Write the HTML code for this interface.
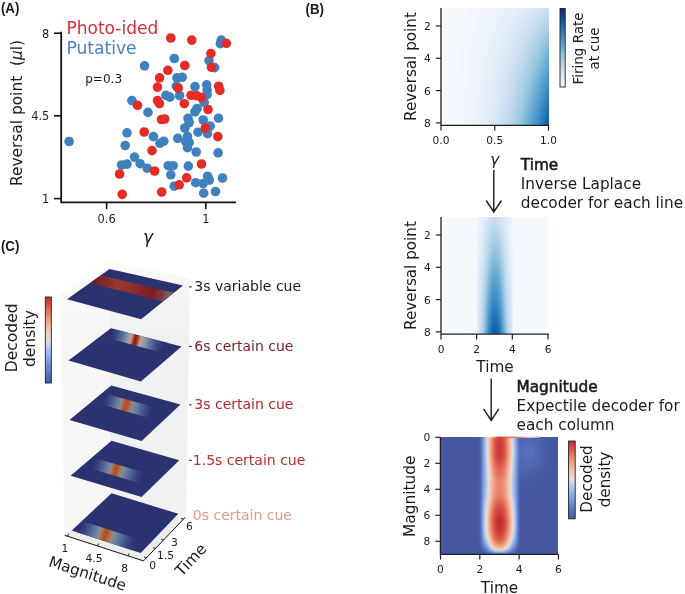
<!DOCTYPE html>
<html><head><meta charset="utf-8"><title>Figure</title>
<style>html,body{margin:0;padding:0;background:#fff}svg{display:block}</style></head>
<body>
<svg width="685" height="594" viewBox="0 0 685 594" font-family="'DejaVu Sans','Liberation Sans',sans-serif">
<defs>
<linearGradient id="g1" gradientUnits="userSpaceOnUse" x1="0" y1="8" x2="0" y2="125"><stop offset="0" stop-color="#f5f9fe"/><stop offset="0.2" stop-color="#f5f9fe"/><stop offset="0.4" stop-color="#f5f9fe"/><stop offset="0.6" stop-color="#f5f9fe"/><stop offset="0.8" stop-color="#f5f9fe"/><stop offset="1" stop-color="#f5f9fe"/></linearGradient>
<linearGradient id="g2" gradientUnits="userSpaceOnUse" x1="0" y1="8" x2="0" y2="125"><stop offset="0" stop-color="#f5f9fe"/><stop offset="0.2" stop-color="#f5f9fe"/><stop offset="0.4" stop-color="#f5f9fe"/><stop offset="0.6" stop-color="#f5f9fe"/><stop offset="0.8" stop-color="#f5f9fe"/><stop offset="1" stop-color="#f5f9fe"/></linearGradient>
<linearGradient id="g3" gradientUnits="userSpaceOnUse" x1="0" y1="8" x2="0" y2="125"><stop offset="0" stop-color="#f5f9fe"/><stop offset="0.2" stop-color="#f5f9fe"/><stop offset="0.4" stop-color="#f5f9fe"/><stop offset="0.6" stop-color="#f5f9fe"/><stop offset="0.8" stop-color="#f5f9fe"/><stop offset="1" stop-color="#f5f9fe"/></linearGradient>
<linearGradient id="g4" gradientUnits="userSpaceOnUse" x1="0" y1="8" x2="0" y2="125"><stop offset="0" stop-color="#f5f9fe"/><stop offset="0.2" stop-color="#f5f9fe"/><stop offset="0.4" stop-color="#f5f9fe"/><stop offset="0.6" stop-color="#f5f9fe"/><stop offset="0.8" stop-color="#f5f9fe"/><stop offset="1" stop-color="#f5f9fe"/></linearGradient>
<linearGradient id="g5" gradientUnits="userSpaceOnUse" x1="0" y1="8" x2="0" y2="125"><stop offset="0" stop-color="#f5f9fe"/><stop offset="0.2" stop-color="#f5f9fe"/><stop offset="0.4" stop-color="#f5f9fe"/><stop offset="0.6" stop-color="#f5f9fe"/><stop offset="0.8" stop-color="#f5f9fe"/><stop offset="1" stop-color="#f5f9fe"/></linearGradient>
<linearGradient id="g6" gradientUnits="userSpaceOnUse" x1="0" y1="8" x2="0" y2="125"><stop offset="0" stop-color="#f5f9fe"/><stop offset="0.2" stop-color="#f5f9fe"/><stop offset="0.4" stop-color="#f5f9fe"/><stop offset="0.6" stop-color="#f5f9fe"/><stop offset="0.8" stop-color="#f5f9fe"/><stop offset="1" stop-color="#f5f9fe"/></linearGradient>
<linearGradient id="g7" gradientUnits="userSpaceOnUse" x1="0" y1="8" x2="0" y2="125"><stop offset="0" stop-color="#f5f9fe"/><stop offset="0.2" stop-color="#f5f9fe"/><stop offset="0.4" stop-color="#f5f9fe"/><stop offset="0.6" stop-color="#f5f9fe"/><stop offset="0.8" stop-color="#f5f9fe"/><stop offset="1" stop-color="#f5f9fe"/></linearGradient>
<linearGradient id="g8" gradientUnits="userSpaceOnUse" x1="0" y1="8" x2="0" y2="125"><stop offset="0" stop-color="#f5f9fe"/><stop offset="0.2" stop-color="#f5f9fe"/><stop offset="0.4" stop-color="#f5f9fe"/><stop offset="0.6" stop-color="#f5f9fe"/><stop offset="0.8" stop-color="#f5f9fe"/><stop offset="1" stop-color="#f5f9fe"/></linearGradient>
<linearGradient id="g9" gradientUnits="userSpaceOnUse" x1="0" y1="8" x2="0" y2="125"><stop offset="0" stop-color="#f5f9fe"/><stop offset="0.2" stop-color="#f5f9fe"/><stop offset="0.4" stop-color="#f5f9fe"/><stop offset="0.6" stop-color="#f5f9fe"/><stop offset="0.8" stop-color="#f5f9fe"/><stop offset="1" stop-color="#f5f9fe"/></linearGradient>
<linearGradient id="g10" gradientUnits="userSpaceOnUse" x1="0" y1="8" x2="0" y2="125"><stop offset="0" stop-color="#f5f9fe"/><stop offset="0.2" stop-color="#f5f9fe"/><stop offset="0.4" stop-color="#f5f9fe"/><stop offset="0.6" stop-color="#f5f9fe"/><stop offset="0.8" stop-color="#f5f9fe"/><stop offset="1" stop-color="#f5f9fe"/></linearGradient>
<linearGradient id="g11" gradientUnits="userSpaceOnUse" x1="0" y1="8" x2="0" y2="125"><stop offset="0" stop-color="#f5f9fe"/><stop offset="0.2" stop-color="#f5f9fe"/><stop offset="0.4" stop-color="#f5f9fe"/><stop offset="0.6" stop-color="#f5f9fe"/><stop offset="0.8" stop-color="#f5f9fe"/><stop offset="1" stop-color="#f5f9fe"/></linearGradient>
<linearGradient id="g12" gradientUnits="userSpaceOnUse" x1="0" y1="8" x2="0" y2="125"><stop offset="0" stop-color="#f5f9fe"/><stop offset="0.2" stop-color="#f5f9fe"/><stop offset="0.4" stop-color="#f5f9fe"/><stop offset="0.6" stop-color="#f5f9fe"/><stop offset="0.8" stop-color="#f5f9fe"/><stop offset="1" stop-color="#f5f9fe"/></linearGradient>
<linearGradient id="g13" gradientUnits="userSpaceOnUse" x1="0" y1="8" x2="0" y2="125"><stop offset="0" stop-color="#f5f9fe"/><stop offset="0.2" stop-color="#f5f9fe"/><stop offset="0.4" stop-color="#f5f9fe"/><stop offset="0.6" stop-color="#f5f9fe"/><stop offset="0.8" stop-color="#f5f9fe"/><stop offset="1" stop-color="#f4f9fe"/></linearGradient>
<linearGradient id="g14" gradientUnits="userSpaceOnUse" x1="0" y1="8" x2="0" y2="125"><stop offset="0" stop-color="#f5f9fe"/><stop offset="0.2" stop-color="#f5f9fe"/><stop offset="0.4" stop-color="#f5f9fe"/><stop offset="0.6" stop-color="#f5f9fe"/><stop offset="0.8" stop-color="#f4f9fe"/><stop offset="1" stop-color="#f4f9fe"/></linearGradient>
<linearGradient id="g15" gradientUnits="userSpaceOnUse" x1="0" y1="8" x2="0" y2="125"><stop offset="0" stop-color="#f5f9fe"/><stop offset="0.2" stop-color="#f5f9fe"/><stop offset="0.4" stop-color="#f5f9fe"/><stop offset="0.6" stop-color="#f4f9fe"/><stop offset="0.8" stop-color="#f4f9fe"/><stop offset="1" stop-color="#f4f9fe"/></linearGradient>
<linearGradient id="g16" gradientUnits="userSpaceOnUse" x1="0" y1="8" x2="0" y2="125"><stop offset="0" stop-color="#f5f9fe"/><stop offset="0.2" stop-color="#f5f9fe"/><stop offset="0.4" stop-color="#f4f9fe"/><stop offset="0.6" stop-color="#f4f9fe"/><stop offset="0.8" stop-color="#f4f9fe"/><stop offset="1" stop-color="#f4f9fe"/></linearGradient>
<linearGradient id="g17" gradientUnits="userSpaceOnUse" x1="0" y1="8" x2="0" y2="125"><stop offset="0" stop-color="#f5f9fe"/><stop offset="0.2" stop-color="#f5f9fe"/><stop offset="0.4" stop-color="#f4f9fe"/><stop offset="0.6" stop-color="#f4f9fe"/><stop offset="0.8" stop-color="#f4f9fe"/><stop offset="1" stop-color="#f3f8fe"/></linearGradient>
<linearGradient id="g18" gradientUnits="userSpaceOnUse" x1="0" y1="8" x2="0" y2="125"><stop offset="0" stop-color="#f5f9fe"/><stop offset="0.2" stop-color="#f4f9fe"/><stop offset="0.4" stop-color="#f4f9fe"/><stop offset="0.6" stop-color="#f4f9fe"/><stop offset="0.8" stop-color="#f3f8fe"/><stop offset="1" stop-color="#f3f8fe"/></linearGradient>
<linearGradient id="g19" gradientUnits="userSpaceOnUse" x1="0" y1="8" x2="0" y2="125"><stop offset="0" stop-color="#f5f9fe"/><stop offset="0.2" stop-color="#f4f9fe"/><stop offset="0.4" stop-color="#f4f9fe"/><stop offset="0.6" stop-color="#f3f8fe"/><stop offset="0.8" stop-color="#f3f8fe"/><stop offset="1" stop-color="#f3f8fe"/></linearGradient>
<linearGradient id="g20" gradientUnits="userSpaceOnUse" x1="0" y1="8" x2="0" y2="125"><stop offset="0" stop-color="#f5f9fe"/><stop offset="0.2" stop-color="#f4f9fe"/><stop offset="0.4" stop-color="#f4f9fe"/><stop offset="0.6" stop-color="#f3f8fe"/><stop offset="0.8" stop-color="#f3f8fe"/><stop offset="1" stop-color="#f2f8fd"/></linearGradient>
<linearGradient id="g21" gradientUnits="userSpaceOnUse" x1="0" y1="8" x2="0" y2="125"><stop offset="0" stop-color="#f5f9fe"/><stop offset="0.2" stop-color="#f4f9fe"/><stop offset="0.4" stop-color="#f3f8fe"/><stop offset="0.6" stop-color="#f3f8fe"/><stop offset="0.8" stop-color="#f2f8fd"/><stop offset="1" stop-color="#f2f8fd"/></linearGradient>
<linearGradient id="g22" gradientUnits="userSpaceOnUse" x1="0" y1="8" x2="0" y2="125"><stop offset="0" stop-color="#f4f9fe"/><stop offset="0.2" stop-color="#f4f9fe"/><stop offset="0.4" stop-color="#f3f8fe"/><stop offset="0.6" stop-color="#f3f8fe"/><stop offset="0.8" stop-color="#f2f8fd"/><stop offset="1" stop-color="#f2f7fd"/></linearGradient>
<linearGradient id="g23" gradientUnits="userSpaceOnUse" x1="0" y1="8" x2="0" y2="125"><stop offset="0" stop-color="#f4f9fe"/><stop offset="0.2" stop-color="#f4f9fe"/><stop offset="0.4" stop-color="#f3f8fe"/><stop offset="0.6" stop-color="#f2f8fd"/><stop offset="0.8" stop-color="#f2f8fd"/><stop offset="1" stop-color="#f2f7fd"/></linearGradient>
<linearGradient id="g24" gradientUnits="userSpaceOnUse" x1="0" y1="8" x2="0" y2="125"><stop offset="0" stop-color="#f4f9fe"/><stop offset="0.2" stop-color="#f3f8fe"/><stop offset="0.4" stop-color="#f3f8fe"/><stop offset="0.6" stop-color="#f2f8fd"/><stop offset="0.8" stop-color="#f2f7fd"/><stop offset="1" stop-color="#f1f7fd"/></linearGradient>
<linearGradient id="g25" gradientUnits="userSpaceOnUse" x1="0" y1="8" x2="0" y2="125"><stop offset="0" stop-color="#f4f9fe"/><stop offset="0.2" stop-color="#f3f8fe"/><stop offset="0.4" stop-color="#f2f8fd"/><stop offset="0.6" stop-color="#f2f7fd"/><stop offset="0.8" stop-color="#f2f7fd"/><stop offset="1" stop-color="#f1f7fd"/></linearGradient>
<linearGradient id="g26" gradientUnits="userSpaceOnUse" x1="0" y1="8" x2="0" y2="125"><stop offset="0" stop-color="#f4f9fe"/><stop offset="0.2" stop-color="#f3f8fe"/><stop offset="0.4" stop-color="#f2f8fd"/><stop offset="0.6" stop-color="#f2f7fd"/><stop offset="0.8" stop-color="#f1f7fd"/><stop offset="1" stop-color="#f0f6fd"/></linearGradient>
<linearGradient id="g27" gradientUnits="userSpaceOnUse" x1="0" y1="8" x2="0" y2="125"><stop offset="0" stop-color="#f4f9fe"/><stop offset="0.2" stop-color="#f3f8fe"/><stop offset="0.4" stop-color="#f2f8fd"/><stop offset="0.6" stop-color="#f2f7fd"/><stop offset="0.8" stop-color="#f1f7fd"/><stop offset="1" stop-color="#f0f6fd"/></linearGradient>
<linearGradient id="g28" gradientUnits="userSpaceOnUse" x1="0" y1="8" x2="0" y2="125"><stop offset="0" stop-color="#f4f9fe"/><stop offset="0.2" stop-color="#f2f8fd"/><stop offset="0.4" stop-color="#f2f7fd"/><stop offset="0.6" stop-color="#f1f7fd"/><stop offset="0.8" stop-color="#f0f6fd"/><stop offset="1" stop-color="#eff6fc"/></linearGradient>
<linearGradient id="g29" gradientUnits="userSpaceOnUse" x1="0" y1="8" x2="0" y2="125"><stop offset="0" stop-color="#f3f8fe"/><stop offset="0.2" stop-color="#f2f8fd"/><stop offset="0.4" stop-color="#f2f7fd"/><stop offset="0.6" stop-color="#f1f7fd"/><stop offset="0.8" stop-color="#eff6fc"/><stop offset="1" stop-color="#eef5fc"/></linearGradient>
<linearGradient id="g30" gradientUnits="userSpaceOnUse" x1="0" y1="8" x2="0" y2="125"><stop offset="0" stop-color="#f3f8fe"/><stop offset="0.2" stop-color="#f2f8fd"/><stop offset="0.4" stop-color="#f1f7fd"/><stop offset="0.6" stop-color="#f0f6fd"/><stop offset="0.8" stop-color="#eff6fc"/><stop offset="1" stop-color="#eef5fc"/></linearGradient>
<linearGradient id="g31" gradientUnits="userSpaceOnUse" x1="0" y1="8" x2="0" y2="125"><stop offset="0" stop-color="#f3f8fe"/><stop offset="0.2" stop-color="#f2f7fd"/><stop offset="0.4" stop-color="#f1f7fd"/><stop offset="0.6" stop-color="#f0f6fd"/><stop offset="0.8" stop-color="#eef5fc"/><stop offset="1" stop-color="#eef5fc"/></linearGradient>
<linearGradient id="g32" gradientUnits="userSpaceOnUse" x1="0" y1="8" x2="0" y2="125"><stop offset="0" stop-color="#f3f8fe"/><stop offset="0.2" stop-color="#f2f7fd"/><stop offset="0.4" stop-color="#f1f7fd"/><stop offset="0.6" stop-color="#eff6fc"/><stop offset="0.8" stop-color="#eef5fc"/><stop offset="1" stop-color="#edf4fc"/></linearGradient>
<linearGradient id="g33" gradientUnits="userSpaceOnUse" x1="0" y1="8" x2="0" y2="125"><stop offset="0" stop-color="#f3f8fe"/><stop offset="0.2" stop-color="#f2f7fd"/><stop offset="0.4" stop-color="#f0f6fd"/><stop offset="0.6" stop-color="#eef5fc"/><stop offset="0.8" stop-color="#eef5fc"/><stop offset="1" stop-color="#ecf4fb"/></linearGradient>
<linearGradient id="g34" gradientUnits="userSpaceOnUse" x1="0" y1="8" x2="0" y2="125"><stop offset="0" stop-color="#f2f8fd"/><stop offset="0.2" stop-color="#f1f7fd"/><stop offset="0.4" stop-color="#f0f6fd"/><stop offset="0.6" stop-color="#eef5fc"/><stop offset="0.8" stop-color="#edf4fc"/><stop offset="1" stop-color="#ebf3fb"/></linearGradient>
<linearGradient id="g35" gradientUnits="userSpaceOnUse" x1="0" y1="8" x2="0" y2="125"><stop offset="0" stop-color="#f2f8fd"/><stop offset="0.2" stop-color="#f1f7fd"/><stop offset="0.4" stop-color="#eff6fc"/><stop offset="0.6" stop-color="#eef5fc"/><stop offset="0.8" stop-color="#ecf4fb"/><stop offset="1" stop-color="#ebf3fb"/></linearGradient>
<linearGradient id="g36" gradientUnits="userSpaceOnUse" x1="0" y1="8" x2="0" y2="125"><stop offset="0" stop-color="#f2f8fd"/><stop offset="0.2" stop-color="#f1f7fd"/><stop offset="0.4" stop-color="#eff6fc"/><stop offset="0.6" stop-color="#edf4fc"/><stop offset="0.8" stop-color="#ecf4fb"/><stop offset="1" stop-color="#eaf3fb"/></linearGradient>
<linearGradient id="g37" gradientUnits="userSpaceOnUse" x1="0" y1="8" x2="0" y2="125"><stop offset="0" stop-color="#f2f8fd"/><stop offset="0.2" stop-color="#f0f6fd"/><stop offset="0.4" stop-color="#eef5fc"/><stop offset="0.6" stop-color="#edf4fc"/><stop offset="0.8" stop-color="#ebf3fb"/><stop offset="1" stop-color="#eaf2fb"/></linearGradient>
<linearGradient id="g38" gradientUnits="userSpaceOnUse" x1="0" y1="8" x2="0" y2="125"><stop offset="0" stop-color="#f2f7fd"/><stop offset="0.2" stop-color="#f0f6fd"/><stop offset="0.4" stop-color="#eef5fc"/><stop offset="0.6" stop-color="#ecf4fb"/><stop offset="0.8" stop-color="#eaf3fb"/><stop offset="1" stop-color="#e9f2fa"/></linearGradient>
<linearGradient id="g39" gradientUnits="userSpaceOnUse" x1="0" y1="8" x2="0" y2="125"><stop offset="0" stop-color="#f2f7fd"/><stop offset="0.2" stop-color="#eff6fc"/><stop offset="0.4" stop-color="#eef5fc"/><stop offset="0.6" stop-color="#ebf3fb"/><stop offset="0.8" stop-color="#eaf2fb"/><stop offset="1" stop-color="#e8f1fa"/></linearGradient>
<linearGradient id="g40" gradientUnits="userSpaceOnUse" x1="0" y1="8" x2="0" y2="125"><stop offset="0" stop-color="#f2f7fd"/><stop offset="0.2" stop-color="#eff6fc"/><stop offset="0.4" stop-color="#edf4fc"/><stop offset="0.6" stop-color="#eaf3fb"/><stop offset="0.8" stop-color="#e9f2fa"/><stop offset="1" stop-color="#e7f0fa"/></linearGradient>
<linearGradient id="g41" gradientUnits="userSpaceOnUse" x1="0" y1="8" x2="0" y2="125"><stop offset="0" stop-color="#f2f7fd"/><stop offset="0.2" stop-color="#eef5fc"/><stop offset="0.4" stop-color="#ecf4fb"/><stop offset="0.6" stop-color="#eaf3fb"/><stop offset="0.8" stop-color="#e8f1fa"/><stop offset="1" stop-color="#e6f0f9"/></linearGradient>
<linearGradient id="g42" gradientUnits="userSpaceOnUse" x1="0" y1="8" x2="0" y2="125"><stop offset="0" stop-color="#f1f7fd"/><stop offset="0.2" stop-color="#eef5fc"/><stop offset="0.4" stop-color="#ecf4fb"/><stop offset="0.6" stop-color="#eaf2fb"/><stop offset="0.8" stop-color="#e7f1fa"/><stop offset="1" stop-color="#e5eff9"/></linearGradient>
<linearGradient id="g43" gradientUnits="userSpaceOnUse" x1="0" y1="8" x2="0" y2="125"><stop offset="0" stop-color="#f1f7fd"/><stop offset="0.2" stop-color="#eef5fc"/><stop offset="0.4" stop-color="#ebf3fb"/><stop offset="0.6" stop-color="#e9f2fa"/><stop offset="0.8" stop-color="#e7f0fa"/><stop offset="1" stop-color="#e4eff9"/></linearGradient>
<linearGradient id="g44" gradientUnits="userSpaceOnUse" x1="0" y1="8" x2="0" y2="125"><stop offset="0" stop-color="#f1f7fd"/><stop offset="0.2" stop-color="#eef5fc"/><stop offset="0.4" stop-color="#eaf3fb"/><stop offset="0.6" stop-color="#e8f1fa"/><stop offset="0.8" stop-color="#e6f0f9"/><stop offset="1" stop-color="#e3eef9"/></linearGradient>
<linearGradient id="g45" gradientUnits="userSpaceOnUse" x1="0" y1="8" x2="0" y2="125"><stop offset="0" stop-color="#f0f6fd"/><stop offset="0.2" stop-color="#edf4fc"/><stop offset="0.4" stop-color="#eaf3fb"/><stop offset="0.6" stop-color="#e7f1fa"/><stop offset="0.8" stop-color="#e5eff9"/><stop offset="1" stop-color="#e2edf8"/></linearGradient>
<linearGradient id="g46" gradientUnits="userSpaceOnUse" x1="0" y1="8" x2="0" y2="125"><stop offset="0" stop-color="#f0f6fd"/><stop offset="0.2" stop-color="#edf4fc"/><stop offset="0.4" stop-color="#eaf2fb"/><stop offset="0.6" stop-color="#e7f0fa"/><stop offset="0.8" stop-color="#e3eef9"/><stop offset="1" stop-color="#e1edf8"/></linearGradient>
<linearGradient id="g47" gradientUnits="userSpaceOnUse" x1="0" y1="8" x2="0" y2="125"><stop offset="0" stop-color="#f0f6fd"/><stop offset="0.2" stop-color="#ecf4fb"/><stop offset="0.4" stop-color="#e9f2fa"/><stop offset="0.6" stop-color="#e6f0f9"/><stop offset="0.8" stop-color="#e3eef8"/><stop offset="1" stop-color="#e0ecf8"/></linearGradient>
<linearGradient id="g48" gradientUnits="userSpaceOnUse" x1="0" y1="8" x2="0" y2="125"><stop offset="0" stop-color="#eff6fc"/><stop offset="0.2" stop-color="#ecf4fb"/><stop offset="0.4" stop-color="#e8f1fa"/><stop offset="0.6" stop-color="#e5eff9"/><stop offset="0.8" stop-color="#e2edf8"/><stop offset="1" stop-color="#dfebf7"/></linearGradient>
<linearGradient id="g49" gradientUnits="userSpaceOnUse" x1="0" y1="8" x2="0" y2="125"><stop offset="0" stop-color="#eff6fc"/><stop offset="0.2" stop-color="#ebf3fb"/><stop offset="0.4" stop-color="#e7f1fa"/><stop offset="0.6" stop-color="#e4eff9"/><stop offset="0.8" stop-color="#e1edf8"/><stop offset="1" stop-color="#deebf7"/></linearGradient>
<linearGradient id="g50" gradientUnits="userSpaceOnUse" x1="0" y1="8" x2="0" y2="125"><stop offset="0" stop-color="#eff6fc"/><stop offset="0.2" stop-color="#eaf3fb"/><stop offset="0.4" stop-color="#e7f0fa"/><stop offset="0.6" stop-color="#e3eef9"/><stop offset="0.8" stop-color="#dfecf7"/><stop offset="1" stop-color="#dceaf6"/></linearGradient>
<linearGradient id="g51" gradientUnits="userSpaceOnUse" x1="0" y1="8" x2="0" y2="125"><stop offset="0" stop-color="#eef5fc"/><stop offset="0.2" stop-color="#eaf3fb"/><stop offset="0.4" stop-color="#e7f0fa"/><stop offset="0.6" stop-color="#e3eef8"/><stop offset="0.8" stop-color="#dfebf7"/><stop offset="1" stop-color="#dbe9f6"/></linearGradient>
<linearGradient id="g52" gradientUnits="userSpaceOnUse" x1="0" y1="8" x2="0" y2="125"><stop offset="0" stop-color="#eef5fc"/><stop offset="0.2" stop-color="#eaf2fb"/><stop offset="0.4" stop-color="#e6f0f9"/><stop offset="0.6" stop-color="#e2edf8"/><stop offset="0.8" stop-color="#deebf7"/><stop offset="1" stop-color="#dae8f6"/></linearGradient>
<linearGradient id="g53" gradientUnits="userSpaceOnUse" x1="0" y1="8" x2="0" y2="125"><stop offset="0" stop-color="#eef5fc"/><stop offset="0.2" stop-color="#e9f2fa"/><stop offset="0.4" stop-color="#e5eff9"/><stop offset="0.6" stop-color="#e0ecf8"/><stop offset="0.8" stop-color="#dceaf6"/><stop offset="1" stop-color="#d9e7f5"/></linearGradient>
<linearGradient id="g54" gradientUnits="userSpaceOnUse" x1="0" y1="8" x2="0" y2="125"><stop offset="0" stop-color="#eef5fc"/><stop offset="0.2" stop-color="#e9f2fa"/><stop offset="0.4" stop-color="#e4eff9"/><stop offset="0.6" stop-color="#dfecf7"/><stop offset="0.8" stop-color="#dce9f6"/><stop offset="1" stop-color="#d7e6f5"/></linearGradient>
<linearGradient id="g55" gradientUnits="userSpaceOnUse" x1="0" y1="8" x2="0" y2="125"><stop offset="0" stop-color="#edf4fc"/><stop offset="0.2" stop-color="#e8f1fa"/><stop offset="0.4" stop-color="#e3eef9"/><stop offset="0.6" stop-color="#dfebf7"/><stop offset="0.8" stop-color="#dae8f6"/><stop offset="1" stop-color="#d6e6f4"/></linearGradient>
<linearGradient id="g56" gradientUnits="userSpaceOnUse" x1="0" y1="8" x2="0" y2="125"><stop offset="0" stop-color="#edf4fc"/><stop offset="0.2" stop-color="#e7f1fa"/><stop offset="0.4" stop-color="#e3eef8"/><stop offset="0.6" stop-color="#ddeaf7"/><stop offset="0.8" stop-color="#d9e8f5"/><stop offset="1" stop-color="#d5e5f4"/></linearGradient>
<linearGradient id="g57" gradientUnits="userSpaceOnUse" x1="0" y1="8" x2="0" y2="125"><stop offset="0" stop-color="#ecf4fb"/><stop offset="0.2" stop-color="#e7f0fa"/><stop offset="0.4" stop-color="#e2edf8"/><stop offset="0.6" stop-color="#dceaf6"/><stop offset="0.8" stop-color="#d8e7f5"/><stop offset="1" stop-color="#d3e4f3"/></linearGradient>
<linearGradient id="g58" gradientUnits="userSpaceOnUse" x1="0" y1="8" x2="0" y2="125"><stop offset="0" stop-color="#ecf4fb"/><stop offset="0.2" stop-color="#e6f0f9"/><stop offset="0.4" stop-color="#e0ecf8"/><stop offset="0.6" stop-color="#dce9f6"/><stop offset="0.8" stop-color="#d6e6f4"/><stop offset="1" stop-color="#d2e3f3"/></linearGradient>
<linearGradient id="g59" gradientUnits="userSpaceOnUse" x1="0" y1="8" x2="0" y2="125"><stop offset="0" stop-color="#ebf3fb"/><stop offset="0.2" stop-color="#e6f0f9"/><stop offset="0.4" stop-color="#dfecf7"/><stop offset="0.6" stop-color="#dae8f6"/><stop offset="0.8" stop-color="#d6e5f4"/><stop offset="1" stop-color="#d0e2f2"/></linearGradient>
<linearGradient id="g60" gradientUnits="userSpaceOnUse" x1="0" y1="8" x2="0" y2="125"><stop offset="0" stop-color="#ebf3fb"/><stop offset="0.2" stop-color="#e5eff9"/><stop offset="0.4" stop-color="#dfebf7"/><stop offset="0.6" stop-color="#d9e8f5"/><stop offset="0.8" stop-color="#d4e4f4"/><stop offset="1" stop-color="#cfe1f2"/></linearGradient>
<linearGradient id="g61" gradientUnits="userSpaceOnUse" x1="0" y1="8" x2="0" y2="125"><stop offset="0" stop-color="#eaf3fb"/><stop offset="0.2" stop-color="#e4eff9"/><stop offset="0.4" stop-color="#deebf7"/><stop offset="0.6" stop-color="#d8e7f5"/><stop offset="0.8" stop-color="#d3e3f3"/><stop offset="1" stop-color="#cde0f1"/></linearGradient>
<linearGradient id="g62" gradientUnits="userSpaceOnUse" x1="0" y1="8" x2="0" y2="125"><stop offset="0" stop-color="#eaf3fb"/><stop offset="0.2" stop-color="#e3eef9"/><stop offset="0.4" stop-color="#ddeaf7"/><stop offset="0.6" stop-color="#d7e6f5"/><stop offset="0.8" stop-color="#d1e2f3"/><stop offset="1" stop-color="#ccdff1"/></linearGradient>
<linearGradient id="g63" gradientUnits="userSpaceOnUse" x1="0" y1="8" x2="0" y2="125"><stop offset="0" stop-color="#eaf2fb"/><stop offset="0.2" stop-color="#e3eef8"/><stop offset="0.4" stop-color="#dceaf6"/><stop offset="0.6" stop-color="#d6e5f4"/><stop offset="0.8" stop-color="#d0e1f2"/><stop offset="1" stop-color="#cadef0"/></linearGradient>
<linearGradient id="g64" gradientUnits="userSpaceOnUse" x1="0" y1="8" x2="0" y2="125"><stop offset="0" stop-color="#eaf2fb"/><stop offset="0.2" stop-color="#e2edf8"/><stop offset="0.4" stop-color="#dbe9f6"/><stop offset="0.6" stop-color="#d5e5f4"/><stop offset="0.8" stop-color="#cee0f2"/><stop offset="1" stop-color="#c8dcf0"/></linearGradient>
<linearGradient id="g65" gradientUnits="userSpaceOnUse" x1="0" y1="8" x2="0" y2="125"><stop offset="0" stop-color="#e9f2fa"/><stop offset="0.2" stop-color="#e1edf8"/><stop offset="0.4" stop-color="#dae8f6"/><stop offset="0.6" stop-color="#d3e4f3"/><stop offset="0.8" stop-color="#cde0f1"/><stop offset="1" stop-color="#c7dbef"/></linearGradient>
<linearGradient id="g66" gradientUnits="userSpaceOnUse" x1="0" y1="8" x2="0" y2="125"><stop offset="0" stop-color="#e9f2fa"/><stop offset="0.2" stop-color="#e0ecf8"/><stop offset="0.4" stop-color="#d9e8f5"/><stop offset="0.6" stop-color="#d2e3f3"/><stop offset="0.8" stop-color="#cbdef1"/><stop offset="1" stop-color="#c4daee"/></linearGradient>
<linearGradient id="g67" gradientUnits="userSpaceOnUse" x1="0" y1="8" x2="0" y2="125"><stop offset="0" stop-color="#e8f1fa"/><stop offset="0.2" stop-color="#dfecf7"/><stop offset="0.4" stop-color="#d8e7f5"/><stop offset="0.6" stop-color="#d1e2f3"/><stop offset="0.8" stop-color="#caddf0"/><stop offset="1" stop-color="#c1d9ed"/></linearGradient>
<linearGradient id="g68" gradientUnits="userSpaceOnUse" x1="0" y1="8" x2="0" y2="125"><stop offset="0" stop-color="#e7f1fa"/><stop offset="0.2" stop-color="#dfebf7"/><stop offset="0.4" stop-color="#d7e6f5"/><stop offset="0.6" stop-color="#d0e1f2"/><stop offset="0.8" stop-color="#c8dcf0"/><stop offset="1" stop-color="#bed8ec"/></linearGradient>
<linearGradient id="g69" gradientUnits="userSpaceOnUse" x1="0" y1="8" x2="0" y2="125"><stop offset="0" stop-color="#e7f1fa"/><stop offset="0.2" stop-color="#deebf7"/><stop offset="0.4" stop-color="#d6e5f4"/><stop offset="0.6" stop-color="#cee0f2"/><stop offset="0.8" stop-color="#c7dbef"/><stop offset="1" stop-color="#bcd7eb"/></linearGradient>
<linearGradient id="g70" gradientUnits="userSpaceOnUse" x1="0" y1="8" x2="0" y2="125"><stop offset="0" stop-color="#e7f0fa"/><stop offset="0.2" stop-color="#ddeaf7"/><stop offset="0.4" stop-color="#d5e5f4"/><stop offset="0.6" stop-color="#cddff1"/><stop offset="0.8" stop-color="#c4daee"/><stop offset="1" stop-color="#b8d5ea"/></linearGradient>
<linearGradient id="g71" gradientUnits="userSpaceOnUse" x1="0" y1="8" x2="0" y2="125"><stop offset="0" stop-color="#e6f0f9"/><stop offset="0.2" stop-color="#dceaf6"/><stop offset="0.4" stop-color="#d3e4f3"/><stop offset="0.6" stop-color="#cbdef1"/><stop offset="0.8" stop-color="#c2d9ee"/><stop offset="1" stop-color="#b4d3e9"/></linearGradient>
<linearGradient id="g72" gradientUnits="userSpaceOnUse" x1="0" y1="8" x2="0" y2="125"><stop offset="0" stop-color="#e6f0f9"/><stop offset="0.2" stop-color="#dce9f6"/><stop offset="0.4" stop-color="#d3e3f3"/><stop offset="0.6" stop-color="#cadef0"/><stop offset="0.8" stop-color="#bed8ec"/><stop offset="1" stop-color="#b2d2e8"/></linearGradient>
<linearGradient id="g73" gradientUnits="userSpaceOnUse" x1="0" y1="8" x2="0" y2="125"><stop offset="0" stop-color="#e5eff9"/><stop offset="0.2" stop-color="#dbe9f6"/><stop offset="0.4" stop-color="#d1e2f3"/><stop offset="0.6" stop-color="#c9ddf0"/><stop offset="0.8" stop-color="#bcd7eb"/><stop offset="1" stop-color="#aed1e7"/></linearGradient>
<linearGradient id="g74" gradientUnits="userSpaceOnUse" x1="0" y1="8" x2="0" y2="125"><stop offset="0" stop-color="#e4eff9"/><stop offset="0.2" stop-color="#dae8f6"/><stop offset="0.4" stop-color="#d0e2f2"/><stop offset="0.6" stop-color="#c7dcef"/><stop offset="0.8" stop-color="#b9d6ea"/><stop offset="1" stop-color="#aacfe5"/></linearGradient>
<linearGradient id="g75" gradientUnits="userSpaceOnUse" x1="0" y1="8" x2="0" y2="125"><stop offset="0" stop-color="#e4eff9"/><stop offset="0.2" stop-color="#d9e7f5"/><stop offset="0.4" stop-color="#cfe1f2"/><stop offset="0.6" stop-color="#c6dbef"/><stop offset="0.8" stop-color="#b5d4e9"/><stop offset="1" stop-color="#a6cee4"/></linearGradient>
<linearGradient id="g76" gradientUnits="userSpaceOnUse" x1="0" y1="8" x2="0" y2="125"><stop offset="0" stop-color="#e3eef9"/><stop offset="0.2" stop-color="#d8e7f5"/><stop offset="0.4" stop-color="#cee0f2"/><stop offset="0.6" stop-color="#c2d9ee"/><stop offset="0.8" stop-color="#b3d3e8"/><stop offset="1" stop-color="#a4cce3"/></linearGradient>
<linearGradient id="g77" gradientUnits="userSpaceOnUse" x1="0" y1="8" x2="0" y2="125"><stop offset="0" stop-color="#e3eef8"/><stop offset="0.2" stop-color="#d7e6f5"/><stop offset="0.4" stop-color="#cddff1"/><stop offset="0.6" stop-color="#bfd8ed"/><stop offset="0.8" stop-color="#afd1e7"/><stop offset="1" stop-color="#a0cbe2"/></linearGradient>
<linearGradient id="g78" gradientUnits="userSpaceOnUse" x1="0" y1="8" x2="0" y2="125"><stop offset="0" stop-color="#e2edf8"/><stop offset="0.2" stop-color="#d6e6f4"/><stop offset="0.4" stop-color="#cbdef1"/><stop offset="0.6" stop-color="#bdd7ec"/><stop offset="0.8" stop-color="#add0e6"/><stop offset="1" stop-color="#9cc9e1"/></linearGradient>
<linearGradient id="g79" gradientUnits="userSpaceOnUse" x1="0" y1="8" x2="0" y2="125"><stop offset="0" stop-color="#e2edf8"/><stop offset="0.2" stop-color="#d6e5f4"/><stop offset="0.4" stop-color="#caddf0"/><stop offset="0.6" stop-color="#bad6eb"/><stop offset="0.8" stop-color="#a9cfe5"/><stop offset="1" stop-color="#97c6df"/></linearGradient>
<linearGradient id="g80" gradientUnits="userSpaceOnUse" x1="0" y1="8" x2="0" y2="125"><stop offset="0" stop-color="#e1edf8"/><stop offset="0.2" stop-color="#d4e4f4"/><stop offset="0.4" stop-color="#c9ddf0"/><stop offset="0.6" stop-color="#b8d5ea"/><stop offset="0.8" stop-color="#a5cde3"/><stop offset="1" stop-color="#92c4de"/></linearGradient>
<linearGradient id="g81" gradientUnits="userSpaceOnUse" x1="0" y1="8" x2="0" y2="125"><stop offset="0" stop-color="#e0ecf8"/><stop offset="0.2" stop-color="#d3e4f3"/><stop offset="0.4" stop-color="#c7dcef"/><stop offset="0.6" stop-color="#b5d4e9"/><stop offset="0.8" stop-color="#a3cce3"/><stop offset="1" stop-color="#8cc0dd"/></linearGradient>
<linearGradient id="g82" gradientUnits="userSpaceOnUse" x1="0" y1="8" x2="0" y2="125"><stop offset="0" stop-color="#dfecf7"/><stop offset="0.2" stop-color="#d3e3f3"/><stop offset="0.4" stop-color="#c6dbef"/><stop offset="0.6" stop-color="#b2d2e8"/><stop offset="0.8" stop-color="#9fcae1"/><stop offset="1" stop-color="#87bddc"/></linearGradient>
<linearGradient id="g83" gradientUnits="userSpaceOnUse" x1="0" y1="8" x2="0" y2="125"><stop offset="0" stop-color="#dfecf7"/><stop offset="0.2" stop-color="#d1e2f3"/><stop offset="0.4" stop-color="#c3daee"/><stop offset="0.6" stop-color="#afd1e7"/><stop offset="0.8" stop-color="#9ac8e0"/><stop offset="1" stop-color="#82bbdb"/></linearGradient>
<linearGradient id="g84" gradientUnits="userSpaceOnUse" x1="0" y1="8" x2="0" y2="125"><stop offset="0" stop-color="#dfebf7"/><stop offset="0.2" stop-color="#d0e2f2"/><stop offset="0.4" stop-color="#c1d9ed"/><stop offset="0.6" stop-color="#abd0e6"/><stop offset="0.8" stop-color="#95c5df"/><stop offset="1" stop-color="#7db8da"/></linearGradient>
<linearGradient id="g85" gradientUnits="userSpaceOnUse" x1="0" y1="8" x2="0" y2="125"><stop offset="0" stop-color="#deebf7"/><stop offset="0.2" stop-color="#cfe1f2"/><stop offset="0.4" stop-color="#bed8ec"/><stop offset="0.6" stop-color="#a9cfe5"/><stop offset="0.8" stop-color="#91c3de"/><stop offset="1" stop-color="#77b5d9"/></linearGradient>
<linearGradient id="g86" gradientUnits="userSpaceOnUse" x1="0" y1="8" x2="0" y2="125"><stop offset="0" stop-color="#ddeaf7"/><stop offset="0.2" stop-color="#cee0f2"/><stop offset="0.4" stop-color="#bcd7eb"/><stop offset="0.6" stop-color="#a6cee4"/><stop offset="0.8" stop-color="#8cc0dd"/><stop offset="1" stop-color="#72b2d8"/></linearGradient>
<linearGradient id="g87" gradientUnits="userSpaceOnUse" x1="0" y1="8" x2="0" y2="125"><stop offset="0" stop-color="#dceaf6"/><stop offset="0.2" stop-color="#cddff1"/><stop offset="0.4" stop-color="#b9d6ea"/><stop offset="0.6" stop-color="#a3cce3"/><stop offset="0.8" stop-color="#87bddc"/><stop offset="1" stop-color="#6caed6"/></linearGradient>
<linearGradient id="g88" gradientUnits="userSpaceOnUse" x1="0" y1="8" x2="0" y2="125"><stop offset="0" stop-color="#dce9f6"/><stop offset="0.2" stop-color="#ccdff1"/><stop offset="0.4" stop-color="#b7d4ea"/><stop offset="0.6" stop-color="#9fcae1"/><stop offset="0.8" stop-color="#82bbdb"/><stop offset="1" stop-color="#68acd5"/></linearGradient>
<linearGradient id="g89" gradientUnits="userSpaceOnUse" x1="0" y1="8" x2="0" y2="125"><stop offset="0" stop-color="#dbe9f6"/><stop offset="0.2" stop-color="#cadef0"/><stop offset="0.4" stop-color="#b4d3e9"/><stop offset="0.6" stop-color="#9cc9e1"/><stop offset="0.8" stop-color="#7db8da"/><stop offset="1" stop-color="#63a8d3"/></linearGradient>
<linearGradient id="g90" gradientUnits="userSpaceOnUse" x1="0" y1="8" x2="0" y2="125"><stop offset="0" stop-color="#dae8f6"/><stop offset="0.2" stop-color="#caddf0"/><stop offset="0.4" stop-color="#b2d2e8"/><stop offset="0.6" stop-color="#97c6df"/><stop offset="0.8" stop-color="#79b5d9"/><stop offset="1" stop-color="#5da5d1"/></linearGradient>
<linearGradient id="g91" gradientUnits="userSpaceOnUse" x1="0" y1="8" x2="0" y2="125"><stop offset="0" stop-color="#d9e8f5"/><stop offset="0.2" stop-color="#c8dcf0"/><stop offset="0.4" stop-color="#afd1e7"/><stop offset="0.6" stop-color="#92c4de"/><stop offset="0.8" stop-color="#74b3d8"/><stop offset="1" stop-color="#5aa2cf"/></linearGradient>
<linearGradient id="g92" gradientUnits="userSpaceOnUse" x1="0" y1="8" x2="0" y2="125"><stop offset="0" stop-color="#d9e7f5"/><stop offset="0.2" stop-color="#c7dcef"/><stop offset="0.4" stop-color="#add0e6"/><stop offset="0.6" stop-color="#8fc2de"/><stop offset="0.8" stop-color="#6dafd7"/><stop offset="1" stop-color="#549fcd"/></linearGradient>
<linearGradient id="g93" gradientUnits="userSpaceOnUse" x1="0" y1="8" x2="0" y2="125"><stop offset="0" stop-color="#d8e7f5"/><stop offset="0.2" stop-color="#c6dbef"/><stop offset="0.4" stop-color="#aacfe5"/><stop offset="0.6" stop-color="#8abfdd"/><stop offset="0.8" stop-color="#69add5"/><stop offset="1" stop-color="#4f9bcb"/></linearGradient>
<linearGradient id="g94" gradientUnits="userSpaceOnUse" x1="0" y1="8" x2="0" y2="125"><stop offset="0" stop-color="#d7e6f5"/><stop offset="0.2" stop-color="#c4daee"/><stop offset="0.4" stop-color="#a6cee4"/><stop offset="0.6" stop-color="#85bcdc"/><stop offset="0.8" stop-color="#65aad4"/><stop offset="1" stop-color="#4a98c9"/></linearGradient>
<linearGradient id="g95" gradientUnits="userSpaceOnUse" x1="0" y1="8" x2="0" y2="125"><stop offset="0" stop-color="#d6e6f4"/><stop offset="0.2" stop-color="#c2d9ee"/><stop offset="0.4" stop-color="#a4cce3"/><stop offset="0.6" stop-color="#81badb"/><stop offset="0.8" stop-color="#60a7d2"/><stop offset="1" stop-color="#4594c7"/></linearGradient>
<linearGradient id="g96" gradientUnits="userSpaceOnUse" x1="0" y1="8" x2="0" y2="125"><stop offset="0" stop-color="#d6e5f4"/><stop offset="0.2" stop-color="#bfd8ed"/><stop offset="0.4" stop-color="#a1cbe2"/><stop offset="0.6" stop-color="#7cb7da"/><stop offset="0.8" stop-color="#5ca4d0"/><stop offset="1" stop-color="#4090c5"/></linearGradient>
<linearGradient id="g97" gradientUnits="userSpaceOnUse" x1="0" y1="8" x2="0" y2="125"><stop offset="0" stop-color="#d5e5f4"/><stop offset="0.2" stop-color="#bdd7ec"/><stop offset="0.4" stop-color="#9dcae1"/><stop offset="0.6" stop-color="#77b5d9"/><stop offset="0.8" stop-color="#57a0ce"/><stop offset="1" stop-color="#3c8cc3"/></linearGradient>
<linearGradient id="g98" gradientUnits="userSpaceOnUse" x1="0" y1="8" x2="0" y2="125"><stop offset="0" stop-color="#d4e4f4"/><stop offset="0.2" stop-color="#bcd7eb"/><stop offset="0.4" stop-color="#9ac8e0"/><stop offset="0.6" stop-color="#72b2d8"/><stop offset="0.8" stop-color="#539ecd"/><stop offset="1" stop-color="#3888c1"/></linearGradient>
<linearGradient id="g99" gradientUnits="userSpaceOnUse" x1="0" y1="8" x2="0" y2="125"><stop offset="0" stop-color="#d3e4f3"/><stop offset="0.2" stop-color="#b9d6ea"/><stop offset="0.4" stop-color="#95c5df"/><stop offset="0.6" stop-color="#6dafd7"/><stop offset="0.8" stop-color="#4e9acb"/><stop offset="1" stop-color="#3383be"/></linearGradient>
<linearGradient id="g100" gradientUnits="userSpaceOnUse" x1="0" y1="8" x2="0" y2="125"><stop offset="0" stop-color="#d3e3f3"/><stop offset="0.2" stop-color="#b7d4ea"/><stop offset="0.4" stop-color="#92c4de"/><stop offset="0.6" stop-color="#69add5"/><stop offset="0.8" stop-color="#4997c9"/><stop offset="1" stop-color="#2f7fbc"/></linearGradient>
<linearGradient id="g101" gradientUnits="userSpaceOnUse" x1="0" y1="8" x2="0" y2="125"><stop offset="0" stop-color="#d2e3f3"/><stop offset="0.2" stop-color="#b4d3e9"/><stop offset="0.4" stop-color="#8fc2de"/><stop offset="0.6" stop-color="#65aad4"/><stop offset="0.8" stop-color="#4493c7"/><stop offset="1" stop-color="#2b7bba"/></linearGradient>
<linearGradient id="g102" gradientUnits="userSpaceOnUse" x1="0" y1="8" x2="0" y2="125"><stop offset="0" stop-color="#d1e2f3"/><stop offset="0.2" stop-color="#b2d2e8"/><stop offset="0.4" stop-color="#8abfdd"/><stop offset="0.6" stop-color="#61a7d2"/><stop offset="0.8" stop-color="#4090c5"/><stop offset="1" stop-color="#2575b7"/></linearGradient>
<linearGradient id="g103" gradientUnits="userSpaceOnUse" x1="0" y1="8" x2="0" y2="125"><stop offset="0" stop-color="#d0e2f2"/><stop offset="0.2" stop-color="#b0d2e7"/><stop offset="0.4" stop-color="#85bcdc"/><stop offset="0.6" stop-color="#5da5d1"/><stop offset="0.8" stop-color="#3c8cc3"/><stop offset="1" stop-color="#2171b5"/></linearGradient>
<linearGradient id="g104" gradientUnits="userSpaceOnUse" x1="0" y1="8" x2="0" y2="125"><stop offset="0" stop-color="#d0e1f2"/><stop offset="0.2" stop-color="#aed1e7"/><stop offset="0.4" stop-color="#82bbdb"/><stop offset="0.6" stop-color="#58a1cf"/><stop offset="0.8" stop-color="#3888c1"/><stop offset="1" stop-color="#1d6cb1"/></linearGradient>
<linearGradient id="g105" gradientUnits="userSpaceOnUse" x1="0" y1="8" x2="0" y2="125"><stop offset="0" stop-color="#cee0f2"/><stop offset="0.2" stop-color="#abd0e6"/><stop offset="0.4" stop-color="#7db8da"/><stop offset="0.6" stop-color="#549fcd"/><stop offset="0.8" stop-color="#3484bf"/><stop offset="1" stop-color="#1a68ae"/></linearGradient>
<linearGradient id="g106" gradientUnits="userSpaceOnUse" x1="0" y1="8" x2="0" y2="125"><stop offset="0" stop-color="#cde0f1"/><stop offset="0.2" stop-color="#a9cfe5"/><stop offset="0.4" stop-color="#79b5d9"/><stop offset="0.6" stop-color="#519ccc"/><stop offset="0.8" stop-color="#3080bd"/><stop offset="1" stop-color="#1663aa"/></linearGradient>
<linearGradient id="g107" gradientUnits="userSpaceOnUse" x1="0" y1="8" x2="0" y2="125"><stop offset="0" stop-color="#cddff1"/><stop offset="0.2" stop-color="#a6cee4"/><stop offset="0.4" stop-color="#75b4d8"/><stop offset="0.6" stop-color="#4b98ca"/><stop offset="0.8" stop-color="#2c7cba"/><stop offset="1" stop-color="#125ea6"/></linearGradient>
<linearGradient id="g108" gradientUnits="userSpaceOnUse" x1="0" y1="8" x2="0" y2="125"><stop offset="0" stop-color="#ccdff1"/><stop offset="0.2" stop-color="#a4cce3"/><stop offset="0.4" stop-color="#71b1d7"/><stop offset="0.6" stop-color="#4896c8"/><stop offset="0.8" stop-color="#2777b8"/><stop offset="1" stop-color="#0e59a2"/></linearGradient>
<linearGradient id="g109" gradientUnits="userSpaceOnUse" x1="0" y1="8.5" x2="0" y2="87"><stop offset="0" stop-color="#08306b"/><stop offset="0.125" stop-color="#08509b"/><stop offset="0.25" stop-color="#2070b4"/><stop offset="0.375" stop-color="#4191c6"/><stop offset="0.5" stop-color="#6aaed6"/><stop offset="0.625" stop-color="#9dcae1"/><stop offset="0.75" stop-color="#c6dbef"/><stop offset="0.875" stop-color="#deebf7"/><stop offset="1" stop-color="#f7fbff"/></linearGradient>
<linearGradient id="g110" gradientUnits="userSpaceOnUse" x1="0" y1="217" x2="0" y2="334"><stop offset="0" stop-color="#f5f9fe"/><stop offset="0.125" stop-color="#f5f9fe"/><stop offset="0.25" stop-color="#f5f9fe"/><stop offset="0.375" stop-color="#f5f9fe"/><stop offset="0.5" stop-color="#f5f9fe"/><stop offset="0.625" stop-color="#f5f9fe"/><stop offset="0.75" stop-color="#f5f9fe"/><stop offset="0.875" stop-color="#f5f9fe"/><stop offset="1" stop-color="#f5f9fe"/></linearGradient>
<linearGradient id="g111" gradientUnits="userSpaceOnUse" x1="0" y1="217" x2="0" y2="334"><stop offset="0" stop-color="#f5f9fe"/><stop offset="0.125" stop-color="#f5f9fe"/><stop offset="0.25" stop-color="#f5f9fe"/><stop offset="0.375" stop-color="#f5f9fe"/><stop offset="0.5" stop-color="#f5f9fe"/><stop offset="0.625" stop-color="#f5f9fe"/><stop offset="0.75" stop-color="#f5f9fe"/><stop offset="0.875" stop-color="#f5f9fe"/><stop offset="1" stop-color="#f5f9fe"/></linearGradient>
<linearGradient id="g112" gradientUnits="userSpaceOnUse" x1="0" y1="217" x2="0" y2="334"><stop offset="0" stop-color="#f5f9fe"/><stop offset="0.125" stop-color="#f5f9fe"/><stop offset="0.25" stop-color="#f5f9fe"/><stop offset="0.375" stop-color="#f5f9fe"/><stop offset="0.5" stop-color="#f5f9fe"/><stop offset="0.625" stop-color="#f5f9fe"/><stop offset="0.75" stop-color="#f5f9fe"/><stop offset="0.875" stop-color="#f5f9fe"/><stop offset="1" stop-color="#f5f9fe"/></linearGradient>
<linearGradient id="g113" gradientUnits="userSpaceOnUse" x1="0" y1="217" x2="0" y2="334"><stop offset="0" stop-color="#f5f9fe"/><stop offset="0.125" stop-color="#f5f9fe"/><stop offset="0.25" stop-color="#f5f9fe"/><stop offset="0.375" stop-color="#f5f9fe"/><stop offset="0.5" stop-color="#f5f9fe"/><stop offset="0.625" stop-color="#f5f9fe"/><stop offset="0.75" stop-color="#f5f9fe"/><stop offset="0.875" stop-color="#f5f9fe"/><stop offset="1" stop-color="#f5f9fe"/></linearGradient>
<linearGradient id="g114" gradientUnits="userSpaceOnUse" x1="0" y1="217" x2="0" y2="334"><stop offset="0" stop-color="#f5f9fe"/><stop offset="0.125" stop-color="#f5f9fe"/><stop offset="0.25" stop-color="#f5f9fe"/><stop offset="0.375" stop-color="#f5f9fe"/><stop offset="0.5" stop-color="#f5f9fe"/><stop offset="0.625" stop-color="#f5f9fe"/><stop offset="0.75" stop-color="#f5f9fe"/><stop offset="0.875" stop-color="#f5f9fe"/><stop offset="1" stop-color="#f5f9fe"/></linearGradient>
<linearGradient id="g115" gradientUnits="userSpaceOnUse" x1="0" y1="217" x2="0" y2="334"><stop offset="0" stop-color="#f4f9fe"/><stop offset="0.125" stop-color="#f4f9fe"/><stop offset="0.25" stop-color="#f3f8fe"/><stop offset="0.375" stop-color="#f3f8fe"/><stop offset="0.5" stop-color="#f2f8fd"/><stop offset="0.625" stop-color="#f2f8fd"/><stop offset="0.75" stop-color="#f2f7fd"/><stop offset="0.875" stop-color="#f2f7fd"/><stop offset="1" stop-color="#f1f7fd"/></linearGradient>
<linearGradient id="g116" gradientUnits="userSpaceOnUse" x1="0" y1="217" x2="0" y2="334"><stop offset="0" stop-color="#f2f7fd"/><stop offset="0.125" stop-color="#f0f6fd"/><stop offset="0.25" stop-color="#eef5fc"/><stop offset="0.375" stop-color="#edf4fc"/><stop offset="0.5" stop-color="#ebf3fb"/><stop offset="0.625" stop-color="#eaf3fb"/><stop offset="0.75" stop-color="#e9f2fa"/><stop offset="0.875" stop-color="#e7f1fa"/><stop offset="1" stop-color="#e6f0f9"/></linearGradient>
<linearGradient id="g117" gradientUnits="userSpaceOnUse" x1="0" y1="217" x2="0" y2="334"><stop offset="0" stop-color="#eef5fc"/><stop offset="0.125" stop-color="#ebf3fb"/><stop offset="0.25" stop-color="#e9f2fa"/><stop offset="0.375" stop-color="#e6f0f9"/><stop offset="0.5" stop-color="#e3eef9"/><stop offset="0.625" stop-color="#e0ecf8"/><stop offset="0.75" stop-color="#deebf7"/><stop offset="0.875" stop-color="#dce9f6"/><stop offset="1" stop-color="#d9e7f5"/></linearGradient>
<linearGradient id="g118" gradientUnits="userSpaceOnUse" x1="0" y1="217" x2="0" y2="334"><stop offset="0" stop-color="#ecf4fb"/><stop offset="0.125" stop-color="#e8f1fa"/><stop offset="0.25" stop-color="#e5eff9"/><stop offset="0.375" stop-color="#e2edf8"/><stop offset="0.5" stop-color="#deebf7"/><stop offset="0.625" stop-color="#dbe9f6"/><stop offset="0.75" stop-color="#d8e7f5"/><stop offset="0.875" stop-color="#d4e4f4"/><stop offset="1" stop-color="#d1e2f3"/></linearGradient>
<linearGradient id="g119" gradientUnits="userSpaceOnUse" x1="0" y1="217" x2="0" y2="334"><stop offset="0" stop-color="#eaf2fb"/><stop offset="0.125" stop-color="#e6f0f9"/><stop offset="0.25" stop-color="#e2edf8"/><stop offset="0.375" stop-color="#deebf7"/><stop offset="0.5" stop-color="#d9e8f5"/><stop offset="0.625" stop-color="#d6e5f4"/><stop offset="0.75" stop-color="#d2e3f3"/><stop offset="0.875" stop-color="#cde0f1"/><stop offset="1" stop-color="#caddf0"/></linearGradient>
<linearGradient id="g120" gradientUnits="userSpaceOnUse" x1="0" y1="217" x2="0" y2="334"><stop offset="0" stop-color="#e8f1fa"/><stop offset="0.125" stop-color="#e3eef8"/><stop offset="0.25" stop-color="#deebf7"/><stop offset="0.375" stop-color="#d9e8f5"/><stop offset="0.5" stop-color="#d4e4f4"/><stop offset="0.625" stop-color="#d0e1f2"/><stop offset="0.75" stop-color="#cbdef1"/><stop offset="0.875" stop-color="#c7dbef"/><stop offset="1" stop-color="#bed8ec"/></linearGradient>
<linearGradient id="g121" gradientUnits="userSpaceOnUse" x1="0" y1="217" x2="0" y2="334"><stop offset="0" stop-color="#e6f0f9"/><stop offset="0.125" stop-color="#dfecf7"/><stop offset="0.25" stop-color="#dae8f6"/><stop offset="0.375" stop-color="#d4e4f4"/><stop offset="0.5" stop-color="#cfe1f2"/><stop offset="0.625" stop-color="#caddf0"/><stop offset="0.75" stop-color="#c2d9ee"/><stop offset="0.875" stop-color="#b9d6ea"/><stop offset="1" stop-color="#afd1e7"/></linearGradient>
<linearGradient id="g122" gradientUnits="userSpaceOnUse" x1="0" y1="217" x2="0" y2="334"><stop offset="0" stop-color="#e3eef9"/><stop offset="0.125" stop-color="#dceaf6"/><stop offset="0.25" stop-color="#d6e5f4"/><stop offset="0.375" stop-color="#d0e1f2"/><stop offset="0.5" stop-color="#c9ddf0"/><stop offset="0.625" stop-color="#bfd8ed"/><stop offset="0.75" stop-color="#b5d4e9"/><stop offset="0.875" stop-color="#aacfe5"/><stop offset="1" stop-color="#9fcae1"/></linearGradient>
<linearGradient id="g123" gradientUnits="userSpaceOnUse" x1="0" y1="217" x2="0" y2="334"><stop offset="0" stop-color="#e0ecf8"/><stop offset="0.125" stop-color="#d9e7f5"/><stop offset="0.25" stop-color="#d1e2f3"/><stop offset="0.375" stop-color="#caddf0"/><stop offset="0.5" stop-color="#bfd8ed"/><stop offset="0.625" stop-color="#b3d3e8"/><stop offset="0.75" stop-color="#a6cee4"/><stop offset="0.875" stop-color="#9ac8e0"/><stop offset="1" stop-color="#8abfdd"/></linearGradient>
<linearGradient id="g124" gradientUnits="userSpaceOnUse" x1="0" y1="217" x2="0" y2="334"><stop offset="0" stop-color="#deebf7"/><stop offset="0.125" stop-color="#d5e5f4"/><stop offset="0.25" stop-color="#cddff1"/><stop offset="0.375" stop-color="#c3daee"/><stop offset="0.5" stop-color="#b4d3e9"/><stop offset="0.625" stop-color="#a6cee4"/><stop offset="0.75" stop-color="#97c6df"/><stop offset="0.875" stop-color="#85bcdc"/><stop offset="1" stop-color="#72b2d8"/></linearGradient>
<linearGradient id="g125" gradientUnits="userSpaceOnUse" x1="0" y1="217" x2="0" y2="334"><stop offset="0" stop-color="#dbe9f6"/><stop offset="0.125" stop-color="#d1e2f3"/><stop offset="0.25" stop-color="#c8dcf0"/><stop offset="0.375" stop-color="#b9d6ea"/><stop offset="0.5" stop-color="#a9cfe5"/><stop offset="0.625" stop-color="#99c7e0"/><stop offset="0.75" stop-color="#84bcdb"/><stop offset="0.875" stop-color="#71b1d7"/><stop offset="1" stop-color="#5fa6d1"/></linearGradient>
<linearGradient id="g126" gradientUnits="userSpaceOnUse" x1="0" y1="217" x2="0" y2="334"><stop offset="0" stop-color="#d8e7f5"/><stop offset="0.125" stop-color="#cde0f1"/><stop offset="0.25" stop-color="#c1d9ed"/><stop offset="0.375" stop-color="#afd1e7"/><stop offset="0.5" stop-color="#9fcae1"/><stop offset="0.625" stop-color="#89bedc"/><stop offset="0.75" stop-color="#72b2d8"/><stop offset="0.875" stop-color="#5fa6d1"/><stop offset="1" stop-color="#4d99ca"/></linearGradient>
<linearGradient id="g127" gradientUnits="userSpaceOnUse" x1="0" y1="217" x2="0" y2="334"><stop offset="0" stop-color="#d6e5f4"/><stop offset="0.125" stop-color="#cadef0"/><stop offset="0.25" stop-color="#b9d6ea"/><stop offset="0.375" stop-color="#a6cee4"/><stop offset="0.5" stop-color="#91c3de"/><stop offset="0.625" stop-color="#79b5d9"/><stop offset="0.75" stop-color="#61a7d2"/><stop offset="0.875" stop-color="#4e9acb"/><stop offset="1" stop-color="#3c8cc3"/></linearGradient>
<linearGradient id="g128" gradientUnits="userSpaceOnUse" x1="0" y1="217" x2="0" y2="334"><stop offset="0" stop-color="#d3e4f3"/><stop offset="0.125" stop-color="#c7dbef"/><stop offset="0.25" stop-color="#b3d3e8"/><stop offset="0.375" stop-color="#9dcae1"/><stop offset="0.5" stop-color="#84bcdb"/><stop offset="0.625" stop-color="#69add5"/><stop offset="0.75" stop-color="#549fcd"/><stop offset="0.875" stop-color="#3f8fc5"/><stop offset="1" stop-color="#2f7fbc"/></linearGradient>
<linearGradient id="g129" gradientUnits="userSpaceOnUse" x1="0" y1="217" x2="0" y2="334"><stop offset="0" stop-color="#d1e2f3"/><stop offset="0.125" stop-color="#c2d9ee"/><stop offset="0.25" stop-color="#add0e6"/><stop offset="0.375" stop-color="#94c4df"/><stop offset="0.5" stop-color="#79b5d9"/><stop offset="0.625" stop-color="#5fa6d1"/><stop offset="0.75" stop-color="#4997c9"/><stop offset="0.875" stop-color="#3585bf"/><stop offset="1" stop-color="#2373b6"/></linearGradient>
<linearGradient id="g130" gradientUnits="userSpaceOnUse" x1="0" y1="217" x2="0" y2="334"><stop offset="0" stop-color="#d0e1f2"/><stop offset="0.125" stop-color="#bed8ec"/><stop offset="0.25" stop-color="#a8cee4"/><stop offset="0.375" stop-color="#8cc0dd"/><stop offset="0.5" stop-color="#6fb0d7"/><stop offset="0.625" stop-color="#56a0ce"/><stop offset="0.75" stop-color="#3f8fc5"/><stop offset="0.875" stop-color="#2c7cba"/><stop offset="1" stop-color="#1b69af"/></linearGradient>
<linearGradient id="g131" gradientUnits="userSpaceOnUse" x1="0" y1="217" x2="0" y2="334"><stop offset="0" stop-color="#cee0f2"/><stop offset="0.125" stop-color="#bad6eb"/><stop offset="0.25" stop-color="#a3cce3"/><stop offset="0.375" stop-color="#85bcdc"/><stop offset="0.5" stop-color="#68acd5"/><stop offset="0.625" stop-color="#4f9bcb"/><stop offset="0.75" stop-color="#3989c1"/><stop offset="0.875" stop-color="#2474b7"/><stop offset="1" stop-color="#1561a9"/></linearGradient>
<linearGradient id="g132" gradientUnits="userSpaceOnUse" x1="0" y1="217" x2="0" y2="334"><stop offset="0" stop-color="#cddff1"/><stop offset="0.125" stop-color="#b9d6ea"/><stop offset="0.25" stop-color="#a0cbe2"/><stop offset="0.375" stop-color="#81badb"/><stop offset="0.5" stop-color="#64a9d3"/><stop offset="0.625" stop-color="#4a98c9"/><stop offset="0.75" stop-color="#3484bf"/><stop offset="0.875" stop-color="#2070b4"/><stop offset="1" stop-color="#115ca5"/></linearGradient>
<linearGradient id="g133" gradientUnits="userSpaceOnUse" x1="0" y1="217" x2="0" y2="334"><stop offset="0" stop-color="#cddff1"/><stop offset="0.125" stop-color="#b8d5ea"/><stop offset="0.25" stop-color="#9fcae1"/><stop offset="0.375" stop-color="#7fb9da"/><stop offset="0.5" stop-color="#61a7d2"/><stop offset="0.625" stop-color="#4896c8"/><stop offset="0.75" stop-color="#3282be"/><stop offset="0.875" stop-color="#1e6db2"/><stop offset="1" stop-color="#0e59a2"/></linearGradient>
<linearGradient id="g134" gradientUnits="userSpaceOnUse" x1="0" y1="217" x2="0" y2="334"><stop offset="0" stop-color="#cddff1"/><stop offset="0.125" stop-color="#b8d5ea"/><stop offset="0.25" stop-color="#9fcae1"/><stop offset="0.375" stop-color="#7fb9da"/><stop offset="0.5" stop-color="#61a7d2"/><stop offset="0.625" stop-color="#4896c8"/><stop offset="0.75" stop-color="#3282be"/><stop offset="0.875" stop-color="#1e6db2"/><stop offset="1" stop-color="#0e59a2"/></linearGradient>
<linearGradient id="g135" gradientUnits="userSpaceOnUse" x1="0" y1="217" x2="0" y2="334"><stop offset="0" stop-color="#cddff1"/><stop offset="0.125" stop-color="#b9d6ea"/><stop offset="0.25" stop-color="#a0cbe2"/><stop offset="0.375" stop-color="#81badb"/><stop offset="0.5" stop-color="#63a8d3"/><stop offset="0.625" stop-color="#4a98c9"/><stop offset="0.75" stop-color="#3484bf"/><stop offset="0.875" stop-color="#206fb4"/><stop offset="1" stop-color="#115ca5"/></linearGradient>
<linearGradient id="g136" gradientUnits="userSpaceOnUse" x1="0" y1="217" x2="0" y2="334"><stop offset="0" stop-color="#cee0f2"/><stop offset="0.125" stop-color="#bad6eb"/><stop offset="0.25" stop-color="#a3cce3"/><stop offset="0.375" stop-color="#85bcdc"/><stop offset="0.5" stop-color="#68acd5"/><stop offset="0.625" stop-color="#4e9acb"/><stop offset="0.75" stop-color="#3888c1"/><stop offset="0.875" stop-color="#2474b7"/><stop offset="1" stop-color="#1561a9"/></linearGradient>
<linearGradient id="g137" gradientUnits="userSpaceOnUse" x1="0" y1="217" x2="0" y2="334"><stop offset="0" stop-color="#cfe1f2"/><stop offset="0.125" stop-color="#bed8ec"/><stop offset="0.25" stop-color="#a6cee4"/><stop offset="0.375" stop-color="#8cc0dd"/><stop offset="0.5" stop-color="#6dafd7"/><stop offset="0.625" stop-color="#56a0ce"/><stop offset="0.75" stop-color="#3e8ec4"/><stop offset="0.875" stop-color="#2c7cba"/><stop offset="1" stop-color="#1a68ae"/></linearGradient>
<linearGradient id="g138" gradientUnits="userSpaceOnUse" x1="0" y1="217" x2="0" y2="334"><stop offset="0" stop-color="#d1e2f3"/><stop offset="0.125" stop-color="#c2d9ee"/><stop offset="0.25" stop-color="#add0e6"/><stop offset="0.375" stop-color="#94c4df"/><stop offset="0.5" stop-color="#77b5d9"/><stop offset="0.625" stop-color="#5fa6d1"/><stop offset="0.75" stop-color="#4896c8"/><stop offset="0.875" stop-color="#3484bf"/><stop offset="1" stop-color="#2272b6"/></linearGradient>
<linearGradient id="g139" gradientUnits="userSpaceOnUse" x1="0" y1="217" x2="0" y2="334"><stop offset="0" stop-color="#d3e4f3"/><stop offset="0.125" stop-color="#c7dbef"/><stop offset="0.25" stop-color="#b2d2e8"/><stop offset="0.375" stop-color="#9dcae1"/><stop offset="0.5" stop-color="#82bbdb"/><stop offset="0.625" stop-color="#69add5"/><stop offset="0.75" stop-color="#539ecd"/><stop offset="0.875" stop-color="#3f8fc5"/><stop offset="1" stop-color="#2e7ebc"/></linearGradient>
<linearGradient id="g140" gradientUnits="userSpaceOnUse" x1="0" y1="217" x2="0" y2="334"><stop offset="0" stop-color="#d6e5f4"/><stop offset="0.125" stop-color="#caddf0"/><stop offset="0.25" stop-color="#b9d6ea"/><stop offset="0.375" stop-color="#a6cee4"/><stop offset="0.5" stop-color="#8fc2de"/><stop offset="0.625" stop-color="#77b5d9"/><stop offset="0.75" stop-color="#61a7d2"/><stop offset="0.875" stop-color="#4d99ca"/><stop offset="1" stop-color="#3b8bc2"/></linearGradient>
<linearGradient id="g141" gradientUnits="userSpaceOnUse" x1="0" y1="217" x2="0" y2="334"><stop offset="0" stop-color="#d8e7f5"/><stop offset="0.125" stop-color="#cde0f1"/><stop offset="0.25" stop-color="#c1d9ed"/><stop offset="0.375" stop-color="#afd1e7"/><stop offset="0.5" stop-color="#9dcae1"/><stop offset="0.625" stop-color="#87bddc"/><stop offset="0.75" stop-color="#71b1d7"/><stop offset="0.875" stop-color="#5da5d1"/><stop offset="1" stop-color="#4b98ca"/></linearGradient>
<linearGradient id="g142" gradientUnits="userSpaceOnUse" x1="0" y1="217" x2="0" y2="334"><stop offset="0" stop-color="#dbe9f6"/><stop offset="0.125" stop-color="#d1e2f3"/><stop offset="0.25" stop-color="#c7dcef"/><stop offset="0.375" stop-color="#b9d6ea"/><stop offset="0.5" stop-color="#a9cfe5"/><stop offset="0.625" stop-color="#97c6df"/><stop offset="0.75" stop-color="#82bbdb"/><stop offset="0.875" stop-color="#6fb0d7"/><stop offset="1" stop-color="#5da5d1"/></linearGradient>
<linearGradient id="g143" gradientUnits="userSpaceOnUse" x1="0" y1="217" x2="0" y2="334"><stop offset="0" stop-color="#ddeaf7"/><stop offset="0.125" stop-color="#d5e5f4"/><stop offset="0.25" stop-color="#cddff1"/><stop offset="0.375" stop-color="#c2d9ee"/><stop offset="0.5" stop-color="#b4d3e9"/><stop offset="0.625" stop-color="#a5cde3"/><stop offset="0.75" stop-color="#95c5df"/><stop offset="0.875" stop-color="#84bcdb"/><stop offset="1" stop-color="#71b1d7"/></linearGradient>
<linearGradient id="g144" gradientUnits="userSpaceOnUse" x1="0" y1="217" x2="0" y2="334"><stop offset="0" stop-color="#e0ecf8"/><stop offset="0.125" stop-color="#d9e7f5"/><stop offset="0.25" stop-color="#d1e2f3"/><stop offset="0.375" stop-color="#caddf0"/><stop offset="0.5" stop-color="#bfd8ed"/><stop offset="0.625" stop-color="#b3d3e8"/><stop offset="0.75" stop-color="#a6cee4"/><stop offset="0.875" stop-color="#99c7e0"/><stop offset="1" stop-color="#89bedc"/></linearGradient>
<linearGradient id="g145" gradientUnits="userSpaceOnUse" x1="0" y1="217" x2="0" y2="334"><stop offset="0" stop-color="#e3eef8"/><stop offset="0.125" stop-color="#dceaf6"/><stop offset="0.25" stop-color="#d6e5f4"/><stop offset="0.375" stop-color="#cfe1f2"/><stop offset="0.5" stop-color="#c8dcf0"/><stop offset="0.625" stop-color="#bfd8ed"/><stop offset="0.75" stop-color="#b4d3e9"/><stop offset="0.875" stop-color="#a9cfe5"/><stop offset="1" stop-color="#9dcae1"/></linearGradient>
<linearGradient id="g146" gradientUnits="userSpaceOnUse" x1="0" y1="217" x2="0" y2="334"><stop offset="0" stop-color="#e6f0f9"/><stop offset="0.125" stop-color="#dfecf7"/><stop offset="0.25" stop-color="#d9e8f5"/><stop offset="0.375" stop-color="#d4e4f4"/><stop offset="0.5" stop-color="#cee0f2"/><stop offset="0.625" stop-color="#c9ddf0"/><stop offset="0.75" stop-color="#c1d9ed"/><stop offset="0.875" stop-color="#b8d5ea"/><stop offset="1" stop-color="#aed1e7"/></linearGradient>
<linearGradient id="g147" gradientUnits="userSpaceOnUse" x1="0" y1="217" x2="0" y2="334"><stop offset="0" stop-color="#e8f1fa"/><stop offset="0.125" stop-color="#e3eef8"/><stop offset="0.25" stop-color="#deebf7"/><stop offset="0.375" stop-color="#d9e7f5"/><stop offset="0.5" stop-color="#d4e4f4"/><stop offset="0.625" stop-color="#d0e1f2"/><stop offset="0.75" stop-color="#cadef0"/><stop offset="0.875" stop-color="#c6dbef"/><stop offset="1" stop-color="#bdd7ec"/></linearGradient>
<linearGradient id="g148" gradientUnits="userSpaceOnUse" x1="0" y1="217" x2="0" y2="334"><stop offset="0" stop-color="#eaf2fb"/><stop offset="0.125" stop-color="#e6f0f9"/><stop offset="0.25" stop-color="#e2edf8"/><stop offset="0.375" stop-color="#ddeaf7"/><stop offset="0.5" stop-color="#d9e8f5"/><stop offset="0.625" stop-color="#d5e5f4"/><stop offset="0.75" stop-color="#d1e2f3"/><stop offset="0.875" stop-color="#cde0f1"/><stop offset="1" stop-color="#c9ddf0"/></linearGradient>
<linearGradient id="g149" gradientUnits="userSpaceOnUse" x1="0" y1="217" x2="0" y2="334"><stop offset="0" stop-color="#ecf4fb"/><stop offset="0.125" stop-color="#e8f1fa"/><stop offset="0.25" stop-color="#e5eff9"/><stop offset="0.375" stop-color="#e1edf8"/><stop offset="0.5" stop-color="#deebf7"/><stop offset="0.625" stop-color="#dae8f6"/><stop offset="0.75" stop-color="#d7e6f5"/><stop offset="0.875" stop-color="#d4e4f4"/><stop offset="1" stop-color="#d0e2f2"/></linearGradient>
<linearGradient id="g150" gradientUnits="userSpaceOnUse" x1="0" y1="217" x2="0" y2="334"><stop offset="0" stop-color="#eef5fc"/><stop offset="0.125" stop-color="#ebf3fb"/><stop offset="0.25" stop-color="#e8f1fa"/><stop offset="0.375" stop-color="#e6f0f9"/><stop offset="0.5" stop-color="#e3eef8"/><stop offset="0.625" stop-color="#e0ecf8"/><stop offset="0.75" stop-color="#ddeaf7"/><stop offset="0.875" stop-color="#dbe9f6"/><stop offset="1" stop-color="#d8e7f5"/></linearGradient>
<linearGradient id="g151" gradientUnits="userSpaceOnUse" x1="0" y1="217" x2="0" y2="334"><stop offset="0" stop-color="#f1f7fd"/><stop offset="0.125" stop-color="#eff6fc"/><stop offset="0.25" stop-color="#eef5fc"/><stop offset="0.375" stop-color="#edf4fc"/><stop offset="0.5" stop-color="#ebf3fb"/><stop offset="0.625" stop-color="#eaf2fb"/><stop offset="0.75" stop-color="#e8f1fa"/><stop offset="0.875" stop-color="#e7f0fa"/><stop offset="1" stop-color="#e5eff9"/></linearGradient>
<linearGradient id="g152" gradientUnits="userSpaceOnUse" x1="0" y1="217" x2="0" y2="334"><stop offset="0" stop-color="#f4f9fe"/><stop offset="0.125" stop-color="#f3f8fe"/><stop offset="0.25" stop-color="#f3f8fe"/><stop offset="0.375" stop-color="#f2f8fd"/><stop offset="0.5" stop-color="#f2f8fd"/><stop offset="0.625" stop-color="#f2f7fd"/><stop offset="0.75" stop-color="#f1f7fd"/><stop offset="0.875" stop-color="#f1f7fd"/><stop offset="1" stop-color="#f0f6fd"/></linearGradient>
<linearGradient id="g153" gradientUnits="userSpaceOnUse" x1="0" y1="217" x2="0" y2="334"><stop offset="0" stop-color="#f5f9fe"/><stop offset="0.125" stop-color="#f5f9fe"/><stop offset="0.25" stop-color="#f5f9fe"/><stop offset="0.375" stop-color="#f5f9fe"/><stop offset="0.5" stop-color="#f5f9fe"/><stop offset="0.625" stop-color="#f5f9fe"/><stop offset="0.75" stop-color="#f5f9fe"/><stop offset="0.875" stop-color="#f5f9fe"/><stop offset="1" stop-color="#f5f9fe"/></linearGradient>
<linearGradient id="g154" gradientUnits="userSpaceOnUse" x1="0" y1="217" x2="0" y2="334"><stop offset="0" stop-color="#f5f9fe"/><stop offset="0.125" stop-color="#f5f9fe"/><stop offset="0.25" stop-color="#f5f9fe"/><stop offset="0.375" stop-color="#f5f9fe"/><stop offset="0.5" stop-color="#f5f9fe"/><stop offset="0.625" stop-color="#f5f9fe"/><stop offset="0.75" stop-color="#f5f9fe"/><stop offset="0.875" stop-color="#f5f9fe"/><stop offset="1" stop-color="#f5f9fe"/></linearGradient>
<linearGradient id="g155" gradientUnits="userSpaceOnUse" x1="0" y1="217" x2="0" y2="334"><stop offset="0" stop-color="#f5f9fe"/><stop offset="0.125" stop-color="#f5f9fe"/><stop offset="0.25" stop-color="#f5f9fe"/><stop offset="0.375" stop-color="#f5f9fe"/><stop offset="0.5" stop-color="#f5f9fe"/><stop offset="0.625" stop-color="#f5f9fe"/><stop offset="0.75" stop-color="#f5f9fe"/><stop offset="0.875" stop-color="#f5f9fe"/><stop offset="1" stop-color="#f5f9fe"/></linearGradient>
<linearGradient id="g156" gradientUnits="userSpaceOnUse" x1="0" y1="217" x2="0" y2="334"><stop offset="0" stop-color="#f5f9fe"/><stop offset="0.125" stop-color="#f5f9fe"/><stop offset="0.25" stop-color="#f5f9fe"/><stop offset="0.375" stop-color="#f5f9fe"/><stop offset="0.5" stop-color="#f5f9fe"/><stop offset="0.625" stop-color="#f5f9fe"/><stop offset="0.75" stop-color="#f5f9fe"/><stop offset="0.875" stop-color="#f5f9fe"/><stop offset="1" stop-color="#f5f9fe"/></linearGradient>
<linearGradient id="g157" gradientUnits="userSpaceOnUse" x1="0" y1="437" x2="0" y2="554"><stop offset="0" stop-color="#4457a0"/><stop offset="0.0278" stop-color="#4457a0"/><stop offset="0.0556" stop-color="#4457a0"/><stop offset="0.111" stop-color="#4457a0"/><stop offset="0.167" stop-color="#4457a0"/><stop offset="0.222" stop-color="#4457a0"/><stop offset="0.278" stop-color="#4457a0"/><stop offset="0.333" stop-color="#4457a0"/><stop offset="0.389" stop-color="#4457a0"/><stop offset="0.444" stop-color="#4457a0"/><stop offset="0.5" stop-color="#4457a0"/><stop offset="0.556" stop-color="#4457a0"/><stop offset="0.611" stop-color="#4457a0"/><stop offset="0.667" stop-color="#4457a0"/><stop offset="0.722" stop-color="#4457a0"/><stop offset="0.778" stop-color="#4457a0"/><stop offset="0.822" stop-color="#4457a0"/><stop offset="0.867" stop-color="#4457a0"/><stop offset="0.9" stop-color="#4457a0"/><stop offset="0.922" stop-color="#4457a0"/><stop offset="0.944" stop-color="#4457a0"/><stop offset="0.961" stop-color="#4457a0"/><stop offset="0.978" stop-color="#4457a0"/><stop offset="0.989" stop-color="#4457a0"/><stop offset="1" stop-color="#4457a0"/></linearGradient>
<linearGradient id="g158" gradientUnits="userSpaceOnUse" x1="0" y1="437" x2="0" y2="554"><stop offset="0" stop-color="#4457a0"/><stop offset="0.0278" stop-color="#4457a0"/><stop offset="0.0556" stop-color="#4457a0"/><stop offset="0.111" stop-color="#4457a0"/><stop offset="0.167" stop-color="#4457a0"/><stop offset="0.222" stop-color="#4457a0"/><stop offset="0.278" stop-color="#4457a0"/><stop offset="0.333" stop-color="#4457a0"/><stop offset="0.389" stop-color="#4457a0"/><stop offset="0.444" stop-color="#4457a0"/><stop offset="0.5" stop-color="#4457a0"/><stop offset="0.556" stop-color="#4457a0"/><stop offset="0.611" stop-color="#4457a0"/><stop offset="0.667" stop-color="#4457a0"/><stop offset="0.722" stop-color="#4457a0"/><stop offset="0.778" stop-color="#4457a0"/><stop offset="0.822" stop-color="#4457a0"/><stop offset="0.867" stop-color="#4457a0"/><stop offset="0.9" stop-color="#4457a0"/><stop offset="0.922" stop-color="#4457a0"/><stop offset="0.944" stop-color="#4457a0"/><stop offset="0.961" stop-color="#4457a0"/><stop offset="0.978" stop-color="#4457a0"/><stop offset="0.989" stop-color="#4457a0"/><stop offset="1" stop-color="#4457a0"/></linearGradient>
<linearGradient id="g159" gradientUnits="userSpaceOnUse" x1="0" y1="437" x2="0" y2="554"><stop offset="0" stop-color="#4457a0"/><stop offset="0.0278" stop-color="#4457a0"/><stop offset="0.0556" stop-color="#4457a0"/><stop offset="0.111" stop-color="#4457a0"/><stop offset="0.167" stop-color="#4457a0"/><stop offset="0.222" stop-color="#4457a0"/><stop offset="0.278" stop-color="#4457a0"/><stop offset="0.333" stop-color="#4457a0"/><stop offset="0.389" stop-color="#4457a0"/><stop offset="0.444" stop-color="#4457a0"/><stop offset="0.5" stop-color="#4457a0"/><stop offset="0.556" stop-color="#4457a0"/><stop offset="0.611" stop-color="#4457a0"/><stop offset="0.667" stop-color="#4457a0"/><stop offset="0.722" stop-color="#4457a0"/><stop offset="0.778" stop-color="#4457a0"/><stop offset="0.822" stop-color="#4457a0"/><stop offset="0.867" stop-color="#4457a0"/><stop offset="0.9" stop-color="#4457a0"/><stop offset="0.922" stop-color="#4457a0"/><stop offset="0.944" stop-color="#4457a0"/><stop offset="0.961" stop-color="#4457a0"/><stop offset="0.978" stop-color="#4457a0"/><stop offset="0.989" stop-color="#4457a0"/><stop offset="1" stop-color="#4457a0"/></linearGradient>
<linearGradient id="g160" gradientUnits="userSpaceOnUse" x1="0" y1="437" x2="0" y2="554"><stop offset="0" stop-color="#4457a0"/><stop offset="0.0278" stop-color="#4457a0"/><stop offset="0.0556" stop-color="#4457a0"/><stop offset="0.111" stop-color="#4457a0"/><stop offset="0.167" stop-color="#4457a0"/><stop offset="0.222" stop-color="#4457a0"/><stop offset="0.278" stop-color="#4457a0"/><stop offset="0.333" stop-color="#4457a0"/><stop offset="0.389" stop-color="#4457a0"/><stop offset="0.444" stop-color="#4457a0"/><stop offset="0.5" stop-color="#4457a0"/><stop offset="0.556" stop-color="#4457a0"/><stop offset="0.611" stop-color="#4457a0"/><stop offset="0.667" stop-color="#4457a0"/><stop offset="0.722" stop-color="#4457a0"/><stop offset="0.778" stop-color="#4457a0"/><stop offset="0.822" stop-color="#4457a0"/><stop offset="0.867" stop-color="#4457a0"/><stop offset="0.9" stop-color="#4457a0"/><stop offset="0.922" stop-color="#4457a0"/><stop offset="0.944" stop-color="#4457a0"/><stop offset="0.961" stop-color="#4457a0"/><stop offset="0.978" stop-color="#4457a0"/><stop offset="0.989" stop-color="#4457a0"/><stop offset="1" stop-color="#4457a0"/></linearGradient>
<linearGradient id="g161" gradientUnits="userSpaceOnUse" x1="0" y1="437" x2="0" y2="554"><stop offset="0" stop-color="#4457a0"/><stop offset="0.0278" stop-color="#4457a0"/><stop offset="0.0556" stop-color="#4457a0"/><stop offset="0.111" stop-color="#4457a0"/><stop offset="0.167" stop-color="#4457a0"/><stop offset="0.222" stop-color="#4457a0"/><stop offset="0.278" stop-color="#4457a0"/><stop offset="0.333" stop-color="#4457a0"/><stop offset="0.389" stop-color="#4457a0"/><stop offset="0.444" stop-color="#4457a0"/><stop offset="0.5" stop-color="#4457a0"/><stop offset="0.556" stop-color="#4457a0"/><stop offset="0.611" stop-color="#4457a0"/><stop offset="0.667" stop-color="#4457a0"/><stop offset="0.722" stop-color="#4457a0"/><stop offset="0.778" stop-color="#4457a0"/><stop offset="0.822" stop-color="#4457a0"/><stop offset="0.867" stop-color="#4457a0"/><stop offset="0.9" stop-color="#4457a0"/><stop offset="0.922" stop-color="#4457a0"/><stop offset="0.944" stop-color="#4457a0"/><stop offset="0.961" stop-color="#4457a0"/><stop offset="0.978" stop-color="#4457a0"/><stop offset="0.989" stop-color="#4457a0"/><stop offset="1" stop-color="#4457a0"/></linearGradient>
<linearGradient id="g162" gradientUnits="userSpaceOnUse" x1="0" y1="437" x2="0" y2="554"><stop offset="0" stop-color="#4457a0"/><stop offset="0.0278" stop-color="#4457a0"/><stop offset="0.0556" stop-color="#4457a0"/><stop offset="0.111" stop-color="#4457a0"/><stop offset="0.167" stop-color="#4457a0"/><stop offset="0.222" stop-color="#4457a0"/><stop offset="0.278" stop-color="#4457a0"/><stop offset="0.333" stop-color="#4457a0"/><stop offset="0.389" stop-color="#4457a0"/><stop offset="0.444" stop-color="#4457a0"/><stop offset="0.5" stop-color="#4457a0"/><stop offset="0.556" stop-color="#4457a0"/><stop offset="0.611" stop-color="#4457a0"/><stop offset="0.667" stop-color="#4457a0"/><stop offset="0.722" stop-color="#4457a0"/><stop offset="0.778" stop-color="#4457a0"/><stop offset="0.822" stop-color="#4457a0"/><stop offset="0.867" stop-color="#4457a0"/><stop offset="0.9" stop-color="#4457a0"/><stop offset="0.922" stop-color="#4457a0"/><stop offset="0.944" stop-color="#4457a0"/><stop offset="0.961" stop-color="#4457a0"/><stop offset="0.978" stop-color="#4457a0"/><stop offset="0.989" stop-color="#4457a0"/><stop offset="1" stop-color="#4457a0"/></linearGradient>
<linearGradient id="g163" gradientUnits="userSpaceOnUse" x1="0" y1="437" x2="0" y2="554"><stop offset="0" stop-color="#4457a0"/><stop offset="0.0278" stop-color="#4457a0"/><stop offset="0.0556" stop-color="#4457a0"/><stop offset="0.111" stop-color="#4457a0"/><stop offset="0.167" stop-color="#4457a0"/><stop offset="0.222" stop-color="#4457a0"/><stop offset="0.278" stop-color="#4457a0"/><stop offset="0.333" stop-color="#4457a0"/><stop offset="0.389" stop-color="#4457a0"/><stop offset="0.444" stop-color="#4457a0"/><stop offset="0.5" stop-color="#4457a0"/><stop offset="0.556" stop-color="#4457a0"/><stop offset="0.611" stop-color="#4457a0"/><stop offset="0.667" stop-color="#4457a0"/><stop offset="0.722" stop-color="#4457a0"/><stop offset="0.778" stop-color="#4457a0"/><stop offset="0.822" stop-color="#4457a0"/><stop offset="0.867" stop-color="#4457a0"/><stop offset="0.9" stop-color="#4457a0"/><stop offset="0.922" stop-color="#4457a0"/><stop offset="0.944" stop-color="#4457a0"/><stop offset="0.961" stop-color="#4457a0"/><stop offset="0.978" stop-color="#4457a0"/><stop offset="0.989" stop-color="#4457a0"/><stop offset="1" stop-color="#4457a0"/></linearGradient>
<linearGradient id="g164" gradientUnits="userSpaceOnUse" x1="0" y1="437" x2="0" y2="554"><stop offset="0" stop-color="#4558a1"/><stop offset="0.0278" stop-color="#4558a1"/><stop offset="0.0556" stop-color="#4558a1"/><stop offset="0.111" stop-color="#4558a1"/><stop offset="0.167" stop-color="#4558a1"/><stop offset="0.222" stop-color="#4558a1"/><stop offset="0.278" stop-color="#4558a1"/><stop offset="0.333" stop-color="#4558a1"/><stop offset="0.389" stop-color="#4558a1"/><stop offset="0.444" stop-color="#4558a2"/><stop offset="0.5" stop-color="#4558a2"/><stop offset="0.556" stop-color="#4559a2"/><stop offset="0.611" stop-color="#4559a2"/><stop offset="0.667" stop-color="#4559a2"/><stop offset="0.722" stop-color="#4559a2"/><stop offset="0.778" stop-color="#4559a2"/><stop offset="0.822" stop-color="#4559a2"/><stop offset="0.867" stop-color="#4558a1"/><stop offset="0.9" stop-color="#4558a1"/><stop offset="0.922" stop-color="#4458a1"/><stop offset="0.944" stop-color="#4457a0"/><stop offset="0.961" stop-color="#4457a0"/><stop offset="0.978" stop-color="#4457a0"/><stop offset="0.989" stop-color="#4457a0"/><stop offset="1" stop-color="#4457a0"/></linearGradient>
<linearGradient id="g165" gradientUnits="userSpaceOnUse" x1="0" y1="437" x2="0" y2="554"><stop offset="0" stop-color="#485da7"/><stop offset="0.0278" stop-color="#485da7"/><stop offset="0.0556" stop-color="#495da7"/><stop offset="0.111" stop-color="#495da7"/><stop offset="0.167" stop-color="#495da7"/><stop offset="0.222" stop-color="#495da7"/><stop offset="0.278" stop-color="#495da7"/><stop offset="0.333" stop-color="#495da7"/><stop offset="0.389" stop-color="#495ea7"/><stop offset="0.444" stop-color="#495ea8"/><stop offset="0.5" stop-color="#495ea8"/><stop offset="0.556" stop-color="#4a5fa9"/><stop offset="0.611" stop-color="#4a60aa"/><stop offset="0.667" stop-color="#4b60aa"/><stop offset="0.722" stop-color="#4b60aa"/><stop offset="0.778" stop-color="#4b60aa"/><stop offset="0.822" stop-color="#4a5fa9"/><stop offset="0.867" stop-color="#495ea7"/><stop offset="0.9" stop-color="#475ca5"/><stop offset="0.922" stop-color="#465aa4"/><stop offset="0.944" stop-color="#4559a2"/><stop offset="0.961" stop-color="#4558a1"/><stop offset="0.978" stop-color="#4457a0"/><stop offset="0.989" stop-color="#4457a0"/><stop offset="1" stop-color="#4457a0"/></linearGradient>
<linearGradient id="g166" gradientUnits="userSpaceOnUse" x1="0" y1="437" x2="0" y2="554"><stop offset="0" stop-color="#4f66b1"/><stop offset="0.0278" stop-color="#5067b2"/><stop offset="0.0556" stop-color="#5067b2"/><stop offset="0.111" stop-color="#5067b2"/><stop offset="0.167" stop-color="#5067b2"/><stop offset="0.222" stop-color="#5067b2"/><stop offset="0.278" stop-color="#5067b2"/><stop offset="0.333" stop-color="#5068b2"/><stop offset="0.389" stop-color="#5068b3"/><stop offset="0.444" stop-color="#5169b4"/><stop offset="0.5" stop-color="#5269b4"/><stop offset="0.556" stop-color="#536bb7"/><stop offset="0.611" stop-color="#546db8"/><stop offset="0.667" stop-color="#556eb9"/><stop offset="0.722" stop-color="#566fba"/><stop offset="0.778" stop-color="#556eba"/><stop offset="0.822" stop-color="#546cb8"/><stop offset="0.867" stop-color="#5168b3"/><stop offset="0.9" stop-color="#4d63ae"/><stop offset="0.922" stop-color="#4b60aa"/><stop offset="0.944" stop-color="#485da6"/><stop offset="0.961" stop-color="#465aa4"/><stop offset="0.978" stop-color="#4558a2"/><stop offset="0.989" stop-color="#4458a1"/><stop offset="1" stop-color="#4457a0"/></linearGradient>
<linearGradient id="g167" gradientUnits="userSpaceOnUse" x1="0" y1="437" x2="0" y2="554"><stop offset="0" stop-color="#5b75c1"/><stop offset="0.0278" stop-color="#5b76c1"/><stop offset="0.0556" stop-color="#5c77c2"/><stop offset="0.111" stop-color="#5c77c2"/><stop offset="0.167" stop-color="#5c77c2"/><stop offset="0.222" stop-color="#5b76c1"/><stop offset="0.278" stop-color="#5c76c1"/><stop offset="0.333" stop-color="#5c77c2"/><stop offset="0.389" stop-color="#5c77c2"/><stop offset="0.444" stop-color="#5e78c3"/><stop offset="0.5" stop-color="#5f7ac4"/><stop offset="0.556" stop-color="#627ec7"/><stop offset="0.611" stop-color="#6581ca"/><stop offset="0.667" stop-color="#6682cb"/><stop offset="0.722" stop-color="#6784cc"/><stop offset="0.778" stop-color="#6783cb"/><stop offset="0.822" stop-color="#647fc9"/><stop offset="0.867" stop-color="#5d78c3"/><stop offset="0.9" stop-color="#566fbb"/><stop offset="0.922" stop-color="#5169b4"/><stop offset="0.944" stop-color="#4d63ad"/><stop offset="0.961" stop-color="#495ea8"/><stop offset="0.978" stop-color="#465aa4"/><stop offset="0.989" stop-color="#4559a2"/><stop offset="1" stop-color="#4457a0"/></linearGradient>
<linearGradient id="g168" gradientUnits="userSpaceOnUse" x1="0" y1="437" x2="0" y2="554"><stop offset="0" stop-color="#6c89d0"/><stop offset="0.0278" stop-color="#6d8ad1"/><stop offset="0.0556" stop-color="#6e8bd2"/><stop offset="0.111" stop-color="#6e8cd2"/><stop offset="0.167" stop-color="#6e8cd2"/><stop offset="0.222" stop-color="#6c8ad1"/><stop offset="0.278" stop-color="#6d8ad1"/><stop offset="0.333" stop-color="#6d8ad1"/><stop offset="0.389" stop-color="#6d8ad1"/><stop offset="0.444" stop-color="#6f8cd3"/><stop offset="0.5" stop-color="#708ed4"/><stop offset="0.556" stop-color="#7694d8"/><stop offset="0.611" stop-color="#7b99da"/><stop offset="0.667" stop-color="#7e9bdc"/><stop offset="0.722" stop-color="#819edd"/><stop offset="0.778" stop-color="#7f9cdc"/><stop offset="0.822" stop-color="#7a97d9"/><stop offset="0.867" stop-color="#6f8cd3"/><stop offset="0.9" stop-color="#637fc8"/><stop offset="0.922" stop-color="#5b76c1"/><stop offset="0.944" stop-color="#536cb7"/><stop offset="0.961" stop-color="#4e64af"/><stop offset="0.978" stop-color="#495da7"/><stop offset="0.989" stop-color="#465aa3"/><stop offset="1" stop-color="#4558a1"/></linearGradient>
<linearGradient id="g169" gradientUnits="userSpaceOnUse" x1="0" y1="437" x2="0" y2="554"><stop offset="0" stop-color="#819edd"/><stop offset="0.0278" stop-color="#82a0de"/><stop offset="0.0556" stop-color="#84a1df"/><stop offset="0.111" stop-color="#84a2df"/><stop offset="0.167" stop-color="#85a2df"/><stop offset="0.222" stop-color="#829fde"/><stop offset="0.278" stop-color="#819fde"/><stop offset="0.333" stop-color="#819fde"/><stop offset="0.389" stop-color="#819edd"/><stop offset="0.444" stop-color="#83a1df"/><stop offset="0.5" stop-color="#86a3e0"/><stop offset="0.556" stop-color="#8eabe4"/><stop offset="0.611" stop-color="#96b1e7"/><stop offset="0.667" stop-color="#9ab5e8"/><stop offset="0.722" stop-color="#9eb8e9"/><stop offset="0.778" stop-color="#9cb6e8"/><stop offset="0.822" stop-color="#94b0e6"/><stop offset="0.867" stop-color="#85a2df"/><stop offset="0.9" stop-color="#7391d6"/><stop offset="0.922" stop-color="#6884cc"/><stop offset="0.944" stop-color="#5c77c2"/><stop offset="0.961" stop-color="#536cb7"/><stop offset="0.978" stop-color="#4c62ac"/><stop offset="0.989" stop-color="#485ca6"/><stop offset="1" stop-color="#4559a2"/></linearGradient>
<linearGradient id="g170" gradientUnits="userSpaceOnUse" x1="0" y1="437" x2="0" y2="554"><stop offset="0" stop-color="#94b0e6"/><stop offset="0.0278" stop-color="#96b1e7"/><stop offset="0.0556" stop-color="#98b3e7"/><stop offset="0.111" stop-color="#99b4e7"/><stop offset="0.167" stop-color="#99b4e8"/><stop offset="0.222" stop-color="#94b0e6"/><stop offset="0.278" stop-color="#93afe6"/><stop offset="0.333" stop-color="#92afe6"/><stop offset="0.389" stop-color="#91ade5"/><stop offset="0.444" stop-color="#94b0e6"/><stop offset="0.5" stop-color="#98b3e7"/><stop offset="0.556" stop-color="#a3bcea"/><stop offset="0.611" stop-color="#acc4ed"/><stop offset="0.667" stop-color="#b2c8ed"/><stop offset="0.722" stop-color="#bacbeb"/><stop offset="0.778" stop-color="#b5c9ec"/><stop offset="0.822" stop-color="#abc2ed"/><stop offset="0.867" stop-color="#98b3e7"/><stop offset="0.9" stop-color="#83a0de"/><stop offset="0.922" stop-color="#7491d6"/><stop offset="0.944" stop-color="#6582ca"/><stop offset="0.961" stop-color="#5973bf"/><stop offset="0.978" stop-color="#4f66b1"/><stop offset="0.989" stop-color="#4a5fa9"/><stop offset="1" stop-color="#465aa3"/></linearGradient>
<linearGradient id="g171" gradientUnits="userSpaceOnUse" x1="0" y1="437" x2="0" y2="554"><stop offset="0" stop-color="#a7bfec"/><stop offset="0.0278" stop-color="#a9c1ec"/><stop offset="0.0556" stop-color="#acc3ed"/><stop offset="0.111" stop-color="#acc3ed"/><stop offset="0.167" stop-color="#acc4ed"/><stop offset="0.222" stop-color="#a7bfec"/><stop offset="0.278" stop-color="#a5bdeb"/><stop offset="0.333" stop-color="#a3bcea"/><stop offset="0.389" stop-color="#a1baea"/><stop offset="0.444" stop-color="#a4bdeb"/><stop offset="0.5" stop-color="#a8c0ec"/><stop offset="0.556" stop-color="#b6caec"/><stop offset="0.611" stop-color="#c6d1e8"/><stop offset="0.667" stop-color="#ced6e5"/><stop offset="0.722" stop-color="#d7dae3"/><stop offset="0.778" stop-color="#d1d7e4"/><stop offset="0.822" stop-color="#c4d1e8"/><stop offset="0.867" stop-color="#aac2ed"/><stop offset="0.9" stop-color="#92aee5"/><stop offset="0.922" stop-color="#809edd"/><stop offset="0.944" stop-color="#6f8cd3"/><stop offset="0.961" stop-color="#607cc6"/><stop offset="0.978" stop-color="#536bb6"/><stop offset="0.989" stop-color="#4c62ac"/><stop offset="1" stop-color="#475ba4"/></linearGradient>
<linearGradient id="g172" gradientUnits="userSpaceOnUse" x1="0" y1="437" x2="0" y2="554"><stop offset="0" stop-color="#c0cee9"/><stop offset="0.0278" stop-color="#c4d0e8"/><stop offset="0.0556" stop-color="#c8d3e7"/><stop offset="0.111" stop-color="#c8d3e7"/><stop offset="0.167" stop-color="#c8d3e7"/><stop offset="0.222" stop-color="#bfceea"/><stop offset="0.278" stop-color="#bacceb"/><stop offset="0.333" stop-color="#b6caec"/><stop offset="0.389" stop-color="#b1c7ed"/><stop offset="0.444" stop-color="#b7caec"/><stop offset="0.5" stop-color="#bcccea"/><stop offset="0.556" stop-color="#d0d6e5"/><stop offset="0.611" stop-color="#e1dfe0"/><stop offset="0.667" stop-color="#e5dad7"/><stop offset="0.722" stop-color="#e8d6cf"/><stop offset="0.778" stop-color="#e6d9d4"/><stop offset="0.822" stop-color="#e1dfe0"/><stop offset="0.867" stop-color="#c4d0e8"/><stop offset="0.9" stop-color="#a4bdeb"/><stop offset="0.922" stop-color="#8fabe4"/><stop offset="0.944" stop-color="#7b98da"/><stop offset="0.961" stop-color="#6885cd"/><stop offset="0.978" stop-color="#5771bd"/><stop offset="0.989" stop-color="#4f66b0"/><stop offset="1" stop-color="#485ca6"/></linearGradient>
<linearGradient id="g173" gradientUnits="userSpaceOnUse" x1="0" y1="437" x2="0" y2="554"><stop offset="0" stop-color="#dedde1"/><stop offset="0.0278" stop-color="#e1dedf"/><stop offset="0.0556" stop-color="#e3dcdb"/><stop offset="0.111" stop-color="#e3dcdb"/><stop offset="0.167" stop-color="#e3dcdb"/><stop offset="0.222" stop-color="#dcdce1"/><stop offset="0.278" stop-color="#d6d9e3"/><stop offset="0.333" stop-color="#d0d6e5"/><stop offset="0.389" stop-color="#c9d3e7"/><stop offset="0.444" stop-color="#cfd6e5"/><stop offset="0.5" stop-color="#d4d9e4"/><stop offset="0.556" stop-color="#e4dbd8"/><stop offset="0.611" stop-color="#ebd2c7"/><stop offset="0.667" stop-color="#efcdbe"/><stop offset="0.722" stop-color="#f3c8b5"/><stop offset="0.778" stop-color="#f0cbba"/><stop offset="0.822" stop-color="#ebd2c7"/><stop offset="0.867" stop-color="#e0dfe0"/><stop offset="0.9" stop-color="#b9cbeb"/><stop offset="0.922" stop-color="#a0baea"/><stop offset="0.944" stop-color="#88a5e1"/><stop offset="0.961" stop-color="#7290d5"/><stop offset="0.978" stop-color="#5e79c3"/><stop offset="0.989" stop-color="#526ab5"/><stop offset="1" stop-color="#4a5ea8"/></linearGradient>
<linearGradient id="g174" gradientUnits="userSpaceOnUse" x1="0" y1="437" x2="0" y2="554"><stop offset="0" stop-color="#ebd2c8"/><stop offset="0.0278" stop-color="#edd0c4"/><stop offset="0.0556" stop-color="#eecebf"/><stop offset="0.111" stop-color="#eecebf"/><stop offset="0.167" stop-color="#eecec0"/><stop offset="0.222" stop-color="#ead4cb"/><stop offset="0.278" stop-color="#e7d8d2"/><stop offset="0.333" stop-color="#e4dbd9"/><stop offset="0.389" stop-color="#e1dfe0"/><stop offset="0.444" stop-color="#e3dcdb"/><stop offset="0.5" stop-color="#e5dad6"/><stop offset="0.556" stop-color="#edcfc2"/><stop offset="0.611" stop-color="#f3c5af"/><stop offset="0.667" stop-color="#f3bea6"/><stop offset="0.722" stop-color="#f4b79d"/><stop offset="0.778" stop-color="#f3bba3"/><stop offset="0.822" stop-color="#f3c4af"/><stop offset="0.867" stop-color="#ebd2c7"/><stop offset="0.9" stop-color="#d5d9e3"/><stop offset="0.922" stop-color="#b4c8ed"/><stop offset="0.944" stop-color="#98b3e7"/><stop offset="0.961" stop-color="#7e9cdc"/><stop offset="0.978" stop-color="#6581ca"/><stop offset="0.989" stop-color="#566fbb"/><stop offset="1" stop-color="#4b61ab"/></linearGradient>
<linearGradient id="g175" gradientUnits="userSpaceOnUse" x1="0" y1="437" x2="0" y2="554"><stop offset="0" stop-color="#f3c4ae"/><stop offset="0.0278" stop-color="#f3c0aa"/><stop offset="0.0556" stop-color="#f3bda5"/><stop offset="0.111" stop-color="#f3bda6"/><stop offset="0.167" stop-color="#f3bea6"/><stop offset="0.222" stop-color="#f3c6b2"/><stop offset="0.278" stop-color="#f0cbbb"/><stop offset="0.333" stop-color="#edd0c3"/><stop offset="0.389" stop-color="#e9d4cc"/><stop offset="0.444" stop-color="#ebd2c7"/><stop offset="0.5" stop-color="#edcfc2"/><stop offset="0.556" stop-color="#f3c3ad"/><stop offset="0.611" stop-color="#f4b59a"/><stop offset="0.667" stop-color="#f4ad90"/><stop offset="0.722" stop-color="#f2a486"/><stop offset="0.778" stop-color="#f4aa8c"/><stop offset="0.822" stop-color="#f4b398"/><stop offset="0.867" stop-color="#f3c4af"/><stop offset="0.9" stop-color="#e7d8d2"/><stop offset="0.922" stop-color="#cfd6e5"/><stop offset="0.944" stop-color="#a9c1ec"/><stop offset="0.961" stop-color="#8ba8e3"/><stop offset="0.978" stop-color="#6c8ad1"/><stop offset="0.989" stop-color="#5b75c0"/><stop offset="1" stop-color="#4d63ae"/></linearGradient>
<linearGradient id="g176" gradientUnits="userSpaceOnUse" x1="0" y1="437" x2="0" y2="554"><stop offset="0" stop-color="#f4b297"/><stop offset="0.0278" stop-color="#f4af92"/><stop offset="0.0556" stop-color="#f4ab8e"/><stop offset="0.111" stop-color="#f4ac8e"/><stop offset="0.167" stop-color="#f4ac8f"/><stop offset="0.222" stop-color="#f4b69c"/><stop offset="0.278" stop-color="#f3bda6"/><stop offset="0.333" stop-color="#f3c4af"/><stop offset="0.389" stop-color="#f1cab8"/><stop offset="0.444" stop-color="#f3c8b4"/><stop offset="0.5" stop-color="#f3c4af"/><stop offset="0.556" stop-color="#f4b49a"/><stop offset="0.611" stop-color="#f2a486"/><stop offset="0.667" stop-color="#ef987c"/><stop offset="0.722" stop-color="#ec8d72"/><stop offset="0.778" stop-color="#ee9478"/><stop offset="0.822" stop-color="#f1a184"/><stop offset="0.867" stop-color="#f4b49a"/><stop offset="0.9" stop-color="#f0ccbb"/><stop offset="0.922" stop-color="#e4dbd9"/><stop offset="0.944" stop-color="#c0cfe9"/><stop offset="0.961" stop-color="#99b4e8"/><stop offset="0.978" stop-color="#7593d7"/><stop offset="0.989" stop-color="#607bc5"/><stop offset="1" stop-color="#4f66b1"/></linearGradient>
<linearGradient id="g177" gradientUnits="userSpaceOnUse" x1="0" y1="437" x2="0" y2="554"><stop offset="0" stop-color="#f19f82"/><stop offset="0.0278" stop-color="#ef9a7d"/><stop offset="0.0556" stop-color="#ee9478"/><stop offset="0.111" stop-color="#ee9579"/><stop offset="0.167" stop-color="#ee967a"/><stop offset="0.222" stop-color="#f2a587"/><stop offset="0.278" stop-color="#f4af93"/><stop offset="0.333" stop-color="#f4b79d"/><stop offset="0.389" stop-color="#f3bfa8"/><stop offset="0.444" stop-color="#f3bba3"/><stop offset="0.5" stop-color="#f4b89f"/><stop offset="0.556" stop-color="#f3a789"/><stop offset="0.611" stop-color="#ed9075"/><stop offset="0.667" stop-color="#e9846a"/><stop offset="0.722" stop-color="#e57860"/><stop offset="0.778" stop-color="#e87f66"/><stop offset="0.822" stop-color="#ec8d72"/><stop offset="0.867" stop-color="#f2a486"/><stop offset="0.9" stop-color="#f3bea6"/><stop offset="0.922" stop-color="#edd0c3"/><stop offset="0.944" stop-color="#d9dbe2"/><stop offset="0.961" stop-color="#a8c0ec"/><stop offset="0.978" stop-color="#7f9cdc"/><stop offset="0.989" stop-color="#6682cb"/><stop offset="1" stop-color="#5269b4"/></linearGradient>
<linearGradient id="g178" gradientUnits="userSpaceOnUse" x1="0" y1="437" x2="0" y2="554"><stop offset="0" stop-color="#eb8a6f"/><stop offset="0.0278" stop-color="#e9856a"/><stop offset="0.0556" stop-color="#e87f65"/><stop offset="0.111" stop-color="#e88066"/><stop offset="0.167" stop-color="#e88268"/><stop offset="0.222" stop-color="#ed9175"/><stop offset="0.278" stop-color="#f19f82"/><stop offset="0.333" stop-color="#f4ab8d"/><stop offset="0.389" stop-color="#f4b499"/><stop offset="0.444" stop-color="#f4b195"/><stop offset="0.5" stop-color="#f4ad90"/><stop offset="0.556" stop-color="#ee967a"/><stop offset="0.611" stop-color="#e77f65"/><stop offset="0.667" stop-color="#e2725b"/><stop offset="0.722" stop-color="#dd6552"/><stop offset="0.778" stop-color="#e06d58"/><stop offset="0.822" stop-color="#e67a62"/><stop offset="0.867" stop-color="#ed9175"/><stop offset="0.9" stop-color="#f4b094"/><stop offset="0.922" stop-color="#f3c4af"/><stop offset="0.944" stop-color="#e6d8d3"/><stop offset="0.961" stop-color="#bacbeb"/><stop offset="0.978" stop-color="#88a5e1"/><stop offset="0.989" stop-color="#6b88cf"/><stop offset="1" stop-color="#546cb8"/></linearGradient>
<linearGradient id="g179" gradientUnits="userSpaceOnUse" x1="0" y1="437" x2="0" y2="554"><stop offset="0" stop-color="#e57860"/><stop offset="0.0278" stop-color="#e2725b"/><stop offset="0.0556" stop-color="#e06c57"/><stop offset="0.111" stop-color="#e16e58"/><stop offset="0.167" stop-color="#e16f59"/><stop offset="0.222" stop-color="#e88066"/><stop offset="0.278" stop-color="#ec8f74"/><stop offset="0.333" stop-color="#f09d80"/><stop offset="0.389" stop-color="#f4aa8c"/><stop offset="0.444" stop-color="#f3a688"/><stop offset="0.5" stop-color="#f2a184"/><stop offset="0.556" stop-color="#ea886d"/><stop offset="0.611" stop-color="#e16f59"/><stop offset="0.667" stop-color="#dc624f"/><stop offset="0.722" stop-color="#d75445"/><stop offset="0.778" stop-color="#da5c4b"/><stop offset="0.822" stop-color="#df6a56"/><stop offset="0.867" stop-color="#e88066"/><stop offset="0.9" stop-color="#f2a184"/><stop offset="0.922" stop-color="#f4b89f"/><stop offset="0.944" stop-color="#eecfc1"/><stop offset="0.961" stop-color="#ccd5e6"/><stop offset="0.978" stop-color="#91ade5"/><stop offset="0.989" stop-color="#708ed4"/><stop offset="1" stop-color="#566fbb"/></linearGradient>
<linearGradient id="g180" gradientUnits="userSpaceOnUse" x1="0" y1="437" x2="0" y2="554"><stop offset="0" stop-color="#df6854"/><stop offset="0.0278" stop-color="#dc6250"/><stop offset="0.0556" stop-color="#da5c4b"/><stop offset="0.111" stop-color="#da5e4c"/><stop offset="0.167" stop-color="#db5f4e"/><stop offset="0.222" stop-color="#e2715b"/><stop offset="0.278" stop-color="#e88268"/><stop offset="0.333" stop-color="#ed9075"/><stop offset="0.389" stop-color="#f19f82"/><stop offset="0.444" stop-color="#f09b7e"/><stop offset="0.5" stop-color="#ee967a"/><stop offset="0.556" stop-color="#e77c63"/><stop offset="0.611" stop-color="#dc6250"/><stop offset="0.667" stop-color="#d75446"/><stop offset="0.722" stop-color="#d0453d"/><stop offset="0.778" stop-color="#d44e42"/><stop offset="0.822" stop-color="#da5c4c"/><stop offset="0.867" stop-color="#e2725c"/><stop offset="0.9" stop-color="#ed9377"/><stop offset="0.922" stop-color="#f4ae91"/><stop offset="0.944" stop-color="#f3c6b2"/><stop offset="0.961" stop-color="#dddde1"/><stop offset="0.978" stop-color="#9ab5e8"/><stop offset="0.989" stop-color="#7693d7"/><stop offset="1" stop-color="#5872be"/></linearGradient>
<linearGradient id="g181" gradientUnits="userSpaceOnUse" x1="0" y1="437" x2="0" y2="554"><stop offset="0" stop-color="#da5c4b"/><stop offset="0.0278" stop-color="#d75546"/><stop offset="0.0556" stop-color="#d44f43"/><stop offset="0.111" stop-color="#d55144"/><stop offset="0.167" stop-color="#d65345"/><stop offset="0.222" stop-color="#dd6552"/><stop offset="0.278" stop-color="#e4775f"/><stop offset="0.333" stop-color="#ea876c"/><stop offset="0.389" stop-color="#ee967a"/><stop offset="0.444" stop-color="#ed9276"/><stop offset="0.5" stop-color="#ec8e72"/><stop offset="0.556" stop-color="#e3735c"/><stop offset="0.611" stop-color="#d85848"/><stop offset="0.667" stop-color="#d2493f"/><stop offset="0.722" stop-color="#cb3a37"/><stop offset="0.778" stop-color="#cf433c"/><stop offset="0.822" stop-color="#d55244"/><stop offset="0.867" stop-color="#de6753"/><stop offset="0.9" stop-color="#ea876d"/><stop offset="0.922" stop-color="#f2a386"/><stop offset="0.944" stop-color="#f3bea6"/><stop offset="0.961" stop-color="#e4dbd8"/><stop offset="0.978" stop-color="#a1baea"/><stop offset="0.989" stop-color="#7a98da"/><stop offset="1" stop-color="#5a74bf"/></linearGradient>
<linearGradient id="g182" gradientUnits="userSpaceOnUse" x1="0" y1="437" x2="0" y2="554"><stop offset="0" stop-color="#d65244"/><stop offset="0.0278" stop-color="#d34c41"/><stop offset="0.0556" stop-color="#d0453d"/><stop offset="0.111" stop-color="#d1473e"/><stop offset="0.167" stop-color="#d2493f"/><stop offset="0.222" stop-color="#da5c4c"/><stop offset="0.278" stop-color="#e16f59"/><stop offset="0.333" stop-color="#e87f66"/><stop offset="0.389" stop-color="#ec9074"/><stop offset="0.444" stop-color="#eb8b70"/><stop offset="0.5" stop-color="#ea876c"/><stop offset="0.556" stop-color="#e06c57"/><stop offset="0.611" stop-color="#d55043"/><stop offset="0.667" stop-color="#ce413b"/><stop offset="0.722" stop-color="#c73132"/><stop offset="0.778" stop-color="#cb3b37"/><stop offset="0.822" stop-color="#d2493f"/><stop offset="0.867" stop-color="#db5e4d"/><stop offset="0.9" stop-color="#e87f65"/><stop offset="0.922" stop-color="#f09b7e"/><stop offset="0.944" stop-color="#f4b79e"/><stop offset="0.961" stop-color="#e8d6d0"/><stop offset="0.978" stop-color="#a6bfeb"/><stop offset="0.989" stop-color="#7d9bdb"/><stop offset="1" stop-color="#5b76c1"/></linearGradient>
<linearGradient id="g183" gradientUnits="userSpaceOnUse" x1="0" y1="437" x2="0" y2="554"><stop offset="0" stop-color="#d34c41"/><stop offset="0.0278" stop-color="#d0453d"/><stop offset="0.0556" stop-color="#cd3e39"/><stop offset="0.111" stop-color="#ce403b"/><stop offset="0.167" stop-color="#cf433c"/><stop offset="0.222" stop-color="#d85747"/><stop offset="0.278" stop-color="#df6a55"/><stop offset="0.333" stop-color="#e67b62"/><stop offset="0.389" stop-color="#eb8b70"/><stop offset="0.444" stop-color="#ea876c"/><stop offset="0.5" stop-color="#e98369"/><stop offset="0.556" stop-color="#de6754"/><stop offset="0.611" stop-color="#d34b40"/><stop offset="0.667" stop-color="#cc3b38"/><stop offset="0.722" stop-color="#c52c2f"/><stop offset="0.778" stop-color="#c93534"/><stop offset="0.822" stop-color="#cf443c"/><stop offset="0.867" stop-color="#d95949"/><stop offset="0.9" stop-color="#e57961"/><stop offset="0.922" stop-color="#ee9579"/><stop offset="0.944" stop-color="#f4b398"/><stop offset="0.961" stop-color="#ead3ca"/><stop offset="0.978" stop-color="#aac2ed"/><stop offset="0.989" stop-color="#809ddd"/><stop offset="1" stop-color="#5c77c2"/></linearGradient>
<linearGradient id="g184" gradientUnits="userSpaceOnUse" x1="0" y1="437" x2="0" y2="554"><stop offset="0" stop-color="#d1483f"/><stop offset="0.0278" stop-color="#ce413b"/><stop offset="0.0556" stop-color="#cb3b37"/><stop offset="0.111" stop-color="#cc3d39"/><stop offset="0.167" stop-color="#cd3f3a"/><stop offset="0.222" stop-color="#d65345"/><stop offset="0.278" stop-color="#de6753"/><stop offset="0.333" stop-color="#e57860"/><stop offset="0.389" stop-color="#eb896e"/><stop offset="0.444" stop-color="#e9856a"/><stop offset="0.5" stop-color="#e88167"/><stop offset="0.556" stop-color="#dd6552"/><stop offset="0.611" stop-color="#d1483f"/><stop offset="0.667" stop-color="#ca3936"/><stop offset="0.722" stop-color="#c3292d"/><stop offset="0.778" stop-color="#c83333"/><stop offset="0.822" stop-color="#ce413b"/><stop offset="0.867" stop-color="#d75647"/><stop offset="0.9" stop-color="#e4765f"/><stop offset="0.922" stop-color="#ed9276"/><stop offset="0.944" stop-color="#f4b195"/><stop offset="0.961" stop-color="#ebd2c7"/><stop offset="0.978" stop-color="#acc4ed"/><stop offset="0.989" stop-color="#819edd"/><stop offset="1" stop-color="#5d77c2"/></linearGradient>
<linearGradient id="g185" gradientUnits="userSpaceOnUse" x1="0" y1="437" x2="0" y2="554"><stop offset="0" stop-color="#d1473e"/><stop offset="0.0278" stop-color="#ce403b"/><stop offset="0.0556" stop-color="#cb3937"/><stop offset="0.111" stop-color="#cc3c38"/><stop offset="0.167" stop-color="#cd3e39"/><stop offset="0.222" stop-color="#d65244"/><stop offset="0.278" stop-color="#de6653"/><stop offset="0.333" stop-color="#e5775f"/><stop offset="0.389" stop-color="#ea886e"/><stop offset="0.444" stop-color="#e9846a"/><stop offset="0.5" stop-color="#e88066"/><stop offset="0.556" stop-color="#dd6451"/><stop offset="0.611" stop-color="#d1483f"/><stop offset="0.667" stop-color="#ca3836"/><stop offset="0.722" stop-color="#c3282d"/><stop offset="0.778" stop-color="#c73232"/><stop offset="0.822" stop-color="#ce403a"/><stop offset="0.867" stop-color="#d75546"/><stop offset="0.9" stop-color="#e4755e"/><stop offset="0.922" stop-color="#ed9175"/><stop offset="0.944" stop-color="#f4b094"/><stop offset="0.961" stop-color="#ecd1c6"/><stop offset="0.978" stop-color="#adc4ed"/><stop offset="0.989" stop-color="#819fde"/><stop offset="1" stop-color="#5d78c2"/></linearGradient>
<linearGradient id="g186" gradientUnits="userSpaceOnUse" x1="0" y1="437" x2="0" y2="554"><stop offset="0" stop-color="#d1483f"/><stop offset="0.0278" stop-color="#ce413b"/><stop offset="0.0556" stop-color="#cb3a37"/><stop offset="0.111" stop-color="#cc3c38"/><stop offset="0.167" stop-color="#cd3e39"/><stop offset="0.222" stop-color="#d65345"/><stop offset="0.278" stop-color="#de6653"/><stop offset="0.333" stop-color="#e57860"/><stop offset="0.389" stop-color="#ea896e"/><stop offset="0.444" stop-color="#e9856a"/><stop offset="0.5" stop-color="#e88066"/><stop offset="0.556" stop-color="#dd6451"/><stop offset="0.611" stop-color="#d1483f"/><stop offset="0.667" stop-color="#ca3836"/><stop offset="0.722" stop-color="#c3282d"/><stop offset="0.778" stop-color="#c73233"/><stop offset="0.822" stop-color="#ce403b"/><stop offset="0.867" stop-color="#d75546"/><stop offset="0.9" stop-color="#e4765e"/><stop offset="0.922" stop-color="#ed9176"/><stop offset="0.944" stop-color="#f4b094"/><stop offset="0.961" stop-color="#ecd1c6"/><stop offset="0.978" stop-color="#acc4ed"/><stop offset="0.989" stop-color="#819fdd"/><stop offset="1" stop-color="#5d78c2"/></linearGradient>
<linearGradient id="g187" gradientUnits="userSpaceOnUse" x1="0" y1="437" x2="0" y2="554"><stop offset="0" stop-color="#d24a40"/><stop offset="0.0278" stop-color="#cf433c"/><stop offset="0.0556" stop-color="#cc3c38"/><stop offset="0.111" stop-color="#cd3e39"/><stop offset="0.167" stop-color="#ce403b"/><stop offset="0.222" stop-color="#d75546"/><stop offset="0.278" stop-color="#df6854"/><stop offset="0.333" stop-color="#e57961"/><stop offset="0.389" stop-color="#eb8a6f"/><stop offset="0.444" stop-color="#ea866c"/><stop offset="0.5" stop-color="#e98268"/><stop offset="0.556" stop-color="#de6653"/><stop offset="0.611" stop-color="#d24a40"/><stop offset="0.667" stop-color="#cb3a37"/><stop offset="0.722" stop-color="#c42b2f"/><stop offset="0.778" stop-color="#c83434"/><stop offset="0.822" stop-color="#cf433c"/><stop offset="0.867" stop-color="#d85848"/><stop offset="0.9" stop-color="#e57860"/><stop offset="0.922" stop-color="#ee9478"/><stop offset="0.944" stop-color="#f4b297"/><stop offset="0.961" stop-color="#ebd3c8"/><stop offset="0.978" stop-color="#abc3ed"/><stop offset="0.989" stop-color="#809edd"/><stop offset="1" stop-color="#5c77c2"/></linearGradient>
<linearGradient id="g188" gradientUnits="userSpaceOnUse" x1="0" y1="437" x2="0" y2="554"><stop offset="0" stop-color="#d44f43"/><stop offset="0.0278" stop-color="#d1483f"/><stop offset="0.0556" stop-color="#ce423b"/><stop offset="0.111" stop-color="#cf433c"/><stop offset="0.167" stop-color="#d0463d"/><stop offset="0.222" stop-color="#d95949"/><stop offset="0.278" stop-color="#e06d58"/><stop offset="0.333" stop-color="#e77e64"/><stop offset="0.389" stop-color="#ec8e73"/><stop offset="0.444" stop-color="#eb8a6f"/><stop offset="0.5" stop-color="#ea866b"/><stop offset="0.556" stop-color="#df6a56"/><stop offset="0.611" stop-color="#d44e42"/><stop offset="0.667" stop-color="#cd3f3a"/><stop offset="0.722" stop-color="#c63031"/><stop offset="0.778" stop-color="#cb3936"/><stop offset="0.822" stop-color="#d1473e"/><stop offset="0.867" stop-color="#da5c4c"/><stop offset="0.9" stop-color="#e77d64"/><stop offset="0.922" stop-color="#ef997c"/><stop offset="0.944" stop-color="#f4b69c"/><stop offset="0.961" stop-color="#e9d5ce"/><stop offset="0.978" stop-color="#a8c0ec"/><stop offset="0.989" stop-color="#7e9cdc"/><stop offset="1" stop-color="#5b76c1"/></linearGradient>
<linearGradient id="g189" gradientUnits="userSpaceOnUse" x1="0" y1="437" x2="0" y2="554"><stop offset="0" stop-color="#d85848"/><stop offset="0.0278" stop-color="#d55144"/><stop offset="0.0556" stop-color="#d24a40"/><stop offset="0.111" stop-color="#d34c41"/><stop offset="0.167" stop-color="#d44e42"/><stop offset="0.222" stop-color="#dc614f"/><stop offset="0.278" stop-color="#e3745d"/><stop offset="0.333" stop-color="#e9846a"/><stop offset="0.389" stop-color="#ee9478"/><stop offset="0.444" stop-color="#ec9074"/><stop offset="0.5" stop-color="#eb8b70"/><stop offset="0.556" stop-color="#e2715a"/><stop offset="0.611" stop-color="#d75646"/><stop offset="0.667" stop-color="#d0463e"/><stop offset="0.722" stop-color="#ca3735"/><stop offset="0.778" stop-color="#ce403b"/><stop offset="0.822" stop-color="#d44f43"/><stop offset="0.867" stop-color="#dd6451"/><stop offset="0.9" stop-color="#e9856a"/><stop offset="0.922" stop-color="#f1a183"/><stop offset="0.944" stop-color="#f3bca3"/><stop offset="0.961" stop-color="#e5d9d5"/><stop offset="0.978" stop-color="#a3bcea"/><stop offset="0.989" stop-color="#7b99da"/><stop offset="1" stop-color="#5a74c0"/></linearGradient>
<linearGradient id="g190" gradientUnits="userSpaceOnUse" x1="0" y1="437" x2="0" y2="554"><stop offset="0" stop-color="#dc6350"/><stop offset="0.0278" stop-color="#da5c4b"/><stop offset="0.0556" stop-color="#d75647"/><stop offset="0.111" stop-color="#d85748"/><stop offset="0.167" stop-color="#d95949"/><stop offset="0.222" stop-color="#e06b57"/><stop offset="0.278" stop-color="#e77d64"/><stop offset="0.333" stop-color="#ec8d71"/><stop offset="0.389" stop-color="#f09c7f"/><stop offset="0.444" stop-color="#ef987c"/><stop offset="0.5" stop-color="#ee9478"/><stop offset="0.556" stop-color="#e57961"/><stop offset="0.611" stop-color="#db5f4d"/><stop offset="0.667" stop-color="#d55144"/><stop offset="0.722" stop-color="#ce423b"/><stop offset="0.778" stop-color="#d24b40"/><stop offset="0.822" stop-color="#d95949"/><stop offset="0.867" stop-color="#e16e59"/><stop offset="0.9" stop-color="#ec8f74"/><stop offset="0.922" stop-color="#f4ab8d"/><stop offset="0.944" stop-color="#f3c4ae"/><stop offset="0.961" stop-color="#e1dfe0"/><stop offset="0.978" stop-color="#9cb6e8"/><stop offset="0.989" stop-color="#7795d8"/><stop offset="1" stop-color="#5872be"/></linearGradient>
<linearGradient id="g191" gradientUnits="userSpaceOnUse" x1="0" y1="437" x2="0" y2="554"><stop offset="0" stop-color="#e2715b"/><stop offset="0.0278" stop-color="#e06b56"/><stop offset="0.0556" stop-color="#dd6452"/><stop offset="0.111" stop-color="#de6652"/><stop offset="0.167" stop-color="#de6754"/><stop offset="0.222" stop-color="#e57961"/><stop offset="0.278" stop-color="#eb896f"/><stop offset="0.333" stop-color="#ef987c"/><stop offset="0.389" stop-color="#f3a689"/><stop offset="0.444" stop-color="#f2a285"/><stop offset="0.5" stop-color="#f19e81"/><stop offset="0.556" stop-color="#e9856a"/><stop offset="0.611" stop-color="#e06b56"/><stop offset="0.667" stop-color="#da5d4c"/><stop offset="0.722" stop-color="#d54f43"/><stop offset="0.778" stop-color="#d85848"/><stop offset="0.822" stop-color="#de6652"/><stop offset="0.867" stop-color="#e67c63"/><stop offset="0.9" stop-color="#f09d80"/><stop offset="0.922" stop-color="#f4b59a"/><stop offset="0.944" stop-color="#f0ccbc"/><stop offset="0.961" stop-color="#d1d7e4"/><stop offset="0.978" stop-color="#94b0e6"/><stop offset="0.989" stop-color="#7290d5"/><stop offset="1" stop-color="#5670bc"/></linearGradient>
<linearGradient id="g192" gradientUnits="userSpaceOnUse" x1="0" y1="437" x2="0" y2="554"><stop offset="0" stop-color="#e98268"/><stop offset="0.0278" stop-color="#e77c63"/><stop offset="0.0556" stop-color="#e4765f"/><stop offset="0.111" stop-color="#e4775f"/><stop offset="0.167" stop-color="#e57860"/><stop offset="0.222" stop-color="#eb896e"/><stop offset="0.278" stop-color="#ef987c"/><stop offset="0.333" stop-color="#f3a688"/><stop offset="0.389" stop-color="#f4b195"/><stop offset="0.444" stop-color="#f4ae91"/><stop offset="0.5" stop-color="#f4aa8d"/><stop offset="0.556" stop-color="#ed9276"/><stop offset="0.611" stop-color="#e67a61"/><stop offset="0.667" stop-color="#e06d58"/><stop offset="0.722" stop-color="#db604e"/><stop offset="0.778" stop-color="#de6854"/><stop offset="0.822" stop-color="#e4755e"/><stop offset="0.867" stop-color="#eb8c71"/><stop offset="0.9" stop-color="#f4ac8f"/><stop offset="0.922" stop-color="#f3c1aa"/><stop offset="0.944" stop-color="#e9d5ce"/><stop offset="0.961" stop-color="#bfcee9"/><stop offset="0.978" stop-color="#8ba8e3"/><stop offset="0.989" stop-color="#6d8ad1"/><stop offset="1" stop-color="#546db9"/></linearGradient>
<linearGradient id="g193" gradientUnits="userSpaceOnUse" x1="0" y1="437" x2="0" y2="554"><stop offset="0" stop-color="#ee967a"/><stop offset="0.0278" stop-color="#ed9074"/><stop offset="0.0556" stop-color="#eb8a6f"/><stop offset="0.111" stop-color="#eb8a6f"/><stop offset="0.167" stop-color="#eb8c70"/><stop offset="0.222" stop-color="#f09b7f"/><stop offset="0.278" stop-color="#f4a98b"/><stop offset="0.333" stop-color="#f4b297"/><stop offset="0.389" stop-color="#f3bba3"/><stop offset="0.444" stop-color="#f4b89f"/><stop offset="0.5" stop-color="#f4b59b"/><stop offset="0.556" stop-color="#f2a284"/><stop offset="0.611" stop-color="#eb8b70"/><stop offset="0.667" stop-color="#e77f65"/><stop offset="0.722" stop-color="#e2725c"/><stop offset="0.778" stop-color="#e67a61"/><stop offset="0.822" stop-color="#ea876c"/><stop offset="0.867" stop-color="#f19e81"/><stop offset="0.9" stop-color="#f3b9a1"/><stop offset="0.922" stop-color="#efcdbd"/><stop offset="0.944" stop-color="#e0dee0"/><stop offset="0.961" stop-color="#acc4ed"/><stop offset="0.978" stop-color="#819fde"/><stop offset="0.989" stop-color="#6784cc"/><stop offset="1" stop-color="#526ab5"/></linearGradient>
<linearGradient id="g194" gradientUnits="userSpaceOnUse" x1="0" y1="437" x2="0" y2="554"><stop offset="0" stop-color="#f4ab8e"/><stop offset="0.0278" stop-color="#f3a688"/><stop offset="0.0556" stop-color="#f1a083"/><stop offset="0.111" stop-color="#f1a083"/><stop offset="0.167" stop-color="#f1a184"/><stop offset="0.222" stop-color="#f4ae91"/><stop offset="0.278" stop-color="#f4b79d"/><stop offset="0.333" stop-color="#f3bfa8"/><stop offset="0.389" stop-color="#f3c7b2"/><stop offset="0.444" stop-color="#f3c4ae"/><stop offset="0.5" stop-color="#f3c1aa"/><stop offset="0.556" stop-color="#f4b195"/><stop offset="0.611" stop-color="#f19e81"/><stop offset="0.667" stop-color="#ed9277"/><stop offset="0.722" stop-color="#ea876c"/><stop offset="0.778" stop-color="#ec8e72"/><stop offset="0.822" stop-color="#f09b7e"/><stop offset="0.867" stop-color="#f4b094"/><stop offset="0.9" stop-color="#f3c8b4"/><stop offset="0.922" stop-color="#e7d8d3"/><stop offset="0.944" stop-color="#c7d2e7"/><stop offset="0.961" stop-color="#9eb8e9"/><stop offset="0.978" stop-color="#7896d8"/><stop offset="0.989" stop-color="#627dc7"/><stop offset="1" stop-color="#5067b2"/></linearGradient>
<linearGradient id="g195" gradientUnits="userSpaceOnUse" x1="0" y1="437" x2="0" y2="554"><stop offset="0" stop-color="#f3bca4"/><stop offset="0.0278" stop-color="#f4b89e"/><stop offset="0.0556" stop-color="#f4b499"/><stop offset="0.111" stop-color="#f4b398"/><stop offset="0.167" stop-color="#f4b499"/><stop offset="0.222" stop-color="#f3bda6"/><stop offset="0.278" stop-color="#f3c6b1"/><stop offset="0.333" stop-color="#f0ccbb"/><stop offset="0.389" stop-color="#ecd1c5"/><stop offset="0.444" stop-color="#eecfc1"/><stop offset="0.5" stop-color="#f0ccbc"/><stop offset="0.556" stop-color="#f3bea7"/><stop offset="0.611" stop-color="#f4b094"/><stop offset="0.667" stop-color="#f3a88a"/><stop offset="0.722" stop-color="#f09d80"/><stop offset="0.778" stop-color="#f2a486"/><stop offset="0.822" stop-color="#f4af92"/><stop offset="0.867" stop-color="#f3c0a9"/><stop offset="0.9" stop-color="#e9d4cb"/><stop offset="0.922" stop-color="#d6dae3"/><stop offset="0.944" stop-color="#aec6ee"/><stop offset="0.961" stop-color="#8fabe4"/><stop offset="0.978" stop-color="#6f8cd3"/><stop offset="0.989" stop-color="#5c77c2"/><stop offset="1" stop-color="#4e64af"/></linearGradient>
<linearGradient id="g196" gradientUnits="userSpaceOnUse" x1="0" y1="437" x2="0" y2="554"><stop offset="0" stop-color="#f0ccbb"/><stop offset="0.0278" stop-color="#f2c9b6"/><stop offset="0.0556" stop-color="#f3c5b0"/><stop offset="0.111" stop-color="#f3c4af"/><stop offset="0.167" stop-color="#f3c5b0"/><stop offset="0.222" stop-color="#f0ccbc"/><stop offset="0.278" stop-color="#ebd2c7"/><stop offset="0.333" stop-color="#e8d7d0"/><stop offset="0.389" stop-color="#e4dbd9"/><stop offset="0.444" stop-color="#e6d9d5"/><stop offset="0.5" stop-color="#e7d7d0"/><stop offset="0.556" stop-color="#f0ccbb"/><stop offset="0.611" stop-color="#f3c0a9"/><stop offset="0.667" stop-color="#f4b9a0"/><stop offset="0.722" stop-color="#f4b296"/><stop offset="0.778" stop-color="#f4b69c"/><stop offset="0.822" stop-color="#f3bfa8"/><stop offset="0.867" stop-color="#eecec0"/><stop offset="0.9" stop-color="#dddde1"/><stop offset="0.922" stop-color="#bcccea"/><stop offset="0.944" stop-color="#9db7e9"/><stop offset="0.961" stop-color="#829fde"/><stop offset="0.978" stop-color="#6783cc"/><stop offset="0.989" stop-color="#5771bd"/><stop offset="1" stop-color="#4c61ac"/></linearGradient>
<linearGradient id="g197" gradientUnits="userSpaceOnUse" x1="0" y1="437" x2="0" y2="554"><stop offset="0" stop-color="#e5d9d5"/><stop offset="0.0278" stop-color="#e8d6d0"/><stop offset="0.0556" stop-color="#ead3ca"/><stop offset="0.111" stop-color="#ebd3c8"/><stop offset="0.167" stop-color="#ebd3c9"/><stop offset="0.222" stop-color="#e6d9d5"/><stop offset="0.278" stop-color="#e2dede"/><stop offset="0.333" stop-color="#dadce2"/><stop offset="0.389" stop-color="#d2d7e4"/><stop offset="0.444" stop-color="#d6dae3"/><stop offset="0.5" stop-color="#dbdce2"/><stop offset="0.556" stop-color="#e7d7d2"/><stop offset="0.611" stop-color="#eecec0"/><stop offset="0.667" stop-color="#f2c9b6"/><stop offset="0.722" stop-color="#f3c3ae"/><stop offset="0.778" stop-color="#f3c7b3"/><stop offset="0.822" stop-color="#eecec0"/><stop offset="0.867" stop-color="#e4dbd9"/><stop offset="0.9" stop-color="#c1cfe9"/><stop offset="0.922" stop-color="#a5beeb"/><stop offset="0.944" stop-color="#8ca9e4"/><stop offset="0.961" stop-color="#7593d7"/><stop offset="0.978" stop-color="#607bc5"/><stop offset="0.989" stop-color="#536cb7"/><stop offset="1" stop-color="#4a5fa9"/></linearGradient>
<linearGradient id="g198" gradientUnits="userSpaceOnUse" x1="0" y1="437" x2="0" y2="554"><stop offset="0" stop-color="#d0d7e5"/><stop offset="0.0278" stop-color="#d6dae3"/><stop offset="0.0556" stop-color="#dddde1"/><stop offset="0.111" stop-color="#dfdee0"/><stop offset="0.167" stop-color="#dfdee1"/><stop offset="0.222" stop-color="#d2d8e4"/><stop offset="0.278" stop-color="#c9d3e7"/><stop offset="0.333" stop-color="#c1cfe9"/><stop offset="0.389" stop-color="#bacbeb"/><stop offset="0.444" stop-color="#beceea"/><stop offset="0.5" stop-color="#c3d0e8"/><stop offset="0.556" stop-color="#d8dae3"/><stop offset="0.611" stop-color="#e4dbd8"/><stop offset="0.667" stop-color="#e8d7d0"/><stop offset="0.722" stop-color="#ebd2c7"/><stop offset="0.778" stop-color="#e9d5cd"/><stop offset="0.822" stop-color="#e4dbd9"/><stop offset="0.867" stop-color="#ccd5e6"/><stop offset="0.9" stop-color="#a9c1ec"/><stop offset="0.922" stop-color="#94b0e6"/><stop offset="0.944" stop-color="#7f9cdc"/><stop offset="0.961" stop-color="#6b88cf"/><stop offset="0.978" stop-color="#5973bf"/><stop offset="0.989" stop-color="#5067b2"/><stop offset="1" stop-color="#485da7"/></linearGradient>
<linearGradient id="g199" gradientUnits="userSpaceOnUse" x1="0" y1="437" x2="0" y2="554"><stop offset="0" stop-color="#b4c8ed"/><stop offset="0.0278" stop-color="#bacceb"/><stop offset="0.0556" stop-color="#c0cfe9"/><stop offset="0.111" stop-color="#c4d0e8"/><stop offset="0.167" stop-color="#c4d0e8"/><stop offset="0.222" stop-color="#b8caec"/><stop offset="0.278" stop-color="#afc6ee"/><stop offset="0.333" stop-color="#abc2ed"/><stop offset="0.389" stop-color="#a6bfeb"/><stop offset="0.444" stop-color="#a9c1ec"/><stop offset="0.5" stop-color="#acc4ed"/><stop offset="0.556" stop-color="#becdea"/><stop offset="0.611" stop-color="#ced5e5"/><stop offset="0.667" stop-color="#d7dae3"/><stop offset="0.722" stop-color="#dfdee0"/><stop offset="0.778" stop-color="#dadbe2"/><stop offset="0.822" stop-color="#ccd5e6"/><stop offset="0.867" stop-color="#b0c7ee"/><stop offset="0.9" stop-color="#97b2e7"/><stop offset="0.922" stop-color="#84a2df"/><stop offset="0.944" stop-color="#7290d5"/><stop offset="0.961" stop-color="#637ec8"/><stop offset="0.978" stop-color="#546db8"/><stop offset="0.989" stop-color="#4d63ad"/><stop offset="1" stop-color="#475ba5"/></linearGradient>
<linearGradient id="g200" gradientUnits="userSpaceOnUse" x1="0" y1="437" x2="0" y2="554"><stop offset="0" stop-color="#a0baea"/><stop offset="0.0278" stop-color="#a4bdeb"/><stop offset="0.0556" stop-color="#a9c1ec"/><stop offset="0.111" stop-color="#abc3ed"/><stop offset="0.167" stop-color="#abc3ed"/><stop offset="0.222" stop-color="#a4bdeb"/><stop offset="0.278" stop-color="#9fb9e9"/><stop offset="0.333" stop-color="#9ab5e8"/><stop offset="0.389" stop-color="#97b2e7"/><stop offset="0.444" stop-color="#99b4e8"/><stop offset="0.5" stop-color="#9cb7e9"/><stop offset="0.556" stop-color="#a8c0ec"/><stop offset="0.611" stop-color="#b3c8ed"/><stop offset="0.667" stop-color="#bacceb"/><stop offset="0.722" stop-color="#c2d0e9"/><stop offset="0.778" stop-color="#bdcdea"/><stop offset="0.822" stop-color="#b1c7ee"/><stop offset="0.867" stop-color="#9db8e9"/><stop offset="0.9" stop-color="#87a4e1"/><stop offset="0.922" stop-color="#7795d8"/><stop offset="0.944" stop-color="#6885cd"/><stop offset="0.961" stop-color="#5b76c1"/><stop offset="0.978" stop-color="#5068b2"/><stop offset="0.989" stop-color="#4a60aa"/><stop offset="1" stop-color="#465aa3"/></linearGradient>
<linearGradient id="g201" gradientUnits="userSpaceOnUse" x1="0" y1="437" x2="0" y2="554"><stop offset="0" stop-color="#8eabe4"/><stop offset="0.0278" stop-color="#92aee5"/><stop offset="0.0556" stop-color="#96b1e7"/><stop offset="0.111" stop-color="#99b4e8"/><stop offset="0.167" stop-color="#99b4e8"/><stop offset="0.222" stop-color="#92aee5"/><stop offset="0.278" stop-color="#8daae4"/><stop offset="0.333" stop-color="#8aa7e2"/><stop offset="0.389" stop-color="#87a5e1"/><stop offset="0.444" stop-color="#89a6e2"/><stop offset="0.5" stop-color="#8ca9e3"/><stop offset="0.556" stop-color="#95b1e6"/><stop offset="0.611" stop-color="#9eb8e9"/><stop offset="0.667" stop-color="#a2bbea"/><stop offset="0.722" stop-color="#a7bfec"/><stop offset="0.778" stop-color="#a4bdeb"/><stop offset="0.822" stop-color="#9cb6e8"/><stop offset="0.867" stop-color="#8ba8e3"/><stop offset="0.9" stop-color="#7896d9"/><stop offset="0.922" stop-color="#6b88d0"/><stop offset="0.944" stop-color="#5f7ac4"/><stop offset="0.961" stop-color="#556eb9"/><stop offset="0.978" stop-color="#4d63ad"/><stop offset="0.989" stop-color="#485da7"/><stop offset="1" stop-color="#4559a2"/></linearGradient>
<linearGradient id="g202" gradientUnits="userSpaceOnUse" x1="0" y1="437" x2="0" y2="554"><stop offset="0" stop-color="#7997d9"/><stop offset="0.0278" stop-color="#7c9adb"/><stop offset="0.0556" stop-color="#809ddd"/><stop offset="0.111" stop-color="#83a0de"/><stop offset="0.167" stop-color="#83a0de"/><stop offset="0.222" stop-color="#7d9bdb"/><stop offset="0.278" stop-color="#7997d9"/><stop offset="0.333" stop-color="#7694d7"/><stop offset="0.389" stop-color="#7492d6"/><stop offset="0.444" stop-color="#7593d7"/><stop offset="0.5" stop-color="#7795d8"/><stop offset="0.556" stop-color="#7e9bdb"/><stop offset="0.611" stop-color="#83a0de"/><stop offset="0.667" stop-color="#86a3e0"/><stop offset="0.722" stop-color="#89a6e2"/><stop offset="0.778" stop-color="#87a4e1"/><stop offset="0.822" stop-color="#819fde"/><stop offset="0.867" stop-color="#7593d7"/><stop offset="0.9" stop-color="#6885cd"/><stop offset="0.922" stop-color="#5f7ac4"/><stop offset="0.944" stop-color="#566fbb"/><stop offset="0.961" stop-color="#4f66b1"/><stop offset="0.978" stop-color="#4a5ea8"/><stop offset="0.989" stop-color="#475ba4"/><stop offset="1" stop-color="#4558a1"/></linearGradient>
<linearGradient id="g203" gradientUnits="userSpaceOnUse" x1="0" y1="437" x2="0" y2="554"><stop offset="0" stop-color="#6783cb"/><stop offset="0.0278" stop-color="#6986ce"/><stop offset="0.0556" stop-color="#6c89d0"/><stop offset="0.111" stop-color="#6f8cd3"/><stop offset="0.167" stop-color="#6e8cd3"/><stop offset="0.222" stop-color="#6a87cf"/><stop offset="0.278" stop-color="#6783cc"/><stop offset="0.333" stop-color="#6480c9"/><stop offset="0.389" stop-color="#627ec7"/><stop offset="0.444" stop-color="#637ec8"/><stop offset="0.5" stop-color="#6480c9"/><stop offset="0.556" stop-color="#6784cc"/><stop offset="0.611" stop-color="#6a87cf"/><stop offset="0.667" stop-color="#6c89d0"/><stop offset="0.722" stop-color="#6e8bd2"/><stop offset="0.778" stop-color="#6d8ad1"/><stop offset="0.822" stop-color="#6986ce"/><stop offset="0.867" stop-color="#627ec7"/><stop offset="0.9" stop-color="#5973bf"/><stop offset="0.922" stop-color="#546cb8"/><stop offset="0.944" stop-color="#4f65b0"/><stop offset="0.961" stop-color="#4a60aa"/><stop offset="0.978" stop-color="#475ba5"/><stop offset="0.989" stop-color="#4559a2"/><stop offset="1" stop-color="#4458a1"/></linearGradient>
<linearGradient id="g204" gradientUnits="userSpaceOnUse" x1="0" y1="437" x2="0" y2="554"><stop offset="0" stop-color="#5973bf"/><stop offset="0.0278" stop-color="#5c76c1"/><stop offset="0.0556" stop-color="#5e79c4"/><stop offset="0.111" stop-color="#617cc6"/><stop offset="0.167" stop-color="#617cc6"/><stop offset="0.222" stop-color="#5d78c3"/><stop offset="0.278" stop-color="#5973bf"/><stop offset="0.333" stop-color="#5670bb"/><stop offset="0.389" stop-color="#556db9"/><stop offset="0.444" stop-color="#546db9"/><stop offset="0.5" stop-color="#556eb9"/><stop offset="0.556" stop-color="#5770bc"/><stop offset="0.611" stop-color="#5872be"/><stop offset="0.667" stop-color="#5973bf"/><stop offset="0.722" stop-color="#5a74c0"/><stop offset="0.778" stop-color="#5973bf"/><stop offset="0.822" stop-color="#5771bd"/><stop offset="0.867" stop-color="#546cb7"/><stop offset="0.9" stop-color="#4f66b1"/><stop offset="0.922" stop-color="#4c62ac"/><stop offset="0.944" stop-color="#495ea8"/><stop offset="0.961" stop-color="#475ba5"/><stop offset="0.978" stop-color="#4559a2"/><stop offset="0.989" stop-color="#4558a1"/><stop offset="1" stop-color="#4457a0"/></linearGradient>
<linearGradient id="g205" gradientUnits="userSpaceOnUse" x1="0" y1="437" x2="0" y2="554"><stop offset="0" stop-color="#5169b4"/><stop offset="0.0278" stop-color="#536cb7"/><stop offset="0.0556" stop-color="#556fba"/><stop offset="0.111" stop-color="#5872be"/><stop offset="0.167" stop-color="#5872be"/><stop offset="0.222" stop-color="#556db9"/><stop offset="0.278" stop-color="#5168b3"/><stop offset="0.333" stop-color="#4e64af"/><stop offset="0.389" stop-color="#4c62ac"/><stop offset="0.444" stop-color="#4b61ab"/><stop offset="0.5" stop-color="#4b61ab"/><stop offset="0.556" stop-color="#4c62ac"/><stop offset="0.611" stop-color="#4d63ad"/><stop offset="0.667" stop-color="#4d63ae"/><stop offset="0.722" stop-color="#4e64ae"/><stop offset="0.778" stop-color="#4d64ae"/><stop offset="0.822" stop-color="#4d63ad"/><stop offset="0.867" stop-color="#4b60aa"/><stop offset="0.9" stop-color="#495da7"/><stop offset="0.922" stop-color="#475ba5"/><stop offset="0.944" stop-color="#465aa3"/><stop offset="0.961" stop-color="#4559a2"/><stop offset="0.978" stop-color="#4458a1"/><stop offset="0.989" stop-color="#4457a0"/><stop offset="1" stop-color="#4457a0"/></linearGradient>
<linearGradient id="g206" gradientUnits="userSpaceOnUse" x1="0" y1="437" x2="0" y2="554"><stop offset="0" stop-color="#4d64ae"/><stop offset="0.0278" stop-color="#5067b1"/><stop offset="0.0556" stop-color="#5269b5"/><stop offset="0.111" stop-color="#546db9"/><stop offset="0.167" stop-color="#546db8"/><stop offset="0.222" stop-color="#5168b3"/><stop offset="0.278" stop-color="#4d63ad"/><stop offset="0.333" stop-color="#495ea8"/><stop offset="0.389" stop-color="#475ba5"/><stop offset="0.444" stop-color="#465aa3"/><stop offset="0.5" stop-color="#465aa3"/><stop offset="0.556" stop-color="#465aa3"/><stop offset="0.611" stop-color="#465aa4"/><stop offset="0.667" stop-color="#465aa4"/><stop offset="0.722" stop-color="#475aa4"/><stop offset="0.778" stop-color="#465aa4"/><stop offset="0.822" stop-color="#465aa3"/><stop offset="0.867" stop-color="#4659a3"/><stop offset="0.9" stop-color="#4559a2"/><stop offset="0.922" stop-color="#4558a1"/><stop offset="0.944" stop-color="#4458a1"/><stop offset="0.961" stop-color="#4457a0"/><stop offset="0.978" stop-color="#4457a0"/><stop offset="0.989" stop-color="#4457a0"/><stop offset="1" stop-color="#4457a0"/></linearGradient>
<linearGradient id="g207" gradientUnits="userSpaceOnUse" x1="0" y1="437" x2="0" y2="554"><stop offset="0" stop-color="#4d63ad"/><stop offset="0.0278" stop-color="#4f66b0"/><stop offset="0.0556" stop-color="#5169b3"/><stop offset="0.111" stop-color="#546cb8"/><stop offset="0.167" stop-color="#546cb7"/><stop offset="0.222" stop-color="#5067b2"/><stop offset="0.278" stop-color="#4c61ab"/><stop offset="0.333" stop-color="#485ca6"/><stop offset="0.389" stop-color="#4659a2"/><stop offset="0.444" stop-color="#4558a1"/><stop offset="0.5" stop-color="#4457a0"/><stop offset="0.556" stop-color="#4457a0"/><stop offset="0.611" stop-color="#4457a0"/><stop offset="0.667" stop-color="#4457a0"/><stop offset="0.722" stop-color="#4457a0"/><stop offset="0.778" stop-color="#4457a0"/><stop offset="0.822" stop-color="#4457a0"/><stop offset="0.867" stop-color="#4457a0"/><stop offset="0.9" stop-color="#4457a0"/><stop offset="0.922" stop-color="#4457a0"/><stop offset="0.944" stop-color="#4457a0"/><stop offset="0.961" stop-color="#4457a0"/><stop offset="0.978" stop-color="#4457a0"/><stop offset="0.989" stop-color="#4457a0"/><stop offset="1" stop-color="#4457a0"/></linearGradient>
<linearGradient id="g208" gradientUnits="userSpaceOnUse" x1="0" y1="437" x2="0" y2="554"><stop offset="0" stop-color="#4d63ae"/><stop offset="0.0278" stop-color="#4f67b1"/><stop offset="0.0556" stop-color="#526ab5"/><stop offset="0.111" stop-color="#556eb9"/><stop offset="0.167" stop-color="#546db9"/><stop offset="0.222" stop-color="#5168b3"/><stop offset="0.278" stop-color="#4c62ac"/><stop offset="0.333" stop-color="#485ca6"/><stop offset="0.389" stop-color="#4659a2"/><stop offset="0.444" stop-color="#4558a1"/><stop offset="0.5" stop-color="#4457a0"/><stop offset="0.556" stop-color="#4457a0"/><stop offset="0.611" stop-color="#4457a0"/><stop offset="0.667" stop-color="#4457a0"/><stop offset="0.722" stop-color="#4457a0"/><stop offset="0.778" stop-color="#4457a0"/><stop offset="0.822" stop-color="#4457a0"/><stop offset="0.867" stop-color="#4457a0"/><stop offset="0.9" stop-color="#4457a0"/><stop offset="0.922" stop-color="#4457a0"/><stop offset="0.944" stop-color="#4457a0"/><stop offset="0.961" stop-color="#4457a0"/><stop offset="0.978" stop-color="#4457a0"/><stop offset="0.989" stop-color="#4457a0"/><stop offset="1" stop-color="#4457a0"/></linearGradient>
<linearGradient id="g209" gradientUnits="userSpaceOnUse" x1="0" y1="437" x2="0" y2="554"><stop offset="0" stop-color="#4e64ae"/><stop offset="0.0278" stop-color="#5067b2"/><stop offset="0.0556" stop-color="#536bb6"/><stop offset="0.111" stop-color="#566fbb"/><stop offset="0.167" stop-color="#556eba"/><stop offset="0.222" stop-color="#5269b4"/><stop offset="0.278" stop-color="#4d63ad"/><stop offset="0.333" stop-color="#485da6"/><stop offset="0.389" stop-color="#4659a3"/><stop offset="0.444" stop-color="#4558a1"/><stop offset="0.5" stop-color="#4457a0"/><stop offset="0.556" stop-color="#4457a0"/><stop offset="0.611" stop-color="#4457a0"/><stop offset="0.667" stop-color="#4457a0"/><stop offset="0.722" stop-color="#4457a0"/><stop offset="0.778" stop-color="#4457a0"/><stop offset="0.822" stop-color="#4457a0"/><stop offset="0.867" stop-color="#4457a0"/><stop offset="0.9" stop-color="#4457a0"/><stop offset="0.922" stop-color="#4457a0"/><stop offset="0.944" stop-color="#4457a0"/><stop offset="0.961" stop-color="#4457a0"/><stop offset="0.978" stop-color="#4457a0"/><stop offset="0.989" stop-color="#4457a0"/><stop offset="1" stop-color="#4457a0"/></linearGradient>
<linearGradient id="g210" gradientUnits="userSpaceOnUse" x1="0" y1="437" x2="0" y2="554"><stop offset="0" stop-color="#4e64af"/><stop offset="0.0278" stop-color="#5168b3"/><stop offset="0.0556" stop-color="#536bb7"/><stop offset="0.111" stop-color="#5670bc"/><stop offset="0.167" stop-color="#566fbb"/><stop offset="0.222" stop-color="#526ab5"/><stop offset="0.278" stop-color="#4d63ad"/><stop offset="0.333" stop-color="#485da7"/><stop offset="0.389" stop-color="#4659a3"/><stop offset="0.444" stop-color="#4558a1"/><stop offset="0.5" stop-color="#4457a0"/><stop offset="0.556" stop-color="#4457a0"/><stop offset="0.611" stop-color="#4457a0"/><stop offset="0.667" stop-color="#4457a0"/><stop offset="0.722" stop-color="#4457a0"/><stop offset="0.778" stop-color="#4457a0"/><stop offset="0.822" stop-color="#4457a0"/><stop offset="0.867" stop-color="#4457a0"/><stop offset="0.9" stop-color="#4457a0"/><stop offset="0.922" stop-color="#4457a0"/><stop offset="0.944" stop-color="#4457a0"/><stop offset="0.961" stop-color="#4457a0"/><stop offset="0.978" stop-color="#4457a0"/><stop offset="0.989" stop-color="#4457a0"/><stop offset="1" stop-color="#4457a0"/></linearGradient>
<linearGradient id="g211" gradientUnits="userSpaceOnUse" x1="0" y1="437" x2="0" y2="554"><stop offset="0" stop-color="#4e65af"/><stop offset="0.0278" stop-color="#5169b3"/><stop offset="0.0556" stop-color="#546cb7"/><stop offset="0.111" stop-color="#5771bd"/><stop offset="0.167" stop-color="#5770bc"/><stop offset="0.222" stop-color="#536bb6"/><stop offset="0.278" stop-color="#4d63ae"/><stop offset="0.333" stop-color="#495da7"/><stop offset="0.389" stop-color="#4659a3"/><stop offset="0.444" stop-color="#4558a1"/><stop offset="0.5" stop-color="#4457a0"/><stop offset="0.556" stop-color="#4457a0"/><stop offset="0.611" stop-color="#4457a0"/><stop offset="0.667" stop-color="#4457a0"/><stop offset="0.722" stop-color="#4457a0"/><stop offset="0.778" stop-color="#4457a0"/><stop offset="0.822" stop-color="#4457a0"/><stop offset="0.867" stop-color="#4457a0"/><stop offset="0.9" stop-color="#4457a0"/><stop offset="0.922" stop-color="#4457a0"/><stop offset="0.944" stop-color="#4457a0"/><stop offset="0.961" stop-color="#4457a0"/><stop offset="0.978" stop-color="#4457a0"/><stop offset="0.989" stop-color="#4457a0"/><stop offset="1" stop-color="#4457a0"/></linearGradient>
<linearGradient id="g212" gradientUnits="userSpaceOnUse" x1="0" y1="437" x2="0" y2="554"><stop offset="0" stop-color="#4e65b0"/><stop offset="0.0278" stop-color="#5169b4"/><stop offset="0.0556" stop-color="#546cb8"/><stop offset="0.111" stop-color="#5771bd"/><stop offset="0.167" stop-color="#5771bd"/><stop offset="0.222" stop-color="#536bb6"/><stop offset="0.278" stop-color="#4d64ae"/><stop offset="0.333" stop-color="#495da7"/><stop offset="0.389" stop-color="#465aa3"/><stop offset="0.444" stop-color="#4558a1"/><stop offset="0.5" stop-color="#4457a0"/><stop offset="0.556" stop-color="#4457a0"/><stop offset="0.611" stop-color="#4457a0"/><stop offset="0.667" stop-color="#4457a0"/><stop offset="0.722" stop-color="#4457a0"/><stop offset="0.778" stop-color="#4457a0"/><stop offset="0.822" stop-color="#4457a0"/><stop offset="0.867" stop-color="#4457a0"/><stop offset="0.9" stop-color="#4457a0"/><stop offset="0.922" stop-color="#4457a0"/><stop offset="0.944" stop-color="#4457a0"/><stop offset="0.961" stop-color="#4457a0"/><stop offset="0.978" stop-color="#4457a0"/><stop offset="0.989" stop-color="#4457a0"/><stop offset="1" stop-color="#4457a0"/></linearGradient>
<linearGradient id="g213" gradientUnits="userSpaceOnUse" x1="0" y1="437" x2="0" y2="554"><stop offset="0" stop-color="#4f65b0"/><stop offset="0.0278" stop-color="#5169b4"/><stop offset="0.0556" stop-color="#546db8"/><stop offset="0.111" stop-color="#5871bd"/><stop offset="0.167" stop-color="#5771bd"/><stop offset="0.222" stop-color="#536bb7"/><stop offset="0.278" stop-color="#4d64ae"/><stop offset="0.333" stop-color="#495da7"/><stop offset="0.389" stop-color="#465aa3"/><stop offset="0.444" stop-color="#4558a1"/><stop offset="0.5" stop-color="#4457a0"/><stop offset="0.556" stop-color="#4457a0"/><stop offset="0.611" stop-color="#4457a0"/><stop offset="0.667" stop-color="#4457a0"/><stop offset="0.722" stop-color="#4457a0"/><stop offset="0.778" stop-color="#4457a0"/><stop offset="0.822" stop-color="#4457a0"/><stop offset="0.867" stop-color="#4457a0"/><stop offset="0.9" stop-color="#4457a0"/><stop offset="0.922" stop-color="#4457a0"/><stop offset="0.944" stop-color="#4457a0"/><stop offset="0.961" stop-color="#4457a0"/><stop offset="0.978" stop-color="#4457a0"/><stop offset="0.989" stop-color="#4457a0"/><stop offset="1" stop-color="#4457a0"/></linearGradient>
<linearGradient id="g214" gradientUnits="userSpaceOnUse" x1="0" y1="437" x2="0" y2="554"><stop offset="0" stop-color="#4f65b0"/><stop offset="0.0278" stop-color="#5169b4"/><stop offset="0.0556" stop-color="#546db8"/><stop offset="0.111" stop-color="#5871bd"/><stop offset="0.167" stop-color="#5771bd"/><stop offset="0.222" stop-color="#536bb7"/><stop offset="0.278" stop-color="#4d64ae"/><stop offset="0.333" stop-color="#495da7"/><stop offset="0.389" stop-color="#465aa3"/><stop offset="0.444" stop-color="#4558a1"/><stop offset="0.5" stop-color="#4457a0"/><stop offset="0.556" stop-color="#4457a0"/><stop offset="0.611" stop-color="#4457a0"/><stop offset="0.667" stop-color="#4457a0"/><stop offset="0.722" stop-color="#4457a0"/><stop offset="0.778" stop-color="#4457a0"/><stop offset="0.822" stop-color="#4457a0"/><stop offset="0.867" stop-color="#4457a0"/><stop offset="0.9" stop-color="#4457a0"/><stop offset="0.922" stop-color="#4457a0"/><stop offset="0.944" stop-color="#4457a0"/><stop offset="0.961" stop-color="#4457a0"/><stop offset="0.978" stop-color="#4457a0"/><stop offset="0.989" stop-color="#4457a0"/><stop offset="1" stop-color="#4457a0"/></linearGradient>
<linearGradient id="g215" gradientUnits="userSpaceOnUse" x1="0" y1="437" x2="0" y2="554"><stop offset="0" stop-color="#4e65b0"/><stop offset="0.0278" stop-color="#5169b4"/><stop offset="0.0556" stop-color="#546cb8"/><stop offset="0.111" stop-color="#5771bd"/><stop offset="0.167" stop-color="#5771bc"/><stop offset="0.222" stop-color="#536bb6"/><stop offset="0.278" stop-color="#4d64ae"/><stop offset="0.333" stop-color="#495da7"/><stop offset="0.389" stop-color="#465aa3"/><stop offset="0.444" stop-color="#4558a1"/><stop offset="0.5" stop-color="#4457a0"/><stop offset="0.556" stop-color="#4457a0"/><stop offset="0.611" stop-color="#4457a0"/><stop offset="0.667" stop-color="#4457a0"/><stop offset="0.722" stop-color="#4457a0"/><stop offset="0.778" stop-color="#4457a0"/><stop offset="0.822" stop-color="#4457a0"/><stop offset="0.867" stop-color="#4457a0"/><stop offset="0.9" stop-color="#4457a0"/><stop offset="0.922" stop-color="#4457a0"/><stop offset="0.944" stop-color="#4457a0"/><stop offset="0.961" stop-color="#4457a0"/><stop offset="0.978" stop-color="#4457a0"/><stop offset="0.989" stop-color="#4457a0"/><stop offset="1" stop-color="#4457a0"/></linearGradient>
<linearGradient id="g216" gradientUnits="userSpaceOnUse" x1="0" y1="437" x2="0" y2="554"><stop offset="0" stop-color="#4e65af"/><stop offset="0.0278" stop-color="#5168b3"/><stop offset="0.0556" stop-color="#546cb7"/><stop offset="0.111" stop-color="#5771bc"/><stop offset="0.167" stop-color="#5770bc"/><stop offset="0.222" stop-color="#536bb6"/><stop offset="0.278" stop-color="#4d63ae"/><stop offset="0.333" stop-color="#495da7"/><stop offset="0.389" stop-color="#4659a3"/><stop offset="0.444" stop-color="#4558a1"/><stop offset="0.5" stop-color="#4457a0"/><stop offset="0.556" stop-color="#4457a0"/><stop offset="0.611" stop-color="#4457a0"/><stop offset="0.667" stop-color="#4457a0"/><stop offset="0.722" stop-color="#4457a0"/><stop offset="0.778" stop-color="#4457a0"/><stop offset="0.822" stop-color="#4457a0"/><stop offset="0.867" stop-color="#4457a0"/><stop offset="0.9" stop-color="#4457a0"/><stop offset="0.922" stop-color="#4457a0"/><stop offset="0.944" stop-color="#4457a0"/><stop offset="0.961" stop-color="#4457a0"/><stop offset="0.978" stop-color="#4457a0"/><stop offset="0.989" stop-color="#4457a0"/><stop offset="1" stop-color="#4457a0"/></linearGradient>
<linearGradient id="g217" gradientUnits="userSpaceOnUse" x1="0" y1="437" x2="0" y2="554"><stop offset="0" stop-color="#4e64af"/><stop offset="0.0278" stop-color="#5168b3"/><stop offset="0.0556" stop-color="#536bb7"/><stop offset="0.111" stop-color="#5670bc"/><stop offset="0.167" stop-color="#566fbb"/><stop offset="0.222" stop-color="#526ab5"/><stop offset="0.278" stop-color="#4d63ad"/><stop offset="0.333" stop-color="#485da7"/><stop offset="0.389" stop-color="#4659a3"/><stop offset="0.444" stop-color="#4558a1"/><stop offset="0.5" stop-color="#4457a0"/><stop offset="0.556" stop-color="#4457a0"/><stop offset="0.611" stop-color="#4457a0"/><stop offset="0.667" stop-color="#4457a0"/><stop offset="0.722" stop-color="#4457a0"/><stop offset="0.778" stop-color="#4457a0"/><stop offset="0.822" stop-color="#4457a0"/><stop offset="0.867" stop-color="#4457a0"/><stop offset="0.9" stop-color="#4457a0"/><stop offset="0.922" stop-color="#4457a0"/><stop offset="0.944" stop-color="#4457a0"/><stop offset="0.961" stop-color="#4457a0"/><stop offset="0.978" stop-color="#4457a0"/><stop offset="0.989" stop-color="#4457a0"/><stop offset="1" stop-color="#4457a0"/></linearGradient>
<linearGradient id="g218" gradientUnits="userSpaceOnUse" x1="0" y1="437" x2="0" y2="554"><stop offset="0" stop-color="#4d64ae"/><stop offset="0.0278" stop-color="#5067b2"/><stop offset="0.0556" stop-color="#526bb6"/><stop offset="0.111" stop-color="#566fba"/><stop offset="0.167" stop-color="#556eba"/><stop offset="0.222" stop-color="#5269b4"/><stop offset="0.278" stop-color="#4c62ad"/><stop offset="0.333" stop-color="#485da6"/><stop offset="0.389" stop-color="#4659a3"/><stop offset="0.444" stop-color="#4558a1"/><stop offset="0.5" stop-color="#4457a0"/><stop offset="0.556" stop-color="#4457a0"/><stop offset="0.611" stop-color="#4457a0"/><stop offset="0.667" stop-color="#4457a0"/><stop offset="0.722" stop-color="#4457a0"/><stop offset="0.778" stop-color="#4457a0"/><stop offset="0.822" stop-color="#4457a0"/><stop offset="0.867" stop-color="#4457a0"/><stop offset="0.9" stop-color="#4457a0"/><stop offset="0.922" stop-color="#4457a0"/><stop offset="0.944" stop-color="#4457a0"/><stop offset="0.961" stop-color="#4457a0"/><stop offset="0.978" stop-color="#4457a0"/><stop offset="0.989" stop-color="#4457a0"/><stop offset="1" stop-color="#4457a0"/></linearGradient>
<linearGradient id="g219" gradientUnits="userSpaceOnUse" x1="0" y1="437" x2="0" y2="554"><stop offset="0" stop-color="#4d63ad"/><stop offset="0.0278" stop-color="#4f66b1"/><stop offset="0.0556" stop-color="#526ab5"/><stop offset="0.111" stop-color="#556eb9"/><stop offset="0.167" stop-color="#546db9"/><stop offset="0.222" stop-color="#5168b3"/><stop offset="0.278" stop-color="#4c62ac"/><stop offset="0.333" stop-color="#485ca6"/><stop offset="0.389" stop-color="#4659a2"/><stop offset="0.444" stop-color="#4558a1"/><stop offset="0.5" stop-color="#4457a0"/><stop offset="0.556" stop-color="#4457a0"/><stop offset="0.611" stop-color="#4457a0"/><stop offset="0.667" stop-color="#4457a0"/><stop offset="0.722" stop-color="#4457a0"/><stop offset="0.778" stop-color="#4457a0"/><stop offset="0.822" stop-color="#4457a0"/><stop offset="0.867" stop-color="#4457a0"/><stop offset="0.9" stop-color="#4457a0"/><stop offset="0.922" stop-color="#4457a0"/><stop offset="0.944" stop-color="#4457a0"/><stop offset="0.961" stop-color="#4457a0"/><stop offset="0.978" stop-color="#4457a0"/><stop offset="0.989" stop-color="#4457a0"/><stop offset="1" stop-color="#4457a0"/></linearGradient>
<linearGradient id="g220" gradientUnits="userSpaceOnUse" x1="0" y1="437" x2="0" y2="554"><stop offset="0" stop-color="#4c62ad"/><stop offset="0.0278" stop-color="#4f65b0"/><stop offset="0.0556" stop-color="#5168b3"/><stop offset="0.111" stop-color="#546cb8"/><stop offset="0.167" stop-color="#536cb7"/><stop offset="0.222" stop-color="#5067b2"/><stop offset="0.278" stop-color="#4c61ab"/><stop offset="0.333" stop-color="#485ca6"/><stop offset="0.389" stop-color="#4659a2"/><stop offset="0.444" stop-color="#4458a1"/><stop offset="0.5" stop-color="#4457a0"/><stop offset="0.556" stop-color="#4457a0"/><stop offset="0.611" stop-color="#4457a0"/><stop offset="0.667" stop-color="#4457a0"/><stop offset="0.722" stop-color="#4457a0"/><stop offset="0.778" stop-color="#4457a0"/><stop offset="0.822" stop-color="#4457a0"/><stop offset="0.867" stop-color="#4457a0"/><stop offset="0.9" stop-color="#4457a0"/><stop offset="0.922" stop-color="#4457a0"/><stop offset="0.944" stop-color="#4457a0"/><stop offset="0.961" stop-color="#4457a0"/><stop offset="0.978" stop-color="#4457a0"/><stop offset="0.989" stop-color="#4457a0"/><stop offset="1" stop-color="#4457a0"/></linearGradient>
<linearGradient id="g221" gradientUnits="userSpaceOnUse" x1="0" y1="437" x2="0" y2="554"><stop offset="0" stop-color="#4c62ac"/><stop offset="0.0278" stop-color="#4e64af"/><stop offset="0.0556" stop-color="#5067b2"/><stop offset="0.111" stop-color="#536bb6"/><stop offset="0.167" stop-color="#526ab5"/><stop offset="0.222" stop-color="#4f66b1"/><stop offset="0.278" stop-color="#4b60ab"/><stop offset="0.333" stop-color="#485ca5"/><stop offset="0.389" stop-color="#4559a2"/><stop offset="0.444" stop-color="#4458a1"/><stop offset="0.5" stop-color="#4457a0"/><stop offset="0.556" stop-color="#4457a0"/><stop offset="0.611" stop-color="#4457a0"/><stop offset="0.667" stop-color="#4457a0"/><stop offset="0.722" stop-color="#4457a0"/><stop offset="0.778" stop-color="#4457a0"/><stop offset="0.822" stop-color="#4457a0"/><stop offset="0.867" stop-color="#4457a0"/><stop offset="0.9" stop-color="#4457a0"/><stop offset="0.922" stop-color="#4457a0"/><stop offset="0.944" stop-color="#4457a0"/><stop offset="0.961" stop-color="#4457a0"/><stop offset="0.978" stop-color="#4457a0"/><stop offset="0.989" stop-color="#4457a0"/><stop offset="1" stop-color="#4457a0"/></linearGradient>
<linearGradient id="g222" gradientUnits="userSpaceOnUse" x1="0" y1="437" x2="0" y2="554"><stop offset="0" stop-color="#4b61ab"/><stop offset="0.0278" stop-color="#4d63ae"/><stop offset="0.0556" stop-color="#4f66b1"/><stop offset="0.111" stop-color="#5169b4"/><stop offset="0.167" stop-color="#5169b4"/><stop offset="0.222" stop-color="#4e65af"/><stop offset="0.278" stop-color="#4a60aa"/><stop offset="0.333" stop-color="#475ba5"/><stop offset="0.389" stop-color="#4559a2"/><stop offset="0.444" stop-color="#4458a1"/><stop offset="0.5" stop-color="#4457a0"/><stop offset="0.556" stop-color="#4457a0"/><stop offset="0.611" stop-color="#4457a0"/><stop offset="0.667" stop-color="#4457a0"/><stop offset="0.722" stop-color="#4457a0"/><stop offset="0.778" stop-color="#4457a0"/><stop offset="0.822" stop-color="#4457a0"/><stop offset="0.867" stop-color="#4457a0"/><stop offset="0.9" stop-color="#4457a0"/><stop offset="0.922" stop-color="#4457a0"/><stop offset="0.944" stop-color="#4457a0"/><stop offset="0.961" stop-color="#4457a0"/><stop offset="0.978" stop-color="#4457a0"/><stop offset="0.989" stop-color="#4457a0"/><stop offset="1" stop-color="#4457a0"/></linearGradient>
<linearGradient id="g223" gradientUnits="userSpaceOnUse" x1="0" y1="437" x2="0" y2="554"><stop offset="0" stop-color="#4b60aa"/><stop offset="0.0278" stop-color="#4c62ad"/><stop offset="0.0556" stop-color="#4e65af"/><stop offset="0.111" stop-color="#5068b2"/><stop offset="0.167" stop-color="#5067b2"/><stop offset="0.222" stop-color="#4d64ae"/><stop offset="0.278" stop-color="#4a5fa9"/><stop offset="0.333" stop-color="#475ba4"/><stop offset="0.389" stop-color="#4559a2"/><stop offset="0.444" stop-color="#4458a1"/><stop offset="0.5" stop-color="#4457a0"/><stop offset="0.556" stop-color="#4457a0"/><stop offset="0.611" stop-color="#4457a0"/><stop offset="0.667" stop-color="#4457a0"/><stop offset="0.722" stop-color="#4457a0"/><stop offset="0.778" stop-color="#4457a0"/><stop offset="0.822" stop-color="#4457a0"/><stop offset="0.867" stop-color="#4457a0"/><stop offset="0.9" stop-color="#4457a0"/><stop offset="0.922" stop-color="#4457a0"/><stop offset="0.944" stop-color="#4457a0"/><stop offset="0.961" stop-color="#4457a0"/><stop offset="0.978" stop-color="#4457a0"/><stop offset="0.989" stop-color="#4457a0"/><stop offset="1" stop-color="#4457a0"/></linearGradient>
<linearGradient id="g224" gradientUnits="userSpaceOnUse" x1="0" y1="437" x2="0" y2="554"><stop offset="0" stop-color="#4a5fa9"/><stop offset="0.0278" stop-color="#4c61ab"/><stop offset="0.0556" stop-color="#4d63ae"/><stop offset="0.111" stop-color="#4f66b1"/><stop offset="0.167" stop-color="#4f66b0"/><stop offset="0.222" stop-color="#4c62ad"/><stop offset="0.278" stop-color="#495ea8"/><stop offset="0.333" stop-color="#475ba4"/><stop offset="0.389" stop-color="#4558a2"/><stop offset="0.444" stop-color="#4457a1"/><stop offset="0.5" stop-color="#4457a0"/><stop offset="0.556" stop-color="#4457a0"/><stop offset="0.611" stop-color="#4457a0"/><stop offset="0.667" stop-color="#4457a0"/><stop offset="0.722" stop-color="#4457a0"/><stop offset="0.778" stop-color="#4457a0"/><stop offset="0.822" stop-color="#4457a0"/><stop offset="0.867" stop-color="#4457a0"/><stop offset="0.9" stop-color="#4457a0"/><stop offset="0.922" stop-color="#4457a0"/><stop offset="0.944" stop-color="#4457a0"/><stop offset="0.961" stop-color="#4457a0"/><stop offset="0.978" stop-color="#4457a0"/><stop offset="0.989" stop-color="#4457a0"/><stop offset="1" stop-color="#4457a0"/></linearGradient>
<linearGradient id="g225" gradientUnits="userSpaceOnUse" x1="0" y1="437" x2="0" y2="554"><stop offset="0" stop-color="#495ea8"/><stop offset="0.0278" stop-color="#4b60aa"/><stop offset="0.0556" stop-color="#4c62ac"/><stop offset="0.111" stop-color="#4e64af"/><stop offset="0.167" stop-color="#4e64ae"/><stop offset="0.222" stop-color="#4c61ab"/><stop offset="0.278" stop-color="#495da7"/><stop offset="0.333" stop-color="#465aa4"/><stop offset="0.389" stop-color="#4558a1"/><stop offset="0.444" stop-color="#4457a0"/><stop offset="0.5" stop-color="#4457a0"/><stop offset="0.556" stop-color="#4457a0"/><stop offset="0.611" stop-color="#4457a0"/><stop offset="0.667" stop-color="#4457a0"/><stop offset="0.722" stop-color="#4457a0"/><stop offset="0.778" stop-color="#4457a0"/><stop offset="0.822" stop-color="#4457a0"/><stop offset="0.867" stop-color="#4457a0"/><stop offset="0.9" stop-color="#4457a0"/><stop offset="0.922" stop-color="#4457a0"/><stop offset="0.944" stop-color="#4457a0"/><stop offset="0.961" stop-color="#4457a0"/><stop offset="0.978" stop-color="#4457a0"/><stop offset="0.989" stop-color="#4457a0"/><stop offset="1" stop-color="#4457a0"/></linearGradient>
<linearGradient id="g226" gradientUnits="userSpaceOnUse" x1="0" y1="437" x2="0" y2="554"><stop offset="0" stop-color="#495da7"/><stop offset="0.0278" stop-color="#4a5fa9"/><stop offset="0.0556" stop-color="#4b61ab"/><stop offset="0.111" stop-color="#4d63ad"/><stop offset="0.167" stop-color="#4c62ad"/><stop offset="0.222" stop-color="#4b60aa"/><stop offset="0.278" stop-color="#485da6"/><stop offset="0.333" stop-color="#465aa3"/><stop offset="0.389" stop-color="#4558a1"/><stop offset="0.444" stop-color="#4457a0"/><stop offset="0.5" stop-color="#4457a0"/><stop offset="0.556" stop-color="#4457a0"/><stop offset="0.611" stop-color="#4457a0"/><stop offset="0.667" stop-color="#4457a0"/><stop offset="0.722" stop-color="#4457a0"/><stop offset="0.778" stop-color="#4457a0"/><stop offset="0.822" stop-color="#4457a0"/><stop offset="0.867" stop-color="#4457a0"/><stop offset="0.9" stop-color="#4457a0"/><stop offset="0.922" stop-color="#4457a0"/><stop offset="0.944" stop-color="#4457a0"/><stop offset="0.961" stop-color="#4457a0"/><stop offset="0.978" stop-color="#4457a0"/><stop offset="0.989" stop-color="#4457a0"/><stop offset="1" stop-color="#4457a0"/></linearGradient>
<linearGradient id="g227" gradientUnits="userSpaceOnUse" x1="0" y1="437" x2="0" y2="554"><stop offset="0" stop-color="#485ca6"/><stop offset="0.0278" stop-color="#495ea8"/><stop offset="0.0556" stop-color="#4a5fa9"/><stop offset="0.111" stop-color="#4c61ab"/><stop offset="0.167" stop-color="#4b61ab"/><stop offset="0.222" stop-color="#4a5fa9"/><stop offset="0.278" stop-color="#485ca5"/><stop offset="0.333" stop-color="#4659a3"/><stop offset="0.389" stop-color="#4558a1"/><stop offset="0.444" stop-color="#4457a0"/><stop offset="0.5" stop-color="#4457a0"/><stop offset="0.556" stop-color="#4457a0"/><stop offset="0.611" stop-color="#4457a0"/><stop offset="0.667" stop-color="#4457a0"/><stop offset="0.722" stop-color="#4457a0"/><stop offset="0.778" stop-color="#4457a0"/><stop offset="0.822" stop-color="#4457a0"/><stop offset="0.867" stop-color="#4457a0"/><stop offset="0.9" stop-color="#4457a0"/><stop offset="0.922" stop-color="#4457a0"/><stop offset="0.944" stop-color="#4457a0"/><stop offset="0.961" stop-color="#4457a0"/><stop offset="0.978" stop-color="#4457a0"/><stop offset="0.989" stop-color="#4457a0"/><stop offset="1" stop-color="#4457a0"/></linearGradient>
<linearGradient id="g228" gradientUnits="userSpaceOnUse" x1="0" y1="437" x2="0" y2="554"><stop offset="0" stop-color="#485ca5"/><stop offset="0.0278" stop-color="#485da7"/><stop offset="0.0556" stop-color="#495ea8"/><stop offset="0.111" stop-color="#4b60aa"/><stop offset="0.167" stop-color="#4a60aa"/><stop offset="0.222" stop-color="#495ea8"/><stop offset="0.278" stop-color="#475ba5"/><stop offset="0.333" stop-color="#4659a2"/><stop offset="0.389" stop-color="#4558a1"/><stop offset="0.444" stop-color="#4457a0"/><stop offset="0.5" stop-color="#4457a0"/><stop offset="0.556" stop-color="#4457a0"/><stop offset="0.611" stop-color="#4457a0"/><stop offset="0.667" stop-color="#4457a0"/><stop offset="0.722" stop-color="#4457a0"/><stop offset="0.778" stop-color="#4457a0"/><stop offset="0.822" stop-color="#4457a0"/><stop offset="0.867" stop-color="#4457a0"/><stop offset="0.9" stop-color="#4457a0"/><stop offset="0.922" stop-color="#4457a0"/><stop offset="0.944" stop-color="#4457a0"/><stop offset="0.961" stop-color="#4457a0"/><stop offset="0.978" stop-color="#4457a0"/><stop offset="0.989" stop-color="#4457a0"/><stop offset="1" stop-color="#4457a0"/></linearGradient>
<linearGradient id="g229" gradientUnits="userSpaceOnUse" x1="0" y1="437" x2="0" y2="554"><stop offset="0" stop-color="#475ba5"/><stop offset="0.0278" stop-color="#485ca6"/><stop offset="0.0556" stop-color="#495da7"/><stop offset="0.111" stop-color="#4a5fa8"/><stop offset="0.167" stop-color="#495ea8"/><stop offset="0.222" stop-color="#485da6"/><stop offset="0.278" stop-color="#475ba4"/><stop offset="0.333" stop-color="#4559a2"/><stop offset="0.389" stop-color="#4558a1"/><stop offset="0.444" stop-color="#4457a0"/><stop offset="0.5" stop-color="#4457a0"/><stop offset="0.556" stop-color="#4457a0"/><stop offset="0.611" stop-color="#4457a0"/><stop offset="0.667" stop-color="#4457a0"/><stop offset="0.722" stop-color="#4457a0"/><stop offset="0.778" stop-color="#4457a0"/><stop offset="0.822" stop-color="#4457a0"/><stop offset="0.867" stop-color="#4457a0"/><stop offset="0.9" stop-color="#4457a0"/><stop offset="0.922" stop-color="#4457a0"/><stop offset="0.944" stop-color="#4457a0"/><stop offset="0.961" stop-color="#4457a0"/><stop offset="0.978" stop-color="#4457a0"/><stop offset="0.989" stop-color="#4457a0"/><stop offset="1" stop-color="#4457a0"/></linearGradient>
<linearGradient id="g230" gradientUnits="userSpaceOnUse" x1="0" y1="437" x2="0" y2="554"><stop offset="0" stop-color="#475aa4"/><stop offset="0.0278" stop-color="#475ba5"/><stop offset="0.0556" stop-color="#485ca6"/><stop offset="0.111" stop-color="#495da7"/><stop offset="0.167" stop-color="#495da7"/><stop offset="0.222" stop-color="#485ca5"/><stop offset="0.278" stop-color="#465aa3"/><stop offset="0.333" stop-color="#4559a2"/><stop offset="0.389" stop-color="#4458a1"/><stop offset="0.444" stop-color="#4457a0"/><stop offset="0.5" stop-color="#4457a0"/><stop offset="0.556" stop-color="#4457a0"/><stop offset="0.611" stop-color="#4457a0"/><stop offset="0.667" stop-color="#4457a0"/><stop offset="0.722" stop-color="#4457a0"/><stop offset="0.778" stop-color="#4457a0"/><stop offset="0.822" stop-color="#4457a0"/><stop offset="0.867" stop-color="#4457a0"/><stop offset="0.9" stop-color="#4457a0"/><stop offset="0.922" stop-color="#4457a0"/><stop offset="0.944" stop-color="#4457a0"/><stop offset="0.961" stop-color="#4457a0"/><stop offset="0.978" stop-color="#4457a0"/><stop offset="0.989" stop-color="#4457a0"/><stop offset="1" stop-color="#4457a0"/></linearGradient>
<linearGradient id="g231" gradientUnits="userSpaceOnUse" x1="0" y1="437" x2="0" y2="554"><stop offset="0" stop-color="#465aa3"/><stop offset="0.0278" stop-color="#475ba4"/><stop offset="0.0556" stop-color="#475ba5"/><stop offset="0.111" stop-color="#485ca6"/><stop offset="0.167" stop-color="#485ca6"/><stop offset="0.222" stop-color="#475ba5"/><stop offset="0.278" stop-color="#465aa3"/><stop offset="0.333" stop-color="#4558a1"/><stop offset="0.389" stop-color="#4458a1"/><stop offset="0.444" stop-color="#4457a0"/><stop offset="0.5" stop-color="#4457a0"/><stop offset="0.556" stop-color="#4457a0"/><stop offset="0.611" stop-color="#4457a0"/><stop offset="0.667" stop-color="#4457a0"/><stop offset="0.722" stop-color="#4457a0"/><stop offset="0.778" stop-color="#4457a0"/><stop offset="0.822" stop-color="#4457a0"/><stop offset="0.867" stop-color="#4457a0"/><stop offset="0.9" stop-color="#4457a0"/><stop offset="0.922" stop-color="#4457a0"/><stop offset="0.944" stop-color="#4457a0"/><stop offset="0.961" stop-color="#4457a0"/><stop offset="0.978" stop-color="#4457a0"/><stop offset="0.989" stop-color="#4457a0"/><stop offset="1" stop-color="#4457a0"/></linearGradient>
<linearGradient id="g232" gradientUnits="userSpaceOnUse" x1="0" y1="437" x2="0" y2="554"><stop offset="0" stop-color="#4659a3"/><stop offset="0.0278" stop-color="#465aa3"/><stop offset="0.0556" stop-color="#475ba4"/><stop offset="0.111" stop-color="#475ba5"/><stop offset="0.167" stop-color="#475ba5"/><stop offset="0.222" stop-color="#475aa4"/><stop offset="0.278" stop-color="#4659a2"/><stop offset="0.333" stop-color="#4558a1"/><stop offset="0.389" stop-color="#4457a0"/><stop offset="0.444" stop-color="#4457a0"/><stop offset="0.5" stop-color="#4457a0"/><stop offset="0.556" stop-color="#4457a0"/><stop offset="0.611" stop-color="#4457a0"/><stop offset="0.667" stop-color="#4457a0"/><stop offset="0.722" stop-color="#4457a0"/><stop offset="0.778" stop-color="#4457a0"/><stop offset="0.822" stop-color="#4457a0"/><stop offset="0.867" stop-color="#4457a0"/><stop offset="0.9" stop-color="#4457a0"/><stop offset="0.922" stop-color="#4457a0"/><stop offset="0.944" stop-color="#4457a0"/><stop offset="0.961" stop-color="#4457a0"/><stop offset="0.978" stop-color="#4457a0"/><stop offset="0.989" stop-color="#4457a0"/><stop offset="1" stop-color="#4457a0"/></linearGradient>
<linearGradient id="g233" gradientUnits="userSpaceOnUse" x1="0" y1="437" x2="0" y2="554"><stop offset="0" stop-color="#4559a2"/><stop offset="0.0278" stop-color="#4659a3"/><stop offset="0.0556" stop-color="#465aa3"/><stop offset="0.111" stop-color="#475ba4"/><stop offset="0.167" stop-color="#475ba4"/><stop offset="0.222" stop-color="#465aa3"/><stop offset="0.278" stop-color="#4559a2"/><stop offset="0.333" stop-color="#4558a1"/><stop offset="0.389" stop-color="#4457a0"/><stop offset="0.444" stop-color="#4457a0"/><stop offset="0.5" stop-color="#4457a0"/><stop offset="0.556" stop-color="#4457a0"/><stop offset="0.611" stop-color="#4457a0"/><stop offset="0.667" stop-color="#4457a0"/><stop offset="0.722" stop-color="#4457a0"/><stop offset="0.778" stop-color="#4457a0"/><stop offset="0.822" stop-color="#4457a0"/><stop offset="0.867" stop-color="#4457a0"/><stop offset="0.9" stop-color="#4457a0"/><stop offset="0.922" stop-color="#4457a0"/><stop offset="0.944" stop-color="#4457a0"/><stop offset="0.961" stop-color="#4457a0"/><stop offset="0.978" stop-color="#4457a0"/><stop offset="0.989" stop-color="#4457a0"/><stop offset="1" stop-color="#4457a0"/></linearGradient>
<linearGradient id="g234" gradientUnits="userSpaceOnUse" x1="0" y1="437" x2="0" y2="554"><stop offset="0" stop-color="#4559a2"/><stop offset="0.0278" stop-color="#4659a2"/><stop offset="0.0556" stop-color="#4659a3"/><stop offset="0.111" stop-color="#465aa3"/><stop offset="0.167" stop-color="#465aa3"/><stop offset="0.222" stop-color="#4659a3"/><stop offset="0.278" stop-color="#4558a2"/><stop offset="0.333" stop-color="#4558a1"/><stop offset="0.389" stop-color="#4457a0"/><stop offset="0.444" stop-color="#4457a0"/><stop offset="0.5" stop-color="#4457a0"/><stop offset="0.556" stop-color="#4457a0"/><stop offset="0.611" stop-color="#4457a0"/><stop offset="0.667" stop-color="#4457a0"/><stop offset="0.722" stop-color="#4457a0"/><stop offset="0.778" stop-color="#4457a0"/><stop offset="0.822" stop-color="#4457a0"/><stop offset="0.867" stop-color="#4457a0"/><stop offset="0.9" stop-color="#4457a0"/><stop offset="0.922" stop-color="#4457a0"/><stop offset="0.944" stop-color="#4457a0"/><stop offset="0.961" stop-color="#4457a0"/><stop offset="0.978" stop-color="#4457a0"/><stop offset="0.989" stop-color="#4457a0"/><stop offset="1" stop-color="#4457a0"/></linearGradient>
<linearGradient id="g235" gradientUnits="userSpaceOnUse" x1="0" y1="437" x2="0" y2="554"><stop offset="0" stop-color="#4558a1"/><stop offset="0.0278" stop-color="#4559a2"/><stop offset="0.0556" stop-color="#4559a2"/><stop offset="0.111" stop-color="#4659a3"/><stop offset="0.167" stop-color="#4659a3"/><stop offset="0.222" stop-color="#4559a2"/><stop offset="0.278" stop-color="#4558a1"/><stop offset="0.333" stop-color="#4458a1"/><stop offset="0.389" stop-color="#4457a0"/><stop offset="0.444" stop-color="#4457a0"/><stop offset="0.5" stop-color="#4457a0"/><stop offset="0.556" stop-color="#4457a0"/><stop offset="0.611" stop-color="#4457a0"/><stop offset="0.667" stop-color="#4457a0"/><stop offset="0.722" stop-color="#4457a0"/><stop offset="0.778" stop-color="#4457a0"/><stop offset="0.822" stop-color="#4457a0"/><stop offset="0.867" stop-color="#4457a0"/><stop offset="0.9" stop-color="#4457a0"/><stop offset="0.922" stop-color="#4457a0"/><stop offset="0.944" stop-color="#4457a0"/><stop offset="0.961" stop-color="#4457a0"/><stop offset="0.978" stop-color="#4457a0"/><stop offset="0.989" stop-color="#4457a0"/><stop offset="1" stop-color="#4457a0"/></linearGradient>
<linearGradient id="g236" gradientUnits="userSpaceOnUse" x1="0" y1="437" x2="0" y2="554"><stop offset="0" stop-color="#4558a1"/><stop offset="0.0278" stop-color="#4558a1"/><stop offset="0.0556" stop-color="#4559a2"/><stop offset="0.111" stop-color="#4559a2"/><stop offset="0.167" stop-color="#4559a2"/><stop offset="0.222" stop-color="#4558a2"/><stop offset="0.278" stop-color="#4558a1"/><stop offset="0.333" stop-color="#4457a1"/><stop offset="0.389" stop-color="#4457a0"/><stop offset="0.444" stop-color="#4457a0"/><stop offset="0.5" stop-color="#4457a0"/><stop offset="0.556" stop-color="#4457a0"/><stop offset="0.611" stop-color="#4457a0"/><stop offset="0.667" stop-color="#4457a0"/><stop offset="0.722" stop-color="#4457a0"/><stop offset="0.778" stop-color="#4457a0"/><stop offset="0.822" stop-color="#4457a0"/><stop offset="0.867" stop-color="#4457a0"/><stop offset="0.9" stop-color="#4457a0"/><stop offset="0.922" stop-color="#4457a0"/><stop offset="0.944" stop-color="#4457a0"/><stop offset="0.961" stop-color="#4457a0"/><stop offset="0.978" stop-color="#4457a0"/><stop offset="0.989" stop-color="#4457a0"/><stop offset="1" stop-color="#4457a0"/></linearGradient>
<linearGradient id="g237" gradientUnits="userSpaceOnUse" x1="0" y1="437" x2="0" y2="554"><stop offset="0" stop-color="#4558a1"/><stop offset="0.0278" stop-color="#4558a1"/><stop offset="0.0556" stop-color="#4558a1"/><stop offset="0.111" stop-color="#4558a2"/><stop offset="0.167" stop-color="#4558a2"/><stop offset="0.222" stop-color="#4558a1"/><stop offset="0.278" stop-color="#4558a1"/><stop offset="0.333" stop-color="#4457a0"/><stop offset="0.389" stop-color="#4457a0"/><stop offset="0.444" stop-color="#4457a0"/><stop offset="0.5" stop-color="#4457a0"/><stop offset="0.556" stop-color="#4457a0"/><stop offset="0.611" stop-color="#4457a0"/><stop offset="0.667" stop-color="#4457a0"/><stop offset="0.722" stop-color="#4457a0"/><stop offset="0.778" stop-color="#4457a0"/><stop offset="0.822" stop-color="#4457a0"/><stop offset="0.867" stop-color="#4457a0"/><stop offset="0.9" stop-color="#4457a0"/><stop offset="0.922" stop-color="#4457a0"/><stop offset="0.944" stop-color="#4457a0"/><stop offset="0.961" stop-color="#4457a0"/><stop offset="0.978" stop-color="#4457a0"/><stop offset="0.989" stop-color="#4457a0"/><stop offset="1" stop-color="#4457a0"/></linearGradient>
<linearGradient id="g238" gradientUnits="userSpaceOnUse" x1="0" y1="437" x2="0" y2="554"><stop offset="0" stop-color="#4458a1"/><stop offset="0.0278" stop-color="#4558a1"/><stop offset="0.0556" stop-color="#4558a1"/><stop offset="0.111" stop-color="#4558a1"/><stop offset="0.167" stop-color="#4558a1"/><stop offset="0.222" stop-color="#4558a1"/><stop offset="0.278" stop-color="#4458a1"/><stop offset="0.333" stop-color="#4457a0"/><stop offset="0.389" stop-color="#4457a0"/><stop offset="0.444" stop-color="#4457a0"/><stop offset="0.5" stop-color="#4457a0"/><stop offset="0.556" stop-color="#4457a0"/><stop offset="0.611" stop-color="#4457a0"/><stop offset="0.667" stop-color="#4457a0"/><stop offset="0.722" stop-color="#4457a0"/><stop offset="0.778" stop-color="#4457a0"/><stop offset="0.822" stop-color="#4457a0"/><stop offset="0.867" stop-color="#4457a0"/><stop offset="0.9" stop-color="#4457a0"/><stop offset="0.922" stop-color="#4457a0"/><stop offset="0.944" stop-color="#4457a0"/><stop offset="0.961" stop-color="#4457a0"/><stop offset="0.978" stop-color="#4457a0"/><stop offset="0.989" stop-color="#4457a0"/><stop offset="1" stop-color="#4457a0"/></linearGradient>
<linearGradient id="g239" gradientUnits="userSpaceOnUse" x1="0" y1="437" x2="0" y2="554"><stop offset="0" stop-color="#4457a1"/><stop offset="0.0278" stop-color="#4458a1"/><stop offset="0.0556" stop-color="#4558a1"/><stop offset="0.111" stop-color="#4558a1"/><stop offset="0.167" stop-color="#4558a1"/><stop offset="0.222" stop-color="#4558a1"/><stop offset="0.278" stop-color="#4457a0"/><stop offset="0.333" stop-color="#4457a0"/><stop offset="0.389" stop-color="#4457a0"/><stop offset="0.444" stop-color="#4457a0"/><stop offset="0.5" stop-color="#4457a0"/><stop offset="0.556" stop-color="#4457a0"/><stop offset="0.611" stop-color="#4457a0"/><stop offset="0.667" stop-color="#4457a0"/><stop offset="0.722" stop-color="#4457a0"/><stop offset="0.778" stop-color="#4457a0"/><stop offset="0.822" stop-color="#4457a0"/><stop offset="0.867" stop-color="#4457a0"/><stop offset="0.9" stop-color="#4457a0"/><stop offset="0.922" stop-color="#4457a0"/><stop offset="0.944" stop-color="#4457a0"/><stop offset="0.961" stop-color="#4457a0"/><stop offset="0.978" stop-color="#4457a0"/><stop offset="0.989" stop-color="#4457a0"/><stop offset="1" stop-color="#4457a0"/></linearGradient>
<linearGradient id="g240" gradientUnits="userSpaceOnUse" x1="0" y1="437" x2="0" y2="554"><stop offset="0" stop-color="#4457a0"/><stop offset="0.0278" stop-color="#4457a1"/><stop offset="0.0556" stop-color="#4458a1"/><stop offset="0.111" stop-color="#4558a1"/><stop offset="0.167" stop-color="#4458a1"/><stop offset="0.222" stop-color="#4458a1"/><stop offset="0.278" stop-color="#4457a0"/><stop offset="0.333" stop-color="#4457a0"/><stop offset="0.389" stop-color="#4457a0"/><stop offset="0.444" stop-color="#4457a0"/><stop offset="0.5" stop-color="#4457a0"/><stop offset="0.556" stop-color="#4457a0"/><stop offset="0.611" stop-color="#4457a0"/><stop offset="0.667" stop-color="#4457a0"/><stop offset="0.722" stop-color="#4457a0"/><stop offset="0.778" stop-color="#4457a0"/><stop offset="0.822" stop-color="#4457a0"/><stop offset="0.867" stop-color="#4457a0"/><stop offset="0.9" stop-color="#4457a0"/><stop offset="0.922" stop-color="#4457a0"/><stop offset="0.944" stop-color="#4457a0"/><stop offset="0.961" stop-color="#4457a0"/><stop offset="0.978" stop-color="#4457a0"/><stop offset="0.989" stop-color="#4457a0"/><stop offset="1" stop-color="#4457a0"/></linearGradient>
<linearGradient id="g241" gradientUnits="userSpaceOnUse" x1="0" y1="437" x2="0" y2="554"><stop offset="0" stop-color="#4457a0"/><stop offset="0.0278" stop-color="#4457a0"/><stop offset="0.0556" stop-color="#4457a0"/><stop offset="0.111" stop-color="#4458a1"/><stop offset="0.167" stop-color="#4458a1"/><stop offset="0.222" stop-color="#4457a0"/><stop offset="0.278" stop-color="#4457a0"/><stop offset="0.333" stop-color="#4457a0"/><stop offset="0.389" stop-color="#4457a0"/><stop offset="0.444" stop-color="#4457a0"/><stop offset="0.5" stop-color="#4457a0"/><stop offset="0.556" stop-color="#4457a0"/><stop offset="0.611" stop-color="#4457a0"/><stop offset="0.667" stop-color="#4457a0"/><stop offset="0.722" stop-color="#4457a0"/><stop offset="0.778" stop-color="#4457a0"/><stop offset="0.822" stop-color="#4457a0"/><stop offset="0.867" stop-color="#4457a0"/><stop offset="0.9" stop-color="#4457a0"/><stop offset="0.922" stop-color="#4457a0"/><stop offset="0.944" stop-color="#4457a0"/><stop offset="0.961" stop-color="#4457a0"/><stop offset="0.978" stop-color="#4457a0"/><stop offset="0.989" stop-color="#4457a0"/><stop offset="1" stop-color="#4457a0"/></linearGradient>
<linearGradient id="g242" gradientUnits="userSpaceOnUse" x1="491" y1="0" x2="540" y2="0"><stop offset="0" stop-color="#e1dfe0"/><stop offset="0.15" stop-color="#cd3f3a"/><stop offset="0.45" stop-color="#e06b56"/><stop offset="0.8" stop-color="#f3c8b4"/><stop offset="1" stop-color="#8daae4"/></linearGradient>
<linearGradient id="g243" gradientUnits="userSpaceOnUse" x1="0" y1="441" x2="0" y2="519"><stop offset="0" stop-color="#c3282d"/><stop offset="0.1" stop-color="#d75546"/><stop offset="0.2" stop-color="#e88066"/><stop offset="0.3" stop-color="#f4aa8c"/><stop offset="0.4" stop-color="#f3c8b4"/><stop offset="0.5" stop-color="#e1dfe0"/><stop offset="0.6" stop-color="#afc6ee"/><stop offset="0.7" stop-color="#8daae4"/><stop offset="0.8" stop-color="#708ed4"/><stop offset="0.9" stop-color="#5872be"/><stop offset="1" stop-color="#4457a0"/></linearGradient>
<filter id="bl" x="-10%" y="-20%" width="120%" height="140%"><feGaussianBlur stdDeviation="0.55"/></filter>
<linearGradient id="paneL" gradientUnits="userSpaceOnUse" x1="0" y1="262" x2="0" y2="330"><stop offset="0" stop-color="#fdfdfd"/><stop offset="1" stop-color="#f7f7f8"/></linearGradient>
<linearGradient id="paneR" gradientUnits="userSpaceOnUse" x1="0" y1="262" x2="0" y2="330"><stop offset="0" stop-color="#fafafa"/><stop offset="1" stop-color="#f0f1f2"/></linearGradient>
<linearGradient id="g244" gradientUnits="userSpaceOnUse" x1="95.1" y1="279.2" x2="168.8" y2="297.1"><stop offset="0" stop-color="#701e24"/><stop offset="0.3" stop-color="#963a32"/><stop offset="0.55" stop-color="#8c2d2a"/><stop offset="0.75" stop-color="#7c1c20"/><stop offset="0.9" stop-color="#7a3c3a"/><stop offset="1" stop-color="#746864"/></linearGradient>
<clipPath id="c245"><polygon points="67.0,299.2 109.6,268.9 183.0,285.6 141.1,319.3"/></clipPath>
<linearGradient id="g246" gradientUnits="userSpaceOnUse" x1="111.7" y1="332.7" x2="163.4" y2="346.3"><stop offset="0" stop-color="#2b3270"/><stop offset="0.092" stop-color="#374680"/><stop offset="0.202" stop-color="#556c9b"/><stop offset="0.304" stop-color="#8796af"/><stop offset="0.377" stop-color="#bea28e"/><stop offset="0.428" stop-color="#a53c28"/><stop offset="0.46" stop-color="#851618"/><stop offset="0.498" stop-color="#a53c28"/><stop offset="0.557" stop-color="#bea596"/><stop offset="0.644" stop-color="#8c98af"/><stop offset="0.762" stop-color="#556c9b"/><stop offset="0.892" stop-color="#374680"/><stop offset="1" stop-color="#2b3270"/></linearGradient>
<clipPath id="c247"><polygon points="68.5,360.6 110.9,328.2 181.5,346.6 140.9,381.6"/></clipPath>
<linearGradient id="g248" gradientUnits="userSpaceOnUse" x1="103.0" y1="399.0" x2="152.5" y2="412.8"><stop offset="0" stop-color="#2b3270"/><stop offset="0.092" stop-color="#34427c"/><stop offset="0.202" stop-color="#4e6496"/><stop offset="0.294" stop-color="#6c80a2"/><stop offset="0.359" stop-color="#918a87"/><stop offset="0.414" stop-color="#af643e"/><stop offset="0.46" stop-color="#b04a28"/><stop offset="0.514" stop-color="#af643e"/><stop offset="0.579" stop-color="#918a8a"/><stop offset="0.654" stop-color="#6e82a3"/><stop offset="0.762" stop-color="#4e6496"/><stop offset="0.892" stop-color="#34427c"/><stop offset="1" stop-color="#2b3270"/></linearGradient>
<clipPath id="c249"><polygon points="69.5,420.1 111.2,385.6 180.5,404.5 141.6,441.0"/></clipPath>
<linearGradient id="g250" gradientUnits="userSpaceOnUse" x1="93.0" y1="463.4" x2="142.1" y2="477.9"><stop offset="0" stop-color="#2b3270"/><stop offset="0.092" stop-color="#34427c"/><stop offset="0.202" stop-color="#4e6496"/><stop offset="0.294" stop-color="#6c80a2"/><stop offset="0.359" stop-color="#918a87"/><stop offset="0.414" stop-color="#af643e"/><stop offset="0.46" stop-color="#b04a28"/><stop offset="0.514" stop-color="#af643e"/><stop offset="0.579" stop-color="#918a8a"/><stop offset="0.654" stop-color="#6e82a3"/><stop offset="0.762" stop-color="#4e6496"/><stop offset="0.892" stop-color="#34427c"/><stop offset="1" stop-color="#2b3270"/></linearGradient>
<clipPath id="c251"><polygon points="70.6,475.7 111.5,440.7 179.3,460.2 141.6,497.0"/></clipPath>
<linearGradient id="g252" gradientUnits="userSpaceOnUse" x1="79.3" y1="527.7" x2="134.9" y2="545.8"><stop offset="0" stop-color="#2b3270"/><stop offset="0.092" stop-color="#34427c"/><stop offset="0.202" stop-color="#4e6496"/><stop offset="0.294" stop-color="#6c80a2"/><stop offset="0.359" stop-color="#918a87"/><stop offset="0.414" stop-color="#af643e"/><stop offset="0.46" stop-color="#b04a28"/><stop offset="0.514" stop-color="#af643e"/><stop offset="0.579" stop-color="#918a8a"/><stop offset="0.654" stop-color="#6e82a3"/><stop offset="0.762" stop-color="#4e6496"/><stop offset="0.892" stop-color="#34427c"/><stop offset="1" stop-color="#2b3270"/></linearGradient>
<clipPath id="c253"><polygon points="71.8,530.4 111.6,493.2 178.3,513.8 140.7,553.0"/></clipPath>
<linearGradient id="g254" gradientUnits="userSpaceOnUse" x1="0" y1="297" x2="0" y2="383"><stop offset="0" stop-color="#c3282d"/><stop offset="0.1" stop-color="#d75546"/><stop offset="0.2" stop-color="#e88066"/><stop offset="0.3" stop-color="#f4aa8c"/><stop offset="0.4" stop-color="#f3c8b4"/><stop offset="0.5" stop-color="#e1dfe0"/><stop offset="0.6" stop-color="#afc6ee"/><stop offset="0.7" stop-color="#8daae4"/><stop offset="0.8" stop-color="#708ed4"/><stop offset="0.9" stop-color="#5872be"/><stop offset="1" stop-color="#4457a0"/></linearGradient>
</defs>
<text x="0.9" y="13.4" font-size="14" font-weight="bold" font-family="'Liberation Sans','DejaVu Sans',sans-serif" fill="#1a1a1a" textLength="18.4" lengthAdjust="spacingAndGlyphs">(A)</text>
<text x="305.6" y="13.5" font-size="14" font-weight="bold" font-family="'Liberation Sans','DejaVu Sans',sans-serif" fill="#1a1a1a" textLength="18.4" lengthAdjust="spacingAndGlyphs">(B)</text>
<text x="0.9" y="250.6" font-size="14" font-weight="bold" font-family="'Liberation Sans','DejaVu Sans',sans-serif" fill="#1a1a1a" textLength="18.4" lengthAdjust="spacingAndGlyphs">(C)</text>
<g fill="#3f80be"><circle cx="221.3" cy="40.1" r="4.8"/><circle cx="220.4" cy="43.6" r="4.8"/><circle cx="174.3" cy="58.5" r="4.8"/><circle cx="209" cy="60.6" r="4.8"/><circle cx="214.6" cy="67.6" r="4.8"/><circle cx="144.5" cy="65.9" r="4.8"/><circle cx="176.9" cy="77.8" r="4.8"/><circle cx="182.2" cy="77.3" r="4.8"/><circle cx="176.4" cy="86.2" r="4.8"/><circle cx="195" cy="86.6" r="4.8"/><circle cx="206.7" cy="84.8" r="4.8"/><circle cx="207.1" cy="90.1" r="4.8"/><circle cx="207.1" cy="94.5" r="4.8"/><circle cx="165.9" cy="95.3" r="4.8"/><circle cx="169.9" cy="97.1" r="4.8"/><circle cx="179.6" cy="95.7" r="4.8"/><circle cx="131.9" cy="100.6" r="4.8"/><circle cx="148" cy="112.4" r="4.8"/><circle cx="204.1" cy="102.3" r="4.8"/><circle cx="197.1" cy="108.5" r="4.8"/><circle cx="194.9" cy="111.9" r="4.8"/><circle cx="188" cy="118.4" r="4.8"/><circle cx="203.2" cy="120" r="4.8"/><circle cx="218.5" cy="118.2" r="4.8"/><circle cx="189.2" cy="122.6" r="4.8"/><circle cx="210.2" cy="126.1" r="4.8"/><circle cx="184.8" cy="128" r="4.8"/><circle cx="198" cy="132.2" r="4.8"/><circle cx="207.6" cy="133.7" r="4.8"/><circle cx="127" cy="132.8" r="4.8"/><circle cx="153.4" cy="136.6" r="4.8"/><circle cx="177.8" cy="138.4" r="4.8"/><circle cx="187.5" cy="136.3" r="4.8"/><circle cx="163.8" cy="141.2" r="4.8"/><circle cx="159.9" cy="143.3" r="4.8"/><circle cx="185.7" cy="141.5" r="4.8"/><circle cx="189.2" cy="142.4" r="4.8"/><circle cx="125.2" cy="145.5" r="4.8"/><circle cx="187.5" cy="147.7" r="4.8"/><circle cx="196.2" cy="152" r="4.8"/><circle cx="218.1" cy="152.9" r="4.8"/><circle cx="134.5" cy="157.1" r="4.8"/><circle cx="140.1" cy="163.7" r="4.8"/><circle cx="127" cy="164.1" r="4.8"/><circle cx="121.6" cy="165" r="4.8"/><circle cx="147.2" cy="168.2" r="4.8"/><circle cx="168.2" cy="165.7" r="4.8"/><circle cx="173.1" cy="165.7" r="4.8"/><circle cx="188.3" cy="166.1" r="4.8"/><circle cx="170.8" cy="174.8" r="4.8"/><circle cx="222.5" cy="178" r="4.8"/><circle cx="207.6" cy="176.2" r="4.8"/><circle cx="209.3" cy="180.1" r="4.8"/><circle cx="195.7" cy="182.7" r="4.8"/><circle cx="203.2" cy="183.6" r="4.8"/><circle cx="174.3" cy="186.2" r="4.8"/><circle cx="215.5" cy="191.5" r="4.8"/><circle cx="203.7" cy="193.2" r="4.8"/><circle cx="69.1" cy="141.5" r="4.8"/></g>
<g fill="#e62a25"><circle cx="170.8" cy="38" r="4.8"/><circle cx="191.8" cy="40.1" r="4.8"/><circle cx="226.3" cy="43.3" r="4.8"/><circle cx="210.9" cy="53.6" r="4.8"/><circle cx="184.8" cy="65.5" r="4.8"/><circle cx="211.4" cy="67.3" r="4.8"/><circle cx="167.8" cy="70.3" r="4.8"/><circle cx="159.6" cy="77.8" r="4.8"/><circle cx="157.5" cy="87.1" r="4.8"/><circle cx="178.2" cy="88" r="4.8"/><circle cx="218.6" cy="86.2" r="4.8"/><circle cx="219.9" cy="90.4" r="4.8"/><circle cx="191" cy="95.3" r="4.8"/><circle cx="196.6" cy="95.7" r="4.8"/><circle cx="201.5" cy="97.6" r="4.8"/><circle cx="157.5" cy="100.6" r="4.8"/><circle cx="159.4" cy="103.7" r="4.8"/><circle cx="184.3" cy="103.7" r="4.8"/><circle cx="137.5" cy="105.3" r="4.8"/><circle cx="208" cy="109.5" r="4.8"/><circle cx="161.5" cy="119.5" r="4.8"/><circle cx="164.7" cy="119" r="4.8"/><circle cx="144.2" cy="132" r="4.8"/><circle cx="205.3" cy="128" r="4.8"/><circle cx="217.8" cy="136.6" r="4.8"/><circle cx="152" cy="150.6" r="4.8"/><circle cx="201.5" cy="164" r="4.8"/><circle cx="154.6" cy="171" r="4.8"/><circle cx="119.6" cy="174" r="4.8"/><circle cx="186.6" cy="177.8" r="4.8"/><circle cx="179.2" cy="184.8" r="4.8"/><circle cx="161.7" cy="192" r="4.8"/><circle cx="122.2" cy="194.4" r="4.8"/></g>
<path d="M61.2 31.8V202.3H236" fill="none" stroke="#111" stroke-width="1.8"/>
<line x1="54" y1="33.2" x2="61" y2="33.2" stroke="#111" stroke-width="1.6"/>
<text x="49.3" y="37.5" font-size="11.4" text-anchor="end" fill="#1a1a1a">8</text>
<line x1="54" y1="115.8" x2="61" y2="115.8" stroke="#111" stroke-width="1.6"/>
<text x="49.3" y="120.1" font-size="11.4" text-anchor="end" fill="#1a1a1a">4.5</text>
<line x1="54" y1="198.6" x2="61" y2="198.6" stroke="#111" stroke-width="1.6"/>
<text x="49.3" y="202.9" font-size="11.4" text-anchor="end" fill="#1a1a1a">1</text>
<line x1="106.6" y1="202.3" x2="106.6" y2="209.2" stroke="#111" stroke-width="1.6"/>
<text x="106.6" y="222.8" font-size="11.4" text-anchor="middle" fill="#1a1a1a">0.6</text>
<line x1="205.8" y1="202.3" x2="205.8" y2="209.2" stroke="#111" stroke-width="1.6"/>
<text x="205.8" y="222.8" font-size="11.4" text-anchor="middle" fill="#1a1a1a">1</text>
<text x="22.2" y="113" font-size="15.4" text-anchor="middle" transform="rotate(-90 22.2 113)" fill="#1a1a1a">Reversal point&#160;&#160;(<tspan font-style="italic">μ</tspan>l)</text>
<text x="148" y="243.3" font-size="17" text-anchor="middle" font-style="italic" fill="#1a1a1a">γ</text>
<text x="66.5" y="33.7" font-size="17" fill="#d6303a">Photo-ided</text>
<text x="66.5" y="53.9" font-size="17.1" fill="#4a80be">Putative</text>
<text x="85.2" y="82.5" font-size="12.05" fill="#1a1a1a">p=0.3</text>
<g shape-rendering="crispEdges"><rect x="441" y="8" width="1.5" height="117.5" fill="url(#g1)"/><rect x="442" y="8" width="1.5" height="117.5" fill="url(#g2)"/><rect x="443" y="8" width="1.5" height="117.5" fill="url(#g3)"/><rect x="444" y="8" width="1.5" height="117.5" fill="url(#g4)"/><rect x="445" y="8" width="1.5" height="117.5" fill="url(#g5)"/><rect x="446" y="8" width="1.5" height="117.5" fill="url(#g6)"/><rect x="447" y="8" width="1.5" height="117.5" fill="url(#g7)"/><rect x="448" y="8" width="1.5" height="117.5" fill="url(#g8)"/><rect x="449" y="8" width="1.5" height="117.5" fill="url(#g9)"/><rect x="450" y="8" width="1.5" height="117.5" fill="url(#g10)"/><rect x="451" y="8" width="1.5" height="117.5" fill="url(#g11)"/><rect x="452" y="8" width="1.5" height="117.5" fill="url(#g12)"/><rect x="453" y="8" width="1.5" height="117.5" fill="url(#g13)"/><rect x="454" y="8" width="1.5" height="117.5" fill="url(#g14)"/><rect x="455" y="8" width="1.5" height="117.5" fill="url(#g15)"/><rect x="456" y="8" width="1.5" height="117.5" fill="url(#g16)"/><rect x="457" y="8" width="1.5" height="117.5" fill="url(#g17)"/><rect x="458" y="8" width="1.5" height="117.5" fill="url(#g18)"/><rect x="459" y="8" width="1.5" height="117.5" fill="url(#g19)"/><rect x="460" y="8" width="1.5" height="117.5" fill="url(#g20)"/><rect x="461" y="8" width="1.5" height="117.5" fill="url(#g21)"/><rect x="462" y="8" width="1.5" height="117.5" fill="url(#g22)"/><rect x="463" y="8" width="1.5" height="117.5" fill="url(#g23)"/><rect x="464" y="8" width="1.5" height="117.5" fill="url(#g24)"/><rect x="465" y="8" width="1.5" height="117.5" fill="url(#g25)"/><rect x="466" y="8" width="1.5" height="117.5" fill="url(#g26)"/><rect x="467" y="8" width="1.5" height="117.5" fill="url(#g27)"/><rect x="468" y="8" width="1.5" height="117.5" fill="url(#g28)"/><rect x="469" y="8" width="1.5" height="117.5" fill="url(#g29)"/><rect x="470" y="8" width="1.5" height="117.5" fill="url(#g30)"/><rect x="471" y="8" width="1.5" height="117.5" fill="url(#g31)"/><rect x="472" y="8" width="1.5" height="117.5" fill="url(#g32)"/><rect x="473" y="8" width="1.5" height="117.5" fill="url(#g33)"/><rect x="474" y="8" width="1.5" height="117.5" fill="url(#g34)"/><rect x="475" y="8" width="1.5" height="117.5" fill="url(#g35)"/><rect x="476" y="8" width="1.5" height="117.5" fill="url(#g36)"/><rect x="477" y="8" width="1.5" height="117.5" fill="url(#g37)"/><rect x="478" y="8" width="1.5" height="117.5" fill="url(#g38)"/><rect x="479" y="8" width="1.5" height="117.5" fill="url(#g39)"/><rect x="480" y="8" width="1.5" height="117.5" fill="url(#g40)"/><rect x="481" y="8" width="1.5" height="117.5" fill="url(#g41)"/><rect x="482" y="8" width="1.5" height="117.5" fill="url(#g42)"/><rect x="483" y="8" width="1.5" height="117.5" fill="url(#g43)"/><rect x="484" y="8" width="1.5" height="117.5" fill="url(#g44)"/><rect x="485" y="8" width="1.5" height="117.5" fill="url(#g45)"/><rect x="486" y="8" width="1.5" height="117.5" fill="url(#g46)"/><rect x="487" y="8" width="1.5" height="117.5" fill="url(#g47)"/><rect x="488" y="8" width="1.5" height="117.5" fill="url(#g48)"/><rect x="489" y="8" width="1.5" height="117.5" fill="url(#g49)"/><rect x="490" y="8" width="1.5" height="117.5" fill="url(#g50)"/><rect x="491" y="8" width="1.5" height="117.5" fill="url(#g51)"/><rect x="492" y="8" width="1.5" height="117.5" fill="url(#g52)"/><rect x="493" y="8" width="1.5" height="117.5" fill="url(#g53)"/><rect x="494" y="8" width="1.5" height="117.5" fill="url(#g54)"/><rect x="495" y="8" width="1.5" height="117.5" fill="url(#g55)"/><rect x="496" y="8" width="1.5" height="117.5" fill="url(#g56)"/><rect x="497" y="8" width="1.5" height="117.5" fill="url(#g57)"/><rect x="498" y="8" width="1.5" height="117.5" fill="url(#g58)"/><rect x="499" y="8" width="1.5" height="117.5" fill="url(#g59)"/><rect x="500" y="8" width="1.5" height="117.5" fill="url(#g60)"/><rect x="501" y="8" width="1.5" height="117.5" fill="url(#g61)"/><rect x="502" y="8" width="1.5" height="117.5" fill="url(#g62)"/><rect x="503" y="8" width="1.5" height="117.5" fill="url(#g63)"/><rect x="504" y="8" width="1.5" height="117.5" fill="url(#g64)"/><rect x="505" y="8" width="1.5" height="117.5" fill="url(#g65)"/><rect x="506" y="8" width="1.5" height="117.5" fill="url(#g66)"/><rect x="507" y="8" width="1.5" height="117.5" fill="url(#g67)"/><rect x="508" y="8" width="1.5" height="117.5" fill="url(#g68)"/><rect x="509" y="8" width="1.5" height="117.5" fill="url(#g69)"/><rect x="510" y="8" width="1.5" height="117.5" fill="url(#g70)"/><rect x="511" y="8" width="1.5" height="117.5" fill="url(#g71)"/><rect x="512" y="8" width="1.5" height="117.5" fill="url(#g72)"/><rect x="513" y="8" width="1.5" height="117.5" fill="url(#g73)"/><rect x="514" y="8" width="1.5" height="117.5" fill="url(#g74)"/><rect x="515" y="8" width="1.5" height="117.5" fill="url(#g75)"/><rect x="516" y="8" width="1.5" height="117.5" fill="url(#g76)"/><rect x="517" y="8" width="1.5" height="117.5" fill="url(#g77)"/><rect x="518" y="8" width="1.5" height="117.5" fill="url(#g78)"/><rect x="519" y="8" width="1.5" height="117.5" fill="url(#g79)"/><rect x="520" y="8" width="1.5" height="117.5" fill="url(#g80)"/><rect x="521" y="8" width="1.5" height="117.5" fill="url(#g81)"/><rect x="522" y="8" width="1.5" height="117.5" fill="url(#g82)"/><rect x="523" y="8" width="1.5" height="117.5" fill="url(#g83)"/><rect x="524" y="8" width="1.5" height="117.5" fill="url(#g84)"/><rect x="525" y="8" width="1.5" height="117.5" fill="url(#g85)"/><rect x="526" y="8" width="1.5" height="117.5" fill="url(#g86)"/><rect x="527" y="8" width="1.5" height="117.5" fill="url(#g87)"/><rect x="528" y="8" width="1.5" height="117.5" fill="url(#g88)"/><rect x="529" y="8" width="1.5" height="117.5" fill="url(#g89)"/><rect x="530" y="8" width="1.5" height="117.5" fill="url(#g90)"/><rect x="531" y="8" width="1.5" height="117.5" fill="url(#g91)"/><rect x="532" y="8" width="1.5" height="117.5" fill="url(#g92)"/><rect x="533" y="8" width="1.5" height="117.5" fill="url(#g93)"/><rect x="534" y="8" width="1.5" height="117.5" fill="url(#g94)"/><rect x="535" y="8" width="1.5" height="117.5" fill="url(#g95)"/><rect x="536" y="8" width="1.5" height="117.5" fill="url(#g96)"/><rect x="537" y="8" width="1.5" height="117.5" fill="url(#g97)"/><rect x="538" y="8" width="1.5" height="117.5" fill="url(#g98)"/><rect x="539" y="8" width="1.5" height="117.5" fill="url(#g99)"/><rect x="540" y="8" width="1.5" height="117.5" fill="url(#g100)"/><rect x="541" y="8" width="1.5" height="117.5" fill="url(#g101)"/><rect x="542" y="8" width="1.5" height="117.5" fill="url(#g102)"/><rect x="543" y="8" width="1.5" height="117.5" fill="url(#g103)"/><rect x="544" y="8" width="1.5" height="117.5" fill="url(#g104)"/><rect x="545" y="8" width="1.5" height="117.5" fill="url(#g105)"/><rect x="546" y="8" width="1.5" height="117.5" fill="url(#g106)"/><rect x="547" y="8" width="1.5" height="117.5" fill="url(#g107)"/><rect x="548" y="8" width="1" height="117.5" fill="url(#g108)"/></g>
<path d="M441 8V125.4H549" fill="none" stroke="#1f1f1f" stroke-width="1.3"/>
<line x1="435.8" y1="26.0" x2="441" y2="26.0" stroke="#1f1f1f" stroke-width="1.2"/>
<text x="430.8" y="30.0" font-size="10.6" text-anchor="end" fill="#1a1a1a">2</text>
<line x1="435.8" y1="58.3" x2="441" y2="58.3" stroke="#1f1f1f" stroke-width="1.2"/>
<text x="430.8" y="62.3" font-size="10.6" text-anchor="end" fill="#1a1a1a">4</text>
<line x1="435.8" y1="90.6" x2="441" y2="90.6" stroke="#1f1f1f" stroke-width="1.2"/>
<text x="430.8" y="94.6" font-size="10.6" text-anchor="end" fill="#1a1a1a">6</text>
<line x1="435.8" y1="122.89999999999998" x2="441" y2="122.89999999999998" stroke="#1f1f1f" stroke-width="1.2"/>
<text x="430.8" y="126.89999999999998" font-size="10.6" text-anchor="end" fill="#1a1a1a">8</text>
<line x1="441.0" y1="125.4" x2="441.0" y2="130.6" stroke="#1f1f1f" stroke-width="1.2"/>
<text x="441.0" y="143.9" font-size="10.6" text-anchor="middle" fill="#1a1a1a">0.0</text>
<line x1="494.75" y1="125.4" x2="494.75" y2="130.6" stroke="#1f1f1f" stroke-width="1.2"/>
<text x="494.75" y="143.9" font-size="10.6" text-anchor="middle" fill="#1a1a1a">0.5</text>
<line x1="548.5" y1="125.4" x2="548.5" y2="130.6" stroke="#1f1f1f" stroke-width="1.2"/>
<text x="548.5" y="143.9" font-size="10.6" text-anchor="middle" fill="#1a1a1a">1.0</text>
<text x="415.6" y="66.5" font-size="15.2" text-anchor="middle" transform="rotate(-90 415.6 66.5)" fill="#1a1a1a">Reversal point</text>
<text x="494.5" y="164.5" font-size="15.5" text-anchor="middle" font-style="italic" fill="#1a1a1a">γ</text>
<rect x="560" y="8.5" width="5.2" height="78.5" fill="url(#g109)" stroke="#222" stroke-width="0.9"/>
<text x="582.6" y="48.5" font-size="13.5" text-anchor="middle" transform="rotate(-90 582.6 48.5)" fill="#1a1a1a">Firing Rate</text>
<text x="599.3" y="48.5" font-size="13.5" text-anchor="middle" transform="rotate(-90 599.3 48.5)" fill="#1a1a1a">at cue</text>
<path d="M493.8 170V212M486.2 200.5L493.8 212L501.40000000000003 200.5" fill="none" stroke="#1a1a1a" stroke-width="1.4" stroke-linejoin="miter"/>
<text x="520.8" y="170.1" font-size="15.3" fill="#1a1a1a" stroke="#1a1a1a" stroke-width="0.55">Time</text>
<text x="520.8" y="189.1" font-size="15.3" fill="#1a1a1a">Inverse Laplace</text>
<text x="520.8" y="207.9" font-size="15.3" fill="#1a1a1a">decoder for each line</text>
<g shape-rendering="crispEdges"><rect x="441" y="217" width="107" height="117" fill="#f5f9fe"/><rect x="471" y="217" width="1.5" height="117" fill="url(#g110)"/><rect x="472" y="217" width="1.5" height="117" fill="url(#g111)"/><rect x="473" y="217" width="1.5" height="117" fill="url(#g112)"/><rect x="474" y="217" width="1.5" height="117" fill="url(#g113)"/><rect x="475" y="217" width="1.5" height="117" fill="url(#g114)"/><rect x="476" y="217" width="1.5" height="117" fill="url(#g115)"/><rect x="477" y="217" width="1.5" height="117" fill="url(#g116)"/><rect x="478" y="217" width="1.5" height="117" fill="url(#g117)"/><rect x="479" y="217" width="1.5" height="117" fill="url(#g118)"/><rect x="480" y="217" width="1.5" height="117" fill="url(#g119)"/><rect x="481" y="217" width="1.5" height="117" fill="url(#g120)"/><rect x="482" y="217" width="1.5" height="117" fill="url(#g121)"/><rect x="483" y="217" width="1.5" height="117" fill="url(#g122)"/><rect x="484" y="217" width="1.5" height="117" fill="url(#g123)"/><rect x="485" y="217" width="1.5" height="117" fill="url(#g124)"/><rect x="486" y="217" width="1.5" height="117" fill="url(#g125)"/><rect x="487" y="217" width="1.5" height="117" fill="url(#g126)"/><rect x="488" y="217" width="1.5" height="117" fill="url(#g127)"/><rect x="489" y="217" width="1.5" height="117" fill="url(#g128)"/><rect x="490" y="217" width="1.5" height="117" fill="url(#g129)"/><rect x="491" y="217" width="1.5" height="117" fill="url(#g130)"/><rect x="492" y="217" width="1.5" height="117" fill="url(#g131)"/><rect x="493" y="217" width="1.5" height="117" fill="url(#g132)"/><rect x="494" y="217" width="1.5" height="117" fill="url(#g133)"/><rect x="495" y="217" width="1.5" height="117" fill="url(#g134)"/><rect x="496" y="217" width="1.5" height="117" fill="url(#g135)"/><rect x="497" y="217" width="1.5" height="117" fill="url(#g136)"/><rect x="498" y="217" width="1.5" height="117" fill="url(#g137)"/><rect x="499" y="217" width="1.5" height="117" fill="url(#g138)"/><rect x="500" y="217" width="1.5" height="117" fill="url(#g139)"/><rect x="501" y="217" width="1.5" height="117" fill="url(#g140)"/><rect x="502" y="217" width="1.5" height="117" fill="url(#g141)"/><rect x="503" y="217" width="1.5" height="117" fill="url(#g142)"/><rect x="504" y="217" width="1.5" height="117" fill="url(#g143)"/><rect x="505" y="217" width="1.5" height="117" fill="url(#g144)"/><rect x="506" y="217" width="1.5" height="117" fill="url(#g145)"/><rect x="507" y="217" width="1.5" height="117" fill="url(#g146)"/><rect x="508" y="217" width="1.5" height="117" fill="url(#g147)"/><rect x="509" y="217" width="1.5" height="117" fill="url(#g148)"/><rect x="510" y="217" width="1.5" height="117" fill="url(#g149)"/><rect x="511" y="217" width="1.5" height="117" fill="url(#g150)"/><rect x="512" y="217" width="1.5" height="117" fill="url(#g151)"/><rect x="513" y="217" width="1.5" height="117" fill="url(#g152)"/><rect x="514" y="217" width="1.5" height="117" fill="url(#g153)"/><rect x="515" y="217" width="1.5" height="117" fill="url(#g154)"/><rect x="516" y="217" width="1.5" height="117" fill="url(#g155)"/><rect x="517" y="217" width="1.5" height="117" fill="url(#g156)"/></g>
<path d="M441 217V334.2H548.7" fill="none" stroke="#1f1f1f" stroke-width="1.3"/>
<line x1="435.8" y1="235.0" x2="441" y2="235.0" stroke="#1f1f1f" stroke-width="1.2"/>
<text x="430.8" y="239.0" font-size="10.6" text-anchor="end" fill="#1a1a1a">2</text>
<line x1="435.8" y1="267.3" x2="441" y2="267.3" stroke="#1f1f1f" stroke-width="1.2"/>
<text x="430.8" y="271.3" font-size="10.6" text-anchor="end" fill="#1a1a1a">4</text>
<line x1="435.8" y1="299.6" x2="441" y2="299.6" stroke="#1f1f1f" stroke-width="1.2"/>
<text x="430.8" y="303.6" font-size="10.6" text-anchor="end" fill="#1a1a1a">6</text>
<line x1="435.8" y1="331.9" x2="441" y2="331.9" stroke="#1f1f1f" stroke-width="1.2"/>
<text x="430.8" y="335.9" font-size="10.6" text-anchor="end" fill="#1a1a1a">8</text>
<line x1="441.0" y1="334.2" x2="441.0" y2="339.4" stroke="#1f1f1f" stroke-width="1.2"/>
<text x="441.0" y="352.7" font-size="10.6" text-anchor="middle" fill="#1a1a1a">0</text>
<line x1="476.6666666666667" y1="334.2" x2="476.6666666666667" y2="339.4" stroke="#1f1f1f" stroke-width="1.2"/>
<text x="476.6666666666667" y="352.7" font-size="10.6" text-anchor="middle" fill="#1a1a1a">2</text>
<line x1="512.3333333333334" y1="334.2" x2="512.3333333333334" y2="339.4" stroke="#1f1f1f" stroke-width="1.2"/>
<text x="512.3333333333334" y="352.7" font-size="10.6" text-anchor="middle" fill="#1a1a1a">4</text>
<line x1="548.0" y1="334.2" x2="548.0" y2="339.4" stroke="#1f1f1f" stroke-width="1.2"/>
<text x="548.0" y="352.7" font-size="10.6" text-anchor="middle" fill="#1a1a1a">6</text>
<text x="415.6" y="275.5" font-size="15.2" text-anchor="middle" transform="rotate(-90 415.6 275.5)" fill="#1a1a1a">Reversal point</text>
<text x="495" y="372.2" font-size="15.3" text-anchor="middle" fill="#1a1a1a">Time</text>
<path d="M491.2 378.5V420.4M483.59999999999997 408.9L491.2 420.4L498.8 408.9" fill="none" stroke="#1a1a1a" stroke-width="1.4" stroke-linejoin="miter"/>
<text x="516.5" y="392.3" font-size="15.3" fill="#1a1a1a" stroke="#1a1a1a" stroke-width="0.55">Magnitude</text>
<text x="516.5" y="411.1" font-size="15.3" fill="#1a1a1a">Expectile decoder for</text>
<text x="516.5" y="430" font-size="15.3" fill="#1a1a1a">each column</text>
<g shape-rendering="crispEdges"><rect x="440" y="437" width="118" height="117" fill="#4457a0"/><rect x="471" y="437" width="1.5" height="117" fill="url(#g157)"/><rect x="472" y="437" width="1.5" height="117" fill="url(#g158)"/><rect x="473" y="437" width="1.5" height="117" fill="url(#g159)"/><rect x="474" y="437" width="1.5" height="117" fill="url(#g160)"/><rect x="475" y="437" width="1.5" height="117" fill="url(#g161)"/><rect x="476" y="437" width="1.5" height="117" fill="url(#g162)"/><rect x="477" y="437" width="1.5" height="117" fill="url(#g163)"/><rect x="478" y="437" width="1.5" height="117" fill="url(#g164)"/><rect x="479" y="437" width="1.5" height="117" fill="url(#g165)"/><rect x="480" y="437" width="1.5" height="117" fill="url(#g166)"/><rect x="481" y="437" width="1.5" height="117" fill="url(#g167)"/><rect x="482" y="437" width="1.5" height="117" fill="url(#g168)"/><rect x="483" y="437" width="1.5" height="117" fill="url(#g169)"/><rect x="484" y="437" width="1.5" height="117" fill="url(#g170)"/><rect x="485" y="437" width="1.5" height="117" fill="url(#g171)"/><rect x="486" y="437" width="1.5" height="117" fill="url(#g172)"/><rect x="487" y="437" width="1.5" height="117" fill="url(#g173)"/><rect x="488" y="437" width="1.5" height="117" fill="url(#g174)"/><rect x="489" y="437" width="1.5" height="117" fill="url(#g175)"/><rect x="490" y="437" width="1.5" height="117" fill="url(#g176)"/><rect x="491" y="437" width="1.5" height="117" fill="url(#g177)"/><rect x="492" y="437" width="1.5" height="117" fill="url(#g178)"/><rect x="493" y="437" width="1.5" height="117" fill="url(#g179)"/><rect x="494" y="437" width="1.5" height="117" fill="url(#g180)"/><rect x="495" y="437" width="1.5" height="117" fill="url(#g181)"/><rect x="496" y="437" width="1.5" height="117" fill="url(#g182)"/><rect x="497" y="437" width="1.5" height="117" fill="url(#g183)"/><rect x="498" y="437" width="1.5" height="117" fill="url(#g184)"/><rect x="499" y="437" width="1.5" height="117" fill="url(#g185)"/><rect x="500" y="437" width="1.5" height="117" fill="url(#g186)"/><rect x="501" y="437" width="1.5" height="117" fill="url(#g187)"/><rect x="502" y="437" width="1.5" height="117" fill="url(#g188)"/><rect x="503" y="437" width="1.5" height="117" fill="url(#g189)"/><rect x="504" y="437" width="1.5" height="117" fill="url(#g190)"/><rect x="505" y="437" width="1.5" height="117" fill="url(#g191)"/><rect x="506" y="437" width="1.5" height="117" fill="url(#g192)"/><rect x="507" y="437" width="1.5" height="117" fill="url(#g193)"/><rect x="508" y="437" width="1.5" height="117" fill="url(#g194)"/><rect x="509" y="437" width="1.5" height="117" fill="url(#g195)"/><rect x="510" y="437" width="1.5" height="117" fill="url(#g196)"/><rect x="511" y="437" width="1.5" height="117" fill="url(#g197)"/><rect x="512" y="437" width="1.5" height="117" fill="url(#g198)"/><rect x="513" y="437" width="1.5" height="117" fill="url(#g199)"/><rect x="514" y="437" width="1.5" height="117" fill="url(#g200)"/><rect x="515" y="437" width="1.5" height="117" fill="url(#g201)"/><rect x="516" y="437" width="1.5" height="117" fill="url(#g202)"/><rect x="517" y="437" width="1.5" height="117" fill="url(#g203)"/><rect x="518" y="437" width="1.5" height="117" fill="url(#g204)"/><rect x="519" y="437" width="1.5" height="117" fill="url(#g205)"/><rect x="520" y="437" width="1.5" height="117" fill="url(#g206)"/><rect x="521" y="437" width="1.5" height="117" fill="url(#g207)"/><rect x="522" y="437" width="1.5" height="117" fill="url(#g208)"/><rect x="523" y="437" width="1.5" height="117" fill="url(#g209)"/><rect x="524" y="437" width="1.5" height="117" fill="url(#g210)"/><rect x="525" y="437" width="1.5" height="117" fill="url(#g211)"/><rect x="526" y="437" width="1.5" height="117" fill="url(#g212)"/><rect x="527" y="437" width="1.5" height="117" fill="url(#g213)"/><rect x="528" y="437" width="1.5" height="117" fill="url(#g214)"/><rect x="529" y="437" width="1.5" height="117" fill="url(#g215)"/><rect x="530" y="437" width="1.5" height="117" fill="url(#g216)"/><rect x="531" y="437" width="1.5" height="117" fill="url(#g217)"/><rect x="532" y="437" width="1.5" height="117" fill="url(#g218)"/><rect x="533" y="437" width="1.5" height="117" fill="url(#g219)"/><rect x="534" y="437" width="1.5" height="117" fill="url(#g220)"/><rect x="535" y="437" width="1.5" height="117" fill="url(#g221)"/><rect x="536" y="437" width="1.5" height="117" fill="url(#g222)"/><rect x="537" y="437" width="1.5" height="117" fill="url(#g223)"/><rect x="538" y="437" width="1.5" height="117" fill="url(#g224)"/><rect x="539" y="437" width="1.5" height="117" fill="url(#g225)"/><rect x="540" y="437" width="1.5" height="117" fill="url(#g226)"/><rect x="541" y="437" width="1.5" height="117" fill="url(#g227)"/><rect x="542" y="437" width="1.5" height="117" fill="url(#g228)"/><rect x="543" y="437" width="1.5" height="117" fill="url(#g229)"/><rect x="544" y="437" width="1.5" height="117" fill="url(#g230)"/><rect x="545" y="437" width="1.5" height="117" fill="url(#g231)"/><rect x="546" y="437" width="1.5" height="117" fill="url(#g232)"/><rect x="547" y="437" width="1.5" height="117" fill="url(#g233)"/><rect x="548" y="437" width="1.5" height="117" fill="url(#g234)"/><rect x="549" y="437" width="1.5" height="117" fill="url(#g235)"/><rect x="550" y="437" width="1.5" height="117" fill="url(#g236)"/><rect x="551" y="437" width="1.5" height="117" fill="url(#g237)"/><rect x="552" y="437" width="1.5" height="117" fill="url(#g238)"/><rect x="553" y="437" width="1.5" height="117" fill="url(#g239)"/><rect x="554" y="437" width="1.5" height="117" fill="url(#g240)"/><rect x="555" y="437" width="1.5" height="117" fill="url(#g241)"/></g>
<rect x="491" y="436.6" width="49" height="1.3" fill="url(#g242)"/>
<path d="M440.4 437V554.4H558.6" fill="none" stroke="#1f1f1f" stroke-width="1.3"/>
<line x1="435.3" y1="437.3" x2="440.4" y2="437.3" stroke="#1f1f1f" stroke-width="1.2"/>
<text x="430.3" y="441.40000000000003" font-size="10.7" text-anchor="end" fill="#1a1a1a">0</text>
<line x1="435.3" y1="463.3" x2="440.4" y2="463.3" stroke="#1f1f1f" stroke-width="1.2"/>
<text x="430.3" y="467.40000000000003" font-size="10.7" text-anchor="end" fill="#1a1a1a">2</text>
<line x1="435.3" y1="489.3" x2="440.4" y2="489.3" stroke="#1f1f1f" stroke-width="1.2"/>
<text x="430.3" y="493.40000000000003" font-size="10.7" text-anchor="end" fill="#1a1a1a">4</text>
<line x1="435.3" y1="515.3" x2="440.4" y2="515.3" stroke="#1f1f1f" stroke-width="1.2"/>
<text x="430.3" y="519.4" font-size="10.7" text-anchor="end" fill="#1a1a1a">6</text>
<line x1="435.3" y1="541.3" x2="440.4" y2="541.3" stroke="#1f1f1f" stroke-width="1.2"/>
<text x="430.3" y="545.4" font-size="10.7" text-anchor="end" fill="#1a1a1a">8</text>
<line x1="440.5" y1="554.4" x2="440.5" y2="559.6" stroke="#1f1f1f" stroke-width="1.2"/>
<text x="440.5" y="573.2" font-size="10.7" text-anchor="middle" fill="#1a1a1a">0</text>
<line x1="479.8" y1="554.4" x2="479.8" y2="559.6" stroke="#1f1f1f" stroke-width="1.2"/>
<text x="479.8" y="573.2" font-size="10.7" text-anchor="middle" fill="#1a1a1a">2</text>
<line x1="519.1" y1="554.4" x2="519.1" y2="559.6" stroke="#1f1f1f" stroke-width="1.2"/>
<text x="519.1" y="573.2" font-size="10.7" text-anchor="middle" fill="#1a1a1a">4</text>
<line x1="558.4" y1="554.4" x2="558.4" y2="559.6" stroke="#1f1f1f" stroke-width="1.2"/>
<text x="558.4" y="573.2" font-size="10.7" text-anchor="middle" fill="#1a1a1a">6</text>
<text x="414.6" y="496.2" font-size="15.4" text-anchor="middle" transform="rotate(-90 414.6 496.2)" fill="#1a1a1a">Magnitude</text>
<text x="499.5" y="593" font-size="15.3" text-anchor="middle" fill="#1a1a1a">Time</text>
<rect x="568.6" y="441" width="6.6" height="77.8" fill="url(#g243)" stroke="#222" stroke-width="0.9"/>
<text x="591.8" y="479" font-size="15.2" text-anchor="middle" transform="rotate(-90 591.8 479)" fill="#1a1a1a">Decoded</text>
<text x="609.5" y="479.5" font-size="15.2" text-anchor="middle" transform="rotate(-90 609.5 479.5)" fill="#1a1a1a">density</text>
<polygon points="59.9,293.8 108.7,260.5 110.5,497 64.7,535.3" fill="url(#paneL)"/>
<polygon points="108.7,260.5 190,278.6 186,517.5 110.5,497" fill="url(#paneR)"/>
<polygon points="64.7,535.3 110.5,497 186,517.5 143.5,560.9" fill="#ececed"/>
<polygon points="67.0,299.2 109.6,268.9 183.0,285.6 141.1,319.3" fill="#2b3270"/>
<g clip-path="url(#c245)"><polygon points="89.6,283.1 100.7,275.3 174.2,292.7 163.3,301.4" fill="url(#g244)" filter="url(#bl)"/></g>
<polygon points="68.5,360.6 110.9,328.2 181.5,346.6 140.9,381.6" fill="#2b3270"/>
<g clip-path="url(#c247)"><polygon points="105.5,337.5 118.0,327.9 169.4,341.2 157.3,351.4" fill="url(#g246)" filter="url(#bl)"/></g>
<polygon points="69.5,420.1 111.2,385.6 180.5,404.5 141.6,441.0" fill="#2b3270"/>
<g clip-path="url(#c249)"><polygon points="97.6,403.5 108.4,394.5 157.7,408.1 147.4,417.5" fill="url(#g248)" filter="url(#bl)"/></g>
<polygon points="70.6,475.7 111.5,440.7 179.3,460.2 141.6,497.0" fill="#2b3270"/>
<g clip-path="url(#c251)"><polygon points="87.8,467.8 98.2,458.9 147.0,473.2 137.2,482.5" fill="url(#g250)" filter="url(#bl)"/></g>
<polygon points="71.8,530.4 111.6,493.2 178.3,513.8 140.7,553.0" fill="#2b3270"/>
<g clip-path="url(#c253)"><polygon points="73.3,533.4 85.4,522.0 140.7,539.9 129.2,551.8" fill="url(#g252)" filter="url(#bl)"/></g>
<line x1="64.7" y1="535.3" x2="143.5" y2="560.9" stroke="#111" stroke-width="1"/>
<line x1="143.5" y1="560.9" x2="185.3" y2="517.3" stroke="#111" stroke-width="1"/>
<line x1="67.5" y1="536.2" x2="68.7" y2="533.7" stroke="#111" stroke-width="0.9"/>
<line x1="97.5" y1="546" x2="98.7" y2="543.5" stroke="#111" stroke-width="0.9"/>
<line x1="128" y1="556" x2="129.2" y2="553.5" stroke="#111" stroke-width="0.9"/>
<line x1="146.5" y1="557.8" x2="144.0" y2="557.0" stroke="#111" stroke-width="0.9"/>
<line x1="155.5" y1="548.4" x2="153.0" y2="547.6" stroke="#111" stroke-width="0.9"/>
<line x1="163.5" y1="540" x2="161.0" y2="539.2" stroke="#111" stroke-width="0.9"/>
<line x1="183.5" y1="519.2" x2="181.0" y2="518.4000000000001" stroke="#111" stroke-width="0.9"/>
<text x="64.8" y="551.5" font-size="10.7" text-anchor="middle" fill="#1a1a1a">1</text>
<text x="94" y="561.5" font-size="10.7" text-anchor="middle" fill="#1a1a1a">4.5</text>
<text x="124.7" y="571.6" font-size="10.7" text-anchor="middle" fill="#1a1a1a">8</text>
<text x="152.6" y="568.7" font-size="10.7" text-anchor="middle" fill="#1a1a1a">0</text>
<text x="165.5" y="559" font-size="10.7" text-anchor="middle" fill="#1a1a1a">1.5</text>
<text x="174.3" y="546" font-size="10.7" text-anchor="middle" fill="#1a1a1a">3</text>
<text x="189.5" y="529.8" font-size="10.7" text-anchor="middle" fill="#1a1a1a">6</text>
<text x="86" y="578.5" font-size="15.2" text-anchor="middle" transform="rotate(18 86 578.5)" fill="#1a1a1a">Magnitude</text>
<text x="194.6" y="563.4" font-size="15.3" text-anchor="middle" transform="rotate(-47 194.6 563.4)" fill="#1a1a1a">Time</text>
<text x="194.3" y="291.1" font-size="14" fill="#1a1a1a">3s variable cue</text>
<line x1="189.2" y1="286.9" x2="191.6" y2="286.9" stroke="#111" stroke-width="1.1"/>
<text x="194.3" y="350.7" font-size="14" fill="#78232a">6s certain cue</text>
<line x1="189.2" y1="346.4" x2="191.6" y2="346.4" stroke="#111" stroke-width="1.1"/>
<text x="194.3" y="409.4" font-size="14" fill="#ad2a2c">3s certain cue</text>
<line x1="189.2" y1="404.8" x2="191.6" y2="404.8" stroke="#111" stroke-width="1.1"/>
<text x="192.8" y="464.5" font-size="14" fill="#b8322e">1.5s certain cue</text>
<line x1="189.2" y1="460.3" x2="191.6" y2="460.3" stroke="#111" stroke-width="1.1"/>
<text x="192.8" y="519.8" font-size="14" fill="#e29a86">0s certain cue</text>
<rect x="45.3" y="297" width="6" height="86" fill="url(#g254)" stroke="#222" stroke-width="0.9"/>
<text x="17.3" y="337.8" font-size="15.5" text-anchor="middle" transform="rotate(-90 17.3 337.8)" fill="#1a1a1a">Decoded</text>
<text x="35.3" y="338.6" font-size="15.5" text-anchor="middle" transform="rotate(-90 35.3 338.6)" fill="#1a1a1a">density</text>
</svg>
</body></html>
